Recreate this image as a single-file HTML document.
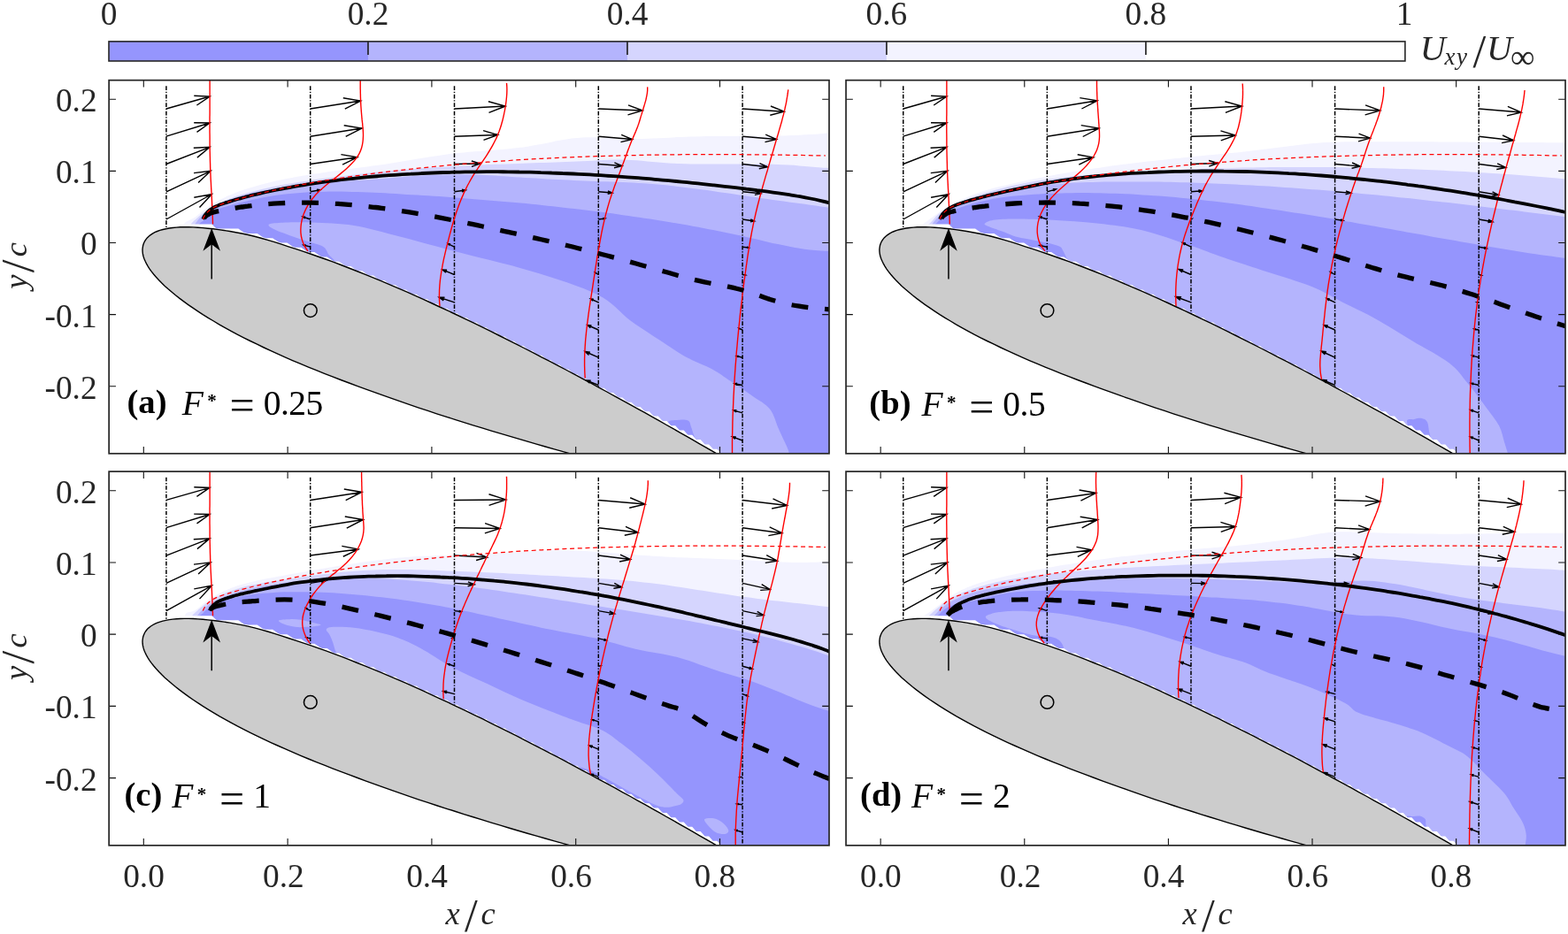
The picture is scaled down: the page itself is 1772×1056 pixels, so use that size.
<!DOCTYPE html>
<html lang="en"><head><meta charset="utf-8"><title>Velocity contours</title>
<style>
html,body{margin:0;padding:0;background:#fff;}
body{width:1772px;height:1056px;overflow:hidden;}
svg{display:block;}
text{font-family:"Liberation Serif","DejaVu Serif",serif;fill:#262626;}
.tk{font-size:37.3px;}
.lab{font-size:38px;fill:#000;}
.axl{font-size:36.5px;font-style:italic;}
.sl{font-size:53px;}
</style></head><body>
<svg width="1772" height="1056" viewBox="0 0 1772 1056">
<defs>
<clipPath id="clip"><rect x="123.15" y="90.7" width="813.85" height="422.1"/></clipPath>
</defs>
<rect width="1772" height="1056" fill="#fff"/>
<rect x="123.00" y="46.9" width="293.48" height="22.1" fill="#9595fd"/>
<rect x="415.98" y="46.9" width="293.48" height="22.1" fill="#b4b4fd"/>
<rect x="708.96" y="46.9" width="293.48" height="22.1" fill="#d5d5fe"/>
<rect x="1001.94" y="46.9" width="293.48" height="22.1" fill="#f3f3ff"/>
<rect x="1294.92" y="46.9" width="292.98" height="22.1" fill="#ffffff"/>
<path d="M415.98,46.9v15M708.96,46.9v15M1001.94,46.9v15M1294.92,46.9v15" stroke="#1a1a1a" stroke-width="1.6" fill="none"/>
<rect x="123" y="46.9" width="1464.9" height="22.1" fill="none" stroke="#262626" stroke-width="1.6"/>
<text x="123.0" y="27.6" class="tk" text-anchor="middle">0</text>
<text x="416.0" y="27.6" class="tk" text-anchor="middle">0.2</text>
<text x="709.0" y="27.6" class="tk" text-anchor="middle">0.4</text>
<text x="1001.9" y="27.6" class="tk" text-anchor="middle">0.6</text>
<text x="1294.9" y="27.6" class="tk" text-anchor="middle">0.8</text>
<text x="1587.0" y="27.6" class="tk" text-anchor="middle">1</text>
<text class="axl"><tspan x="1604.8" y="67.6" style="font-size:40px">U</tspan><tspan x="1632.5" y="73" style="font-size:27px;letter-spacing:1.6px">xy</tspan><tspan x="1664.5" y="75.6" class="sl" style="font-style:normal">/</tspan><tspan x="1680" y="67.6" style="font-size:40px">U</tspan><tspan x="1707" y="77" style="font-size:38.5px;font-style:normal">∞</tspan></text>
<g transform="translate(123.150,90.700) scale(1,1) translate(-123.15,-90.7)">
<g clip-path="url(#clip)">
<path d="M207.5,253.7C208.0,253.2 209.3,251.5 210.4,250.7C211.5,249.9 212.8,249.5 214.0,249.0C215.2,248.4 217.0,247.6 217.6,247.3C218.2,247.0 217.3,247.6 217.8,247.2C218.4,246.8 219.9,245.9 220.9,245.2C222.0,244.4 223.1,243.5 224.1,242.6C225.1,241.8 226.6,240.5 227.2,240.0C227.8,239.5 227.1,240.1 227.6,239.7C228.2,239.3 229.4,238.3 230.4,237.5C231.4,236.7 232.5,235.9 233.6,235.1C234.7,234.3 236.2,233.3 236.9,232.8C237.6,232.3 237.0,232.7 237.6,232.4C238.1,232.0 239.2,231.3 240.3,230.6C241.3,230.0 242.5,229.2 243.7,228.6C244.8,227.9 246.4,227.0 247.2,226.6C247.9,226.2 247.5,226.4 248.1,226.1C248.7,225.8 249.7,225.3 250.7,224.8C251.7,224.3 253.1,223.6 254.3,223.0C255.5,222.4 257.1,221.7 257.9,221.3C258.7,221.0 257.0,221.6 259.1,220.8C261.2,220.0 266.7,217.7 270.5,216.3C274.3,214.9 278.3,213.6 282.2,212.4C286.1,211.2 290.0,210.1 294.0,209.0C297.9,207.9 301.9,206.9 305.9,206.0C309.9,205.0 313.9,204.1 317.9,203.3C321.9,202.4 325.9,201.6 329.9,200.9C333.9,200.1 337.9,199.4 342.0,198.7C346.0,198.0 350.1,197.4 354.1,196.8C358.2,196.2 362.2,195.6 366.3,195.0C370.3,194.4 374.4,193.9 378.5,193.3C382.5,192.8 386.6,192.2 390.7,191.7C394.7,191.2 398.8,190.6 402.9,190.1C406.9,189.6 411.0,189.0 415.0,188.5C419.1,187.9 423.2,187.4 427.2,186.8C431.3,186.2 435.3,185.7 439.4,185.0C443.4,184.4 447.5,183.8 451.5,183.1C455.5,182.4 459.5,181.8 463.6,181.1C467.6,180.4 471.6,179.7 475.6,179.0C479.7,178.3 483.7,177.7 487.7,177.0C491.8,176.4 495.8,175.8 499.8,175.2C503.9,174.7 507.9,174.1 512.0,173.6C516.0,173.2 520.1,172.8 524.1,172.4C528.2,172.0 532.3,171.7 536.4,171.3C540.4,171.0 544.5,170.7 548.6,170.4C552.7,170.1 556.8,169.8 560.9,169.5C564.9,169.1 569.0,168.8 573.1,168.4C577.2,168.0 581.3,167.6 585.3,167.1C589.4,166.6 593.5,166.0 597.5,165.4C601.6,164.8 605.6,164.0 609.7,163.3C613.7,162.5 617.7,161.7 621.8,160.9C625.8,160.1 629.8,159.3 633.8,158.6C637.9,157.9 641.9,157.2 645.9,156.6C650.0,156.1 654.0,155.7 658.1,155.4C662.1,155.2 666.2,155.1 670.2,155.2C674.3,155.2 678.4,155.5 682.5,155.7C686.6,155.9 690.7,156.3 694.7,156.5C698.8,156.7 702.9,156.9 707.0,157.0C711.1,157.1 715.2,157.1 719.3,157.1C723.4,157.0 727.5,156.9 731.5,156.8C735.6,156.7 739.7,156.5 743.8,156.3C747.9,156.1 752.0,155.9 756.1,155.7C760.1,155.5 764.2,155.2 768.3,155.1C772.4,154.9 776.5,154.7 780.6,154.6C784.7,154.4 788.8,154.3 792.8,154.2C796.9,154.1 801.0,154.1 805.1,154.0C809.2,154.0 813.3,153.9 817.4,153.9C821.5,153.9 825.6,153.9 829.7,153.9C833.7,153.8 837.8,153.8 841.9,153.8C846.0,153.8 850.1,153.8 854.2,153.8C858.3,153.7 862.4,153.7 866.5,153.7C870.6,153.6 874.6,153.6 878.7,153.5C882.8,153.4 886.9,153.3 891.0,153.2C895.1,153.1 899.2,152.9 903.2,152.7C907.3,152.5 911.4,152.3 915.5,152.1C919.6,151.8 923.7,151.5 927.8,151.2C931.8,150.8 938.0,150.2 940.0,150.0L945.0,520.0L780.0,520.0L245.0,300.0L215.0,262.0Z" fill="#f3f3ff"/>
<path d="M216.0,253.0C216.5,252.5 217.8,251.1 218.8,250.1C219.7,249.2 220.7,248.3 221.7,247.4C222.7,246.5 224.2,245.2 224.7,244.7C225.3,244.2 224.4,245.0 224.9,244.5C225.5,244.1 226.8,243.0 227.8,242.2C228.9,241.4 230.0,240.6 231.1,239.8C232.1,239.0 233.7,237.9 234.4,237.5C235.0,237.1 234.3,237.6 234.8,237.2C235.4,236.8 236.7,236.0 237.7,235.4C238.8,234.7 240.0,234.0 241.2,233.3C242.3,232.7 243.9,231.8 244.6,231.4C245.4,231.1 244.8,231.3 245.4,231.0C246.0,230.7 247.1,230.2 248.2,229.6C249.3,229.1 250.6,228.5 251.8,227.9C253.0,227.4 254.7,226.7 255.5,226.3C256.2,226.0 255.9,226.2 256.5,225.9C257.1,225.7 258.1,225.3 259.2,224.8C260.2,224.4 261.7,223.9 262.9,223.4C264.2,223.0 265.8,222.4 266.7,222.1C267.5,221.8 265.8,222.3 268.0,221.6C270.2,221.0 275.8,219.1 279.8,218.0C283.8,216.9 287.7,215.9 291.7,214.9C295.7,213.9 299.7,213.0 303.7,212.2C307.7,211.3 311.7,210.5 315.8,209.7C319.8,208.9 323.8,208.2 327.8,207.5C331.8,206.8 335.9,206.1 339.9,205.5C343.9,204.9 348.0,204.3 352.0,203.7C356.1,203.1 360.1,202.6 364.2,202.0C368.2,201.5 372.3,200.9 376.3,200.4C380.4,199.9 384.4,199.4 388.5,198.9C392.5,198.4 396.6,197.9 400.7,197.4C404.7,197.0 408.8,196.5 412.9,196.1C416.9,195.6 421.0,195.2 425.1,194.8C429.2,194.4 433.2,194.0 437.3,193.6C441.4,193.2 445.5,192.8 449.6,192.5C453.6,192.1 457.7,191.8 461.8,191.4C465.9,191.1 470.0,190.8 474.1,190.5C478.1,190.2 482.2,189.9 486.3,189.6C490.4,189.3 494.5,189.0 498.6,188.8C502.7,188.5 506.7,188.3 510.8,188.1C514.9,187.8 519.0,187.6 523.1,187.4C527.2,187.2 531.3,187.0 535.4,186.8C539.5,186.6 543.5,186.5 547.6,186.3C551.7,186.1 555.8,186.0 559.9,185.8C564.0,185.7 568.1,185.5 572.2,185.4C576.2,185.2 580.3,185.1 584.4,184.9C588.5,184.8 592.6,184.7 596.7,184.5C600.8,184.4 604.9,184.3 609.0,184.1C613.0,184.0 617.1,183.8 621.2,183.7C625.3,183.6 629.4,183.4 633.5,183.2C637.6,183.1 641.7,182.9 645.8,182.8C649.8,182.6 653.9,182.4 658.0,182.2C662.1,182.1 666.2,181.9 670.3,181.7C674.4,181.4 678.5,181.2 682.5,181.0C686.6,180.8 690.7,180.6 694.8,180.6C698.9,180.5 703.0,180.5 707.0,180.7C711.1,180.8 715.2,181.1 719.3,181.3C723.3,181.6 727.4,182.0 731.5,182.4C735.6,182.7 739.7,183.1 743.7,183.5C747.8,183.8 751.9,184.1 756.0,184.4C760.1,184.6 764.1,184.8 768.2,185.0C772.3,185.2 776.4,185.3 780.5,185.4C784.6,185.5 788.7,185.5 792.8,185.6C796.9,185.6 801.0,185.6 805.0,185.6C809.1,185.6 813.2,185.6 817.3,185.6C821.4,185.5 825.5,185.5 829.6,185.5C833.7,185.5 837.8,185.4 841.9,185.4C846.0,185.4 850.1,185.4 854.2,185.4C858.3,185.5 862.4,185.5 866.5,185.6C870.6,185.7 874.6,185.8 878.7,185.9C882.8,186.1 886.9,186.3 891.0,186.5C895.1,186.7 899.2,187.0 903.3,187.4C907.3,187.7 911.4,188.1 915.5,188.4C919.6,188.8 923.7,189.2 927.7,189.4C931.8,189.7 938.0,189.9 940.0,190.0L945.0,520.0L780.0,520.0L245.0,300.0L215.0,262.0Z" fill="#d5d5fe"/>
<path d="M221.0,252.5C221.4,251.9 222.5,250.3 223.3,249.2C224.1,248.1 225.0,247.1 225.9,246.2C226.8,245.2 228.3,243.8 228.8,243.4C229.3,242.9 228.4,243.6 228.9,243.2C229.4,242.8 230.8,241.6 231.8,240.8C232.8,240.0 233.9,239.1 235.0,238.4C236.1,237.6 237.7,236.6 238.4,236.2C239.0,235.8 238.1,236.3 238.7,235.9C239.3,235.6 240.7,234.7 241.8,234.1C242.9,233.5 244.1,232.8 245.3,232.2C246.5,231.5 248.2,230.7 248.9,230.4C249.6,230.0 248.8,230.4 249.5,230.1C250.1,229.8 251.4,229.2 252.5,228.7C253.6,228.2 254.9,227.6 256.2,227.1C257.4,226.6 259.2,225.9 259.9,225.6C260.7,225.3 260.1,225.5 260.7,225.3C261.3,225.1 262.6,224.6 263.7,224.2C264.8,223.9 266.2,223.4 267.5,223.0C268.8,222.6 270.5,222.0 271.3,221.8C272.2,221.5 270.2,222.0 272.4,221.5C274.5,220.9 280.3,219.3 284.3,218.3C288.3,217.4 292.3,216.5 296.4,215.7C300.4,214.9 304.4,214.2 308.5,213.4C312.5,212.7 316.5,212.1 320.5,211.4C324.5,210.8 328.5,210.2 332.5,209.6C336.5,209.1 340.5,208.6 344.5,208.1C348.5,207.6 352.6,207.2 356.6,206.8C360.6,206.4 364.6,206.0 368.6,205.7C372.6,205.4 376.6,205.1 380.7,204.8C384.7,204.6 388.8,204.4 392.8,204.2C396.9,204.0 400.9,203.9 405.0,203.8C409.1,203.6 413.1,203.4 417.2,203.2C421.2,202.9 425.3,202.6 429.3,202.3C433.4,202.0 437.4,201.6 441.5,201.3C445.5,200.9 449.6,200.6 453.6,200.3C457.7,199.9 461.8,199.6 465.8,199.3C469.9,199.1 473.9,198.8 478.0,198.6C482.0,198.3 486.1,198.1 490.2,197.9C494.2,197.8 498.3,197.6 502.4,197.5C506.4,197.5 510.5,197.4 514.6,197.4C518.6,197.4 522.7,197.4 526.8,197.5C530.8,197.6 534.9,197.7 539.0,197.8C543.0,198.0 547.1,198.1 551.2,198.3C555.3,198.5 559.3,198.8 563.4,199.0C567.5,199.2 571.5,199.5 575.6,199.7C579.7,200.0 583.7,200.2 587.8,200.5C591.9,200.8 595.9,201.0 600.0,201.3C604.1,201.5 608.1,201.8 612.2,202.0C616.3,202.3 620.3,202.5 624.4,202.7C628.5,202.9 632.5,203.1 636.6,203.3C640.7,203.6 644.7,203.7 648.8,203.9C652.9,204.1 656.9,204.3 661.0,204.4C665.1,204.6 669.1,204.8 673.2,204.9C677.3,205.0 681.3,205.1 685.4,205.3C689.5,205.4 693.5,205.5 697.6,205.7C701.7,205.8 705.7,206.0 709.8,206.2C713.9,206.4 717.9,206.6 722.0,206.9C726.1,207.1 730.1,207.4 734.2,207.8C738.2,208.1 742.3,208.4 746.3,208.8C750.4,209.2 754.4,209.6 758.5,210.1C762.5,210.5 766.6,211.0 770.6,211.5C774.7,211.9 778.7,212.4 782.8,213.0C786.8,213.5 790.8,214.0 794.9,214.6C798.9,215.1 803.0,215.7 807.0,216.2C811.0,216.8 815.1,217.4 819.1,218.0C823.1,218.5 827.1,219.1 831.2,219.7C835.2,220.3 839.2,220.9 843.2,221.5C847.3,222.1 851.3,222.7 855.3,223.3C859.3,223.9 863.3,224.5 867.4,225.0C871.4,225.6 875.4,226.2 879.4,226.8C883.4,227.3 887.5,227.9 891.5,228.5C895.5,229.0 899.5,229.6 903.6,230.1C907.6,230.7 911.6,231.2 915.7,231.8C919.7,232.3 923.8,232.9 927.8,233.4C931.9,233.9 938.0,234.7 940.0,235.0L945.0,520.0L780.0,520.0L245.0,300.0L215.0,262.0Z" fill="#b4b4fd"/>
<path d="M227.5,251.0C228.0,250.6 229.6,250.0 230.4,248.9C231.2,247.8 231.5,245.7 232.3,244.5C233.0,243.2 234.5,241.9 235.0,241.4C235.5,240.8 234.6,241.5 235.2,241.2C235.8,240.9 237.3,240.0 238.5,239.4C239.6,238.9 241.0,238.4 242.2,237.9C243.5,237.4 245.3,236.8 246.0,236.5C246.7,236.3 245.9,236.6 246.5,236.4C247.2,236.1 248.6,235.7 249.8,235.3C251.0,234.9 252.3,234.5 253.6,234.1C254.9,233.7 256.7,233.2 257.4,233.0C258.2,232.8 257.6,232.9 258.3,232.8C258.9,232.6 260.1,232.3 261.3,231.9C262.4,231.6 263.9,231.2 265.1,230.9C266.4,230.6 268.2,230.1 269.0,229.9C269.8,229.7 269.5,229.8 270.1,229.6C270.8,229.4 271.8,229.2 272.9,228.9C274.0,228.6 275.5,228.2 276.8,227.9C278.1,227.6 279.8,227.2 280.7,226.9C281.6,226.7 279.8,227.1 282.1,226.6C284.3,226.1 290.1,224.8 294.1,224.0C298.1,223.2 302.1,222.5 306.2,221.8C310.2,221.1 314.2,220.6 318.3,220.1C322.3,219.5 326.4,219.1 330.4,218.7C334.5,218.3 338.6,218.0 342.6,217.7C346.7,217.4 350.8,217.2 354.9,217.0C359.0,216.9 363.1,216.8 367.2,216.7C371.3,216.6 375.4,216.6 379.5,216.6C383.6,216.6 387.7,216.6 391.8,216.7C395.9,216.8 400.0,216.9 404.1,217.0C408.2,217.1 412.3,217.3 416.4,217.5C420.6,217.6 424.7,217.8 428.8,218.0C432.9,218.2 437.0,218.5 441.1,218.7C445.2,218.9 449.3,219.2 453.4,219.4C457.5,219.7 461.7,219.9 465.8,220.2C469.9,220.4 474.0,220.7 478.1,221.0C482.2,221.2 486.2,221.5 490.3,221.8C494.4,222.0 498.5,222.3 502.6,222.6C506.7,222.9 510.8,223.2 514.9,223.5C519.0,223.8 523.1,224.1 527.1,224.4C531.2,224.7 535.3,225.0 539.4,225.4C543.5,225.7 547.5,226.0 551.6,226.4C555.7,226.7 559.8,227.1 563.8,227.4C567.9,227.8 572.0,228.1 576.1,228.5C580.1,228.9 584.2,229.2 588.3,229.6C592.3,230.0 596.4,230.4 600.5,230.8C604.5,231.2 608.6,231.6 612.7,232.0C616.7,232.5 620.8,232.9 624.9,233.3C628.9,233.8 633.0,234.2 637.0,234.7C641.1,235.1 645.2,235.6 649.2,236.1C653.3,236.5 657.3,237.0 661.4,237.5C665.5,238.0 669.5,238.5 673.6,239.0C677.6,239.5 681.7,240.1 685.7,240.6C689.8,241.1 693.9,241.7 697.9,242.2C702.0,242.8 706.0,243.4 710.1,243.9C714.1,244.5 718.2,245.1 722.2,245.7C726.3,246.3 730.3,246.9 734.4,247.6C738.4,248.2 742.5,248.8 746.5,249.5C750.6,250.1 754.7,250.8 758.7,251.5C762.7,252.1 766.8,252.8 770.8,253.5C774.9,254.2 778.9,254.9 783.0,255.7C787.0,256.4 791.0,257.2 795.1,257.9C799.1,258.7 803.1,259.5 807.2,260.3C811.2,261.1 815.2,261.9 819.2,262.7C823.2,263.5 827.2,264.4 831.2,265.2C835.3,266.1 839.3,267.0 843.3,267.9C847.2,268.8 851.2,269.7 855.2,270.6C859.2,271.6 863.2,272.5 867.2,273.4C871.1,274.4 875.1,275.3 879.1,276.1C883.1,277.0 887.1,277.9 891.1,278.6C895.1,279.4 899.1,280.2 903.1,280.8C907.2,281.4 911.2,282.0 915.3,282.5C919.4,282.9 923.5,283.3 927.6,283.5C931.7,283.7 937.9,283.7 940.0,283.7L945.0,520.0L780.0,520.0L245.0,300.0L215.0,262.0Z" fill="#9595fd"/>
<path d="M376.2,292.5C375.4,291.7 373.1,289.8 371.2,287.5C369.4,285.2 369.2,281.2 365.0,278.8C360.8,276.2 352.5,274.6 346.2,272.5C340.0,270.4 333.8,268.5 327.5,266.2C321.2,264.0 312.7,260.8 308.8,258.8C304.8,256.7 302.7,254.9 303.8,253.8C304.8,252.6 306.9,252.3 315.0,251.9C323.1,251.5 338.3,251.0 352.5,251.5C366.7,252.0 383.8,252.4 400.0,255.0C416.2,257.6 431.2,262.2 450.0,267.0C468.8,271.8 487.5,277.2 512.5,283.8C537.5,290.3 572.9,298.3 600.0,306.5C627.1,314.7 656.2,323.7 675.0,333.0C693.8,342.3 700.0,353.4 712.5,362.5C725.0,371.6 739.6,380.7 750.0,387.5C760.4,394.3 765.8,398.5 775.0,403.5C784.2,408.5 796.7,413.0 805.0,417.5C813.3,422.0 817.5,425.5 825.0,430.5C832.5,435.5 842.5,442.2 850.0,447.5C857.5,452.8 865.0,456.2 870.0,462.5C875.0,468.8 877.3,479.1 880.0,485.0C882.7,490.9 884.2,494.2 886.0,498.0C887.8,501.8 889.4,505.0 890.5,508.0C891.6,511.0 892.2,514.7 892.5,516.0L780.0,520.0L500.0,400.0L390.0,310.0Z" fill="#b4b4fd"/>
<path d="M755.0,478.8C754.2,474.6 761.2,475.5 765.0,475.0C768.8,474.5 774.8,474.2 777.5,475.5C780.2,476.8 780.0,479.9 781.0,482.5C782.0,485.1 782.2,486.4 783.8,491.0C785.2,495.6 792.3,508.5 790.0,510.0C787.7,511.5 775.8,505.2 770.0,500.0C764.2,494.8 755.8,482.9 755.0,478.8Z" fill="#9595fd"/>
<path d="M204.0,256.5L206.0,253.6L239.5,253.6L243.5,257.4L245.0,258.6L269.3,258.6L275.8,263.0L280.1,263.9L290.7,263.9L297.2,268.3L300.3,269.2L308.1,269.2L314.6,273.6L317.4,274.5L324.5,274.5L331.0,278.9L333.7,279.8L340.3,279.8L346.8,284.2L349.3,285.1L355.4,285.1L361.8,289.4L364.1,290.4L369.6,290.4L375.6,294.6L378.2,295.7L383.3,295.7L388.8,299.7L391.9,301.0L396.6,301.0L401.7,304.9L405.1,306.3L409.5,306.3L414.3,310.0L417.9,311.6L422.1,311.6L426.5,315.2L430.5,316.9L434.5,316.9L438.6,320.3L443.0,322.2L446.9,322.2L450.9,325.6L455.2,327.5L459.0,327.5L463.0,330.9L467.3,332.8L470.9,332.8L474.9,336.2L479.1,338.1L482.6,338.1L486.6,341.5L490.7,343.4L494.1,343.4L498.1,346.8L502.1,348.7L505.4,348.7L509.4,352.1L513.4,354.0L516.6,354.0L520.6,357.4L524.6,359.3L527.6,359.3L531.6,362.7L535.6,364.6L538.5,364.6L542.5,368.0L546.4,369.9L549.3,369.9L553.3,373.3L557.2,375.2L560.0,375.2L564.0,378.6L567.8,380.5L570.6,380.5L574.6,383.9L578.4,385.8L581.1,385.8L585.1,389.2L588.8,391.1L591.5,391.1L595.5,394.5L599.2,396.4L601.8,396.4L605.8,399.8L609.5,401.7L612.0,401.7L616.0,405.1L619.7,407.0L622.2,407.0L626.2,410.4L629.8,412.3L632.2,412.3L636.2,415.7L639.8,417.6L642.2,417.6L646.2,421.0L649.8,422.9L652.2,422.9L656.2,426.3L659.7,428.2L662.1,428.2L666.1,431.6L669.9,433.5L672.4,433.5L676.5,437.1L680.0,438.8L682.8,438.8L686.9,442.6L690.1,444.1L693.1,444.1L697.3,448.1L700.1,449.4L703.4,449.4L707.6,453.6L710.1,454.7L713.5,454.7L717.9,459.0L719.9,460.0L723.7,460.0L728.1,464.5L729.8,465.3L733.7,465.3L738.2,470.0L739.6,470.6L743.7,470.6L748.3,475.5L749.2,475.9L753.5,475.9L758.1,480.9L758.8,481.2L763.2,481.2L767.7,486.3L768.4,486.5L772.7,486.5L777.3,491.6L777.9,491.8L782.2,491.8L786.8,496.9L787.3,497.1L791.7,497.1L796.3,502.3L796.7,502.4L801.1,502.4L805.7,507.6L806.0,507.7L810.5,507.7L815.0,512.9L815.3,513.0L819.8,513.0L824.5,518.3L829.0,518.3L830.0,530.0L300.0,320.0L220.0,270.0Z" fill="#fff"/>
<path d="M162.5,275.0L163.5,272.8L164.8,270.8L166.3,268.9L168.1,267.2L170.1,265.6L172.4,264.1L174.9,262.7L177.7,261.5L180.7,260.4L184.0,259.5L187.5,258.7L191.2,258.0L195.2,257.5L199.4,257.1L203.8,256.8L208.4,256.7L213.3,256.7L218.4,256.9L223.7,257.2L229.2,257.6L234.9,258.2L240.9,258.8L247.0,259.6L253.3,260.5L259.8,261.5L266.5,262.7L273.3,264.0L280.4,265.5L287.6,267.2L295.0,269.2L302.5,271.3L310.2,273.7L318.0,276.2L326.0,278.8L334.1,281.4L342.3,284.2L350.7,287.0L359.2,290.0L367.8,293.0L376.5,296.2L385.3,299.5L394.2,303.0L403.2,306.5L412.3,310.1L421.5,313.9L430.7,317.7L440.0,321.6L449.4,325.6L458.8,329.7L468.3,333.9L477.8,338.2L487.3,342.5L496.9,347.0L506.5,351.4L516.2,356.0L525.8,360.6L535.4,365.2L545.1,369.9L554.7,374.7L564.4,379.5L574.0,384.3L583.6,389.1L593.1,394.0L602.7,398.9L612.1,403.8L621.6,408.7L631.0,413.6L640.3,418.5L649.5,423.4L658.7,428.4L667.8,433.2L676.8,438.1L685.8,443.0L694.6,447.8L703.3,452.6L712.0,457.3L720.5,462.1L728.9,466.7L737.2,471.4L745.3,475.9L753.3,480.5L761.2,484.9L768.9,489.3L776.5,493.6L783.9,497.9L791.1,502.1L798.2,506.2L805.2,510.2L811.9,514.1L818.5,518.0L824.9,521.7L831.1,525.4L837.1,528.9L842.9,532.4L848.5,535.7L853.9,538.9L859.1,542.1L864.2,545.1L868.9,547.9L873.5,550.7L877.9,553.4L882.0,555.9L885.9,558.2L889.6,560.5L893.1,562.6L896.3,564.6L899.3,566.4L902.1,568.1L904.6,569.7L906.9,571.1L909.0,572.4L910.8,573.5L912.4,574.5L913.7,575.3L914.8,576.0L915.7,576.5L916.3,576.9L916.7,577.1L916.8,577.2L915.7,579.5L915.3,579.4L914.6,579.3L913.6,579.1L912.3,578.8L910.8,578.5L909.0,578.1L906.9,577.6L904.5,577.1L901.8,576.5L898.9,575.9L895.8,575.2L892.3,574.4L888.6,573.6L884.6,572.8L880.4,571.8L875.9,570.8L871.2,569.8L866.2,568.6L861.0,567.4L855.5,566.2L849.8,564.9L843.9,563.5L837.8,562.1L831.4,560.6L824.8,559.1L818.0,557.4L811.0,555.8L803.8,554.0L796.4,552.2L788.8,550.4L781.0,548.5L773.0,546.5L764.9,544.5L756.6,542.4L748.1,540.3L739.5,538.1L730.7,535.9L721.8,533.6L712.8,531.2L703.6,528.8L694.3,526.3L684.9,523.8L675.4,521.3L665.7,518.7L656.0,516.0L646.2,513.3L636.3,510.6L626.4,507.8L616.3,505.0L606.3,502.1L596.1,499.2L585.9,496.2L575.7,493.2L565.5,490.1L555.2,487.1L544.9,483.9L534.7,480.8L524.4,477.6L514.1,474.3L503.9,471.1L493.6,467.8L483.5,464.4L473.3,461.1L463.2,457.6L453.2,454.2L443.2,450.7L433.3,447.2L423.5,443.7L413.7,440.2L404.1,436.6L394.5,433.0L385.1,429.5L375.8,425.9L366.6,422.3L357.5,418.7L348.6,415.1L339.8,411.4L331.2,407.8L322.7,404.1L314.4,400.4L306.2,396.7L298.3,393.0L290.5,389.2L282.8,385.5L275.4,381.8L268.2,378.1L261.2,374.3L254.4,370.6L247.7,366.8L241.4,363.0L235.2,359.3L229.2,355.6L223.5,351.9L218.0,348.2L212.8,344.6L207.7,340.9L203.0,337.4L198.4,333.8L194.2,330.3L190.1,326.8L186.3,323.4L182.8,320.1L179.6,316.8L176.6,313.5L173.8,310.3L171.3,307.2L169.1,304.1L167.2,301.1L165.5,298.1L164.1,295.3L162.9,292.5L162.0,289.7L161.4,287.1L161.1,284.5L161.0,282.0L161.3,279.6L161.7,277.3L162.5,275.0Z" fill="#cccccc" stroke="#000" stroke-width="1.4"/>
<path d="M187.90,97.3V258.6" stroke="#000" stroke-width="1.5" stroke-dasharray="4.6 1.8 1.3 1.8" fill="none"/>
<path d="M350.70,97.3V287.0" stroke="#000" stroke-width="1.5" stroke-dasharray="4.6 1.8 1.3 1.8" fill="none"/>
<path d="M513.50,97.3V354.7" stroke="#000" stroke-width="1.5" stroke-dasharray="4.6 1.8 1.3 1.8" fill="none"/>
<path d="M676.30,97.3V437.8" stroke="#000" stroke-width="1.5" stroke-dasharray="4.6 1.8 1.3 1.8" fill="none"/>
<path d="M839.10,97.3V513.0" stroke="#000" stroke-width="1.5" stroke-dasharray="4.6 1.8 1.3 1.8" fill="none"/>
<path d="M187.9,123.0L237.1,109.0M219.3,108.3L237.1,109.0L222.4,119.0M187.9,154.2L237.1,139.0M219.2,138.7L237.1,139.0L222.5,149.4M187.9,185.5L237.1,166.4M218.8,167.3L237.1,166.4L222.9,178.1M187.9,216.8L238.1,193.3M219.0,195.6L238.1,193.3L224.1,206.5M187.9,248.0L239.4,219.5M219.3,223.3L239.4,219.5L225.5,234.5M350.7,123.0L407.6,114.0M387.8,110.8L407.6,114.0L389.8,123.2M350.7,154.2L408.9,145.0M388.7,141.7L408.9,145.0L390.7,154.4M350.7,185.5L403.8,177.8M385.4,174.6L403.8,177.8L387.1,186.1M350.7,216.8L362.0,214.7M358.0,214.1L362.0,214.7L358.5,216.6M350.7,248.0L342.2,245.0M344.7,246.9L342.2,245.0L345.3,245.1M350.7,279.2L343.0,277.0M345.3,278.6L343.0,277.0L345.8,276.9M513.5,123.0L571.2,120.0M551.9,114.7L571.2,120.0L552.5,127.3M513.5,154.2L562.5,152.5M546.1,147.7L562.5,152.5L546.5,158.4M513.5,185.5L542.5,185.0M532.9,182.0L542.5,185.0L533.0,188.3M513.5,216.8L526.2,215.0M521.9,214.2L526.2,215.0L522.2,217.0M513.5,248.0L513.0,247.0M513.1,247.4L513.0,247.0L513.3,247.3M513.5,279.2L506.2,275.5M508.2,277.5L506.2,275.5L509.1,275.9M513.5,310.5L500.0,305.0M503.9,308.3L500.0,305.0L505.1,305.3M513.5,341.8L496.2,336.2M501.3,339.9L496.2,336.2L502.5,336.2M676.3,123.0L726.2,125.0M710.0,118.9L726.2,125.0L709.5,129.8M676.3,154.2L714.5,157.5M702.2,152.3L714.5,157.5L701.5,160.6M676.3,185.5L703.0,187.5M694.4,183.9L703.0,187.5L694.0,189.7M676.3,216.8L692.0,218.0M687.0,215.9L692.0,218.0L686.7,219.3M676.3,248.0L683.8,247.0M681.2,246.5L683.8,247.0L681.4,248.1M676.3,279.2L677.0,279.0M676.7,279.0L677.0,279.0L676.8,279.2M676.3,310.5L672.5,308.0M673.5,309.2L672.5,308.0L674.0,308.4M676.3,341.8L667.5,338.0M670.0,340.2L667.5,338.0L670.8,338.3M676.3,373.0L663.8,367.5M667.3,370.7L663.8,367.5L668.5,367.9M676.3,404.2L661.2,397.5M665.5,401.4L661.2,397.5L667.0,398.1M676.3,435.5L662.5,430.0M666.5,433.3L662.5,430.0L667.7,430.3M839.1,123.0L886.2,126.2M871.0,120.0L886.2,126.2L870.3,130.3M839.1,154.2L877.5,157.5M865.2,152.2L877.5,157.5L864.5,160.6M839.1,185.5L867.5,188.8M858.5,184.6L867.5,188.8L857.8,190.8M839.1,216.8L860.0,218.8M853.3,215.8L860.0,218.8L852.9,220.4M839.1,248.0L852.5,250.0M848.3,247.9L852.5,250.0L847.9,250.8M839.1,279.2L846.2,280.0M844.0,279.0L846.2,280.0L843.8,280.5M839.1,310.5L842.5,311.0M841.4,310.5L842.5,311.0L841.3,311.2M839.1,341.8L839.0,342.0M839.1,341.9L839.0,342.0L839.0,341.9M839.1,373.0L835.0,371.2M836.2,372.3L835.0,371.2L836.5,371.4M839.1,404.2L832.5,402.5M834.5,403.8L832.5,402.5L834.9,402.4M839.1,435.5L830.0,433.8M832.8,435.3L830.0,433.8L833.2,433.3M839.1,466.8L828.8,463.8M831.8,465.9L828.8,463.8L832.5,463.6M839.1,498.0L827.5,493.8M830.9,496.4L827.5,493.8L831.8,493.9" stroke="#000" stroke-width="1.4" fill="none" stroke-linejoin="miter"/>
<path d="M237.1,88.0C237.1,88.7 237.1,90.7 237.1,92.0C237.1,93.3 237.1,94.9 237.1,95.5C237.1,96.2 237.1,95.3 237.1,96.0C237.1,96.7 237.1,98.8 237.1,100.0C237.1,101.2 237.1,102.4 237.1,103.1C237.1,103.7 237.1,103.2 237.1,104.0C237.1,104.8 237.1,106.9 237.1,108.0C237.1,109.1 237.1,109.9 237.1,110.6C237.1,111.2 237.1,111.1 237.1,112.0C237.1,112.9 237.1,115.0 237.1,116.0C237.1,117.0 237.1,117.4 237.1,118.1C237.1,118.8 237.1,119.0 237.1,120.0C237.1,121.0 237.1,123.1 237.1,124.0C237.1,124.9 237.1,125.0 237.1,125.6C237.1,126.3 237.1,126.9 237.1,128.0C237.1,129.1 237.1,131.1 237.0,132.0C237.0,132.9 237.0,132.5 237.0,133.2C237.0,133.8 237.0,134.9 237.0,136.0C237.0,137.1 237.0,139.2 237.0,140.0C237.0,140.8 237.0,140.0 237.0,140.7C237.0,141.4 237.0,142.8 237.0,144.0C237.0,145.2 237.0,147.3 237.0,148.0C237.0,148.7 237.0,146.9 237.0,148.2C237.0,149.5 237.1,153.2 237.1,155.7C237.1,158.3 237.1,160.8 237.1,163.3C237.2,165.8 237.2,168.3 237.2,170.8C237.3,173.3 237.3,175.8 237.4,178.3C237.4,180.8 237.5,183.3 237.6,185.8C237.6,188.3 237.7,190.9 237.8,193.4C237.9,195.9 238.0,198.4 238.1,200.9C238.2,203.4 238.4,205.9 238.5,208.4C238.6,210.9 238.7,213.4 238.9,215.9C239.0,218.4 239.1,220.9 239.3,223.4C239.4,225.9 239.5,228.4 239.6,230.9C239.8,233.5 239.9,236.0 240.0,238.5C240.1,241.0 240.2,243.5 240.3,246.0C240.4,248.5 240.5,252.2 240.5,253.5" stroke="#ff0000" stroke-width="1.4" fill="none"/>
<path d="M407.2,88.0C407.2,88.7 407.2,90.8 407.2,92.0C407.2,93.2 407.2,94.6 407.2,95.2C407.2,95.9 407.2,95.2 407.2,96.0C407.2,96.8 407.2,98.9 407.2,100.0C407.2,101.1 407.3,101.8 407.3,102.5C407.3,103.1 407.3,103.1 407.3,104.0C407.3,104.9 407.4,107.1 407.4,108.0C407.4,109.0 407.4,109.0 407.4,109.7C407.5,110.4 407.5,111.0 407.5,112.0C407.6,113.1 407.7,115.2 407.7,116.0C407.7,116.8 407.7,116.3 407.7,116.9C407.8,117.6 407.8,118.8 407.9,120.0C408.0,121.2 408.1,123.3 408.2,124.0C408.2,124.7 408.1,123.5 408.2,124.1C408.2,124.8 408.4,126.8 408.5,128.0C408.6,129.2 408.7,130.7 408.8,131.3C408.8,132.0 408.8,131.2 408.8,131.9C408.9,132.7 409.1,134.8 409.2,135.9C409.4,137.0 409.4,137.9 409.5,138.5C409.6,139.2 409.6,139.0 409.7,139.9C409.7,140.8 409.9,142.9 410.0,143.9C410.1,144.9 410.1,145.1 410.2,145.8C410.2,146.4 410.3,146.7 410.3,147.9C410.4,149.1 410.5,150.9 410.5,153.0C410.4,155.1 410.4,157.9 410.0,160.3C409.7,162.6 409.3,165.0 408.6,167.3C407.9,169.6 407.0,171.8 405.9,173.9C404.8,176.0 403.4,177.9 401.9,179.9C400.5,181.8 398.8,183.6 397.1,185.3C395.4,187.1 393.6,188.8 391.8,190.4C390.0,192.0 388.2,193.6 386.3,195.1C384.4,196.7 382.5,198.2 380.6,199.7C378.7,201.2 376.8,202.7 374.9,204.2C373.0,205.7 371.0,207.1 369.2,208.7C367.3,210.2 365.5,211.8 363.7,213.4C362.0,215.0 360.2,216.6 358.6,218.3C356.9,220.0 355.3,221.8 353.8,223.7C352.3,225.5 350.9,227.5 349.6,229.5C348.2,231.5 347.0,233.7 345.9,235.9C344.8,238.1 343.9,240.3 343.0,242.6C342.2,244.9 341.5,247.3 341.0,249.7C340.5,252.0 340.1,254.4 340.0,256.8C339.8,259.2 339.8,261.6 340.0,263.9C340.2,266.3 340.6,268.6 341.3,270.9C341.9,273.2 342.8,275.5 343.9,277.6C345.0,279.8 347.2,282.9 347.9,283.9" stroke="#ff0000" stroke-width="1.4" fill="none"/>
<path d="M572.5,93.8C572.6,94.4 572.7,96.6 572.8,97.8C572.9,99.0 572.9,100.4 572.9,101.0C572.9,101.7 572.9,101.0 572.9,101.8C572.9,102.6 572.8,104.7 572.8,105.8C572.7,106.9 572.7,107.6 572.6,108.3C572.6,108.9 572.6,108.8 572.5,109.8C572.4,110.7 572.2,112.8 572.1,113.7C572.0,114.7 572.0,114.8 571.9,115.4C571.8,116.1 571.7,116.6 571.6,117.7C571.4,118.7 571.1,120.8 571.0,121.6C570.8,122.4 570.9,121.9 570.8,122.6C570.7,123.2 570.5,124.4 570.3,125.6C570.0,126.7 569.6,128.8 569.5,129.5C569.3,130.2 569.6,129.0 569.4,129.7C569.3,130.4 568.9,132.2 568.6,133.4C568.3,134.6 567.9,136.1 567.8,136.8C567.6,137.4 567.8,136.6 567.6,137.3C567.4,138.0 566.8,140.1 566.5,141.2C566.2,142.2 565.9,143.1 565.7,143.7C565.5,144.4 565.6,144.2 565.3,145.0C565.0,145.8 564.3,147.8 564.0,148.8C563.6,149.7 563.5,149.9 563.3,150.6C563.0,151.2 563.0,151.4 562.5,152.5C562.0,153.6 561.3,155.3 560.4,157.2C559.5,159.0 558.3,161.5 557.1,163.6C556.0,165.7 554.8,167.8 553.5,169.9C552.3,172.0 551.0,174.0 549.7,176.1C548.4,178.1 547.0,180.1 545.6,182.1C544.3,184.2 542.9,186.1 541.5,188.2C540.2,190.2 538.8,192.1 537.5,194.2C536.2,196.2 534.9,198.2 533.6,200.3C532.4,202.3 531.2,204.4 530.1,206.5C528.9,208.6 527.8,210.8 526.8,212.9C525.7,215.1 524.7,217.2 523.7,219.4C522.8,221.6 521.8,223.8 520.9,226.1C520.0,228.3 519.1,230.5 518.3,232.8C517.5,235.1 516.7,237.3 515.9,239.6C515.1,241.9 514.4,244.2 513.6,246.5C512.9,248.8 512.2,251.2 511.5,253.5C510.9,255.8 510.2,258.1 509.6,260.5C508.9,262.8 508.3,265.2 507.7,267.5C507.1,269.9 506.5,272.2 505.9,274.6C505.3,276.9 504.7,279.3 504.1,281.6C503.6,284.0 503.0,286.3 502.5,288.7C501.9,291.1 501.4,293.4 500.9,295.8C500.4,298.1 500.0,300.5 499.6,302.9C499.1,305.2 498.7,307.6 498.4,310.0C498.0,312.3 497.7,314.7 497.4,317.1C497.2,319.5 496.9,321.9 496.8,324.3C496.6,326.7 496.5,329.1 496.5,331.5C496.4,333.9 496.4,336.3 496.5,338.7C496.6,341.1 496.9,344.8 497.0,346.0" stroke="#ff0000" stroke-width="1.4" fill="none"/>
<path d="M731.8,98.3C731.7,98.9 731.7,101.1 731.7,102.3C731.6,103.5 731.4,104.9 731.4,105.5C731.3,106.2 731.4,105.5 731.2,106.3C731.1,107.1 730.7,109.2 730.5,110.2C730.3,111.3 730.1,111.9 730.0,112.6C729.8,113.2 729.8,113.2 729.6,114.1C729.3,115.0 728.7,117.0 728.5,117.9C728.2,118.8 728.2,118.9 728.0,119.5C727.8,120.1 727.6,120.7 727.3,121.7C727.0,122.8 726.4,124.8 726.1,125.6C725.9,126.4 726.1,125.8 725.9,126.4C725.7,127.1 725.3,128.3 725.0,129.4C724.6,130.6 724.0,132.6 723.8,133.3C723.6,133.9 724.0,132.7 723.8,133.3C723.6,134.0 723.0,135.9 722.7,137.1C722.3,138.2 721.9,139.6 721.7,140.2C721.4,140.9 721.7,140.1 721.4,140.9C721.2,141.6 720.5,143.6 720.1,144.6C719.7,145.7 719.4,146.4 719.1,147.0C718.9,147.6 718.9,147.5 718.6,148.3C718.2,149.2 717.4,151.1 717.0,152.0C716.6,152.9 716.6,153.0 716.3,153.6C716.0,154.2 715.8,154.6 715.4,155.7C714.9,156.8 714.2,158.4 713.4,160.2C712.7,162.1 711.6,164.7 710.8,166.9C709.9,169.2 709.1,171.4 708.3,173.7C707.4,176.0 706.6,178.2 705.8,180.5C705.0,182.7 704.2,185.0 703.3,187.3C702.5,189.5 701.7,191.8 700.8,194.1C700.0,196.3 699.1,198.6 698.2,200.8C697.4,203.1 696.5,205.3 695.7,207.6C694.8,209.8 694.0,212.1 693.2,214.4C692.4,216.6 691.6,218.9 690.8,221.2C690.1,223.5 689.3,225.8 688.6,228.1C687.9,230.3 687.3,232.7 686.6,235.0C686.0,237.3 685.3,239.6 684.7,241.9C684.2,244.2 683.6,246.6 683.0,248.9C682.5,251.2 681.9,253.6 681.4,255.9C680.9,258.2 680.4,260.6 679.9,263.0C679.5,265.3 679.0,267.7 678.6,270.0C678.1,272.4 677.7,274.7 677.3,277.1C676.8,279.5 676.4,281.9 676.0,284.2C675.6,286.6 675.2,289.0 674.8,291.4C674.5,293.7 674.1,296.1 673.7,298.5C673.3,300.9 673.0,303.3 672.6,305.6C672.2,308.0 671.9,310.4 671.5,312.8C671.1,315.2 670.8,317.6 670.4,319.9C670.1,322.3 669.7,324.7 669.3,327.1C668.9,329.5 668.6,331.9 668.2,334.2C667.8,336.6 667.5,339.0 667.1,341.4C666.7,343.8 666.4,346.2 666.0,348.5C665.7,350.9 665.3,353.3 665.0,355.7C664.7,358.1 664.4,360.5 664.1,362.8C663.7,365.2 663.5,367.6 663.2,370.0C662.9,372.4 662.6,374.8 662.4,377.2C662.2,379.5 661.9,381.9 661.7,384.3C661.5,386.7 661.4,389.1 661.2,391.5C661.1,393.9 660.9,396.3 660.8,398.7C660.7,401.1 660.7,403.5 660.6,405.9C660.6,408.3 660.6,410.7 660.6,413.1C660.7,415.5 660.7,417.9 660.8,420.3C660.9,422.7 661.2,426.3 661.2,427.5" stroke="#ff0000" stroke-width="1.4" fill="none"/>
<path d="M890.8,101.3C890.7,101.9 890.4,104.0 890.3,105.2C890.1,106.4 889.9,107.8 889.8,108.4C889.7,109.1 889.8,108.4 889.7,109.2C889.5,110.0 889.2,112.1 889.0,113.1C888.8,114.2 888.7,114.9 888.6,115.6C888.4,116.2 888.4,116.2 888.3,117.1C888.1,118.0 887.6,120.1 887.4,121.0C887.2,121.9 887.2,122.0 887.1,122.6C886.9,123.3 886.8,123.9 886.6,124.9C886.3,125.9 885.8,128.0 885.6,128.8C885.4,129.6 885.6,129.0 885.4,129.7C885.2,130.3 884.9,131.5 884.6,132.6C884.3,133.8 883.8,135.8 883.6,136.5C883.4,137.2 883.7,136.0 883.6,136.7C883.4,137.3 882.9,139.2 882.5,140.4C882.2,141.5 881.8,143.0 881.6,143.6C881.4,144.3 881.7,143.5 881.4,144.2C881.2,144.9 880.6,147.0 880.3,148.1C880.0,149.1 879.8,149.9 879.6,150.6C879.4,151.2 879.5,151.0 879.2,151.9C879.0,152.8 878.3,154.8 878.1,155.7C877.8,156.7 877.7,156.9 877.6,157.5C877.4,158.2 877.3,158.4 876.9,159.6C876.6,160.7 876.1,162.5 875.5,164.5C874.9,166.4 874.2,169.1 873.5,171.4C872.8,173.7 872.1,176.0 871.4,178.3C870.8,180.6 870.1,182.9 869.4,185.3C868.7,187.6 868.0,189.9 867.4,192.2C866.7,194.5 866.0,196.8 865.3,199.1C864.7,201.4 864.0,203.8 863.3,206.1C862.7,208.4 862.0,210.7 861.4,213.0C860.7,215.4 860.1,217.7 859.5,220.0C858.8,222.3 858.2,224.7 857.6,227.0C857.0,229.3 856.4,231.7 855.8,234.0C855.3,236.3 854.7,238.7 854.1,241.0C853.6,243.4 853.1,245.7 852.5,248.1C852.0,250.4 851.5,252.8 851.0,255.1C850.6,257.5 850.1,259.8 849.6,262.2C849.2,264.6 848.7,266.9 848.3,269.3C847.9,271.7 847.5,274.1 847.1,276.4C846.7,278.8 846.3,281.2 845.9,283.6C845.5,286.0 845.2,288.3 844.8,290.7C844.5,293.1 844.1,295.5 843.8,297.9C843.4,300.3 843.1,302.7 842.8,305.0C842.4,307.4 842.1,309.8 841.8,312.2C841.5,314.6 841.2,317.0 840.8,319.4C840.5,321.8 840.2,324.2 839.9,326.6C839.6,328.9 839.3,331.3 839.0,333.7C838.7,336.1 838.5,338.5 838.2,340.9C837.9,343.3 837.6,345.7 837.3,348.1C837.1,350.5 836.8,352.9 836.5,355.3C836.3,357.7 836.0,360.1 835.8,362.5C835.5,364.9 835.3,367.3 835.0,369.7C834.8,372.1 834.5,374.5 834.3,376.9C834.1,379.3 833.8,381.7 833.6,384.1C833.4,386.5 833.2,388.9 833.0,391.3C832.8,393.7 832.5,396.1 832.3,398.5C832.1,400.9 832.0,403.3 831.8,405.7C831.6,408.1 831.4,410.5 831.2,412.9C831.0,415.3 830.9,417.7 830.7,420.1C830.5,422.5 830.4,424.9 830.2,427.3C830.1,429.7 829.9,432.1 829.8,434.5C829.6,436.9 829.5,439.3 829.4,441.7C829.3,444.1 829.1,446.5 829.0,448.9C828.9,451.3 828.8,453.8 828.7,456.2C828.6,458.6 828.5,461.0 828.4,463.4C828.3,465.8 828.2,468.2 828.1,470.6C828.1,473.0 828.0,475.4 827.9,477.8C827.9,480.2 827.8,482.7 827.8,485.1C827.7,487.5 827.7,489.9 827.6,492.3C827.6,494.7 827.6,497.1 827.5,499.5C827.5,501.9 827.5,504.4 827.5,506.8C827.5,509.2 827.5,512.8 827.5,514.0" stroke="#ff0000" stroke-width="1.4" fill="none"/>
<path d="M229.3,247.8C229.6,247.2 230.4,245.3 231.1,244.1C231.8,243.0 232.6,241.9 233.5,240.9C234.4,239.9 235.8,238.6 236.3,238.1C236.8,237.6 236.0,238.3 236.5,237.9C237.1,237.6 238.4,236.4 239.5,235.8C240.6,235.1 241.8,234.4 243.0,233.8C244.2,233.2 245.9,232.5 246.6,232.2C247.3,231.9 246.5,232.3 247.1,232.0C247.7,231.8 249.2,231.2 250.4,230.8C251.6,230.4 252.9,230.0 254.2,229.5C255.5,229.1 257.3,228.5 258.0,228.3C258.8,228.0 258.1,228.3 258.8,228.1C259.4,227.9 260.7,227.4 261.9,227.1C263.0,226.7 264.4,226.3 265.7,225.9C267.0,225.6 268.8,225.1 269.6,224.8C270.4,224.6 269.9,224.7 270.6,224.6C271.2,224.4 272.3,224.1 273.4,223.8C274.5,223.5 276.0,223.1 277.3,222.7C278.6,222.4 280.3,222.0 281.2,221.8C282.0,221.5 280.2,222.0 282.4,221.4C284.6,220.9 290.3,219.5 294.3,218.6C298.3,217.7 302.3,216.8 306.3,216.0C310.3,215.1 314.3,214.3 318.3,213.6C322.3,212.8 326.3,212.0 330.3,211.3C334.3,210.6 338.3,209.9 342.4,209.3C346.4,208.6 350.4,208.0 354.5,207.4C358.5,206.8 362.6,206.2 366.6,205.7C370.7,205.1 374.7,204.6 378.8,204.1C382.8,203.6 386.9,203.1 391.0,202.7C395.0,202.2 399.1,201.8 403.2,201.4C407.2,201.0 411.3,200.6 415.4,200.2C419.4,199.9 423.5,199.5 427.6,199.2C431.7,198.8 435.7,198.5 439.8,198.2C443.9,197.9 448.0,197.7 452.1,197.4C456.1,197.1 460.2,196.9 464.3,196.7C468.4,196.4 472.5,196.2 476.5,196.0C480.6,195.8 484.7,195.7 488.8,195.5C492.9,195.3 496.9,195.2 501.0,195.0C505.1,194.9 509.2,194.8 513.3,194.7C517.4,194.6 521.4,194.5 525.5,194.4C529.6,194.4 533.7,194.3 537.8,194.3C541.9,194.2 545.9,194.2 550.0,194.2C554.1,194.2 558.2,194.2 562.3,194.2C566.4,194.2 570.4,194.3 574.5,194.3C578.6,194.3 582.7,194.4 586.8,194.5C590.9,194.5 595.0,194.6 599.0,194.7C603.1,194.8 607.2,194.9 611.3,195.1C615.4,195.2 619.5,195.3 623.5,195.5C627.6,195.6 631.7,195.8 635.8,196.0C639.9,196.1 644.0,196.3 648.0,196.5C652.1,196.7 656.2,196.9 660.3,197.1C664.4,197.3 668.4,197.6 672.5,197.8C676.6,198.1 680.7,198.3 684.8,198.6C688.8,198.8 692.9,199.1 697.0,199.4C701.1,199.7 705.1,200.0 709.2,200.3C713.3,200.6 717.4,200.9 721.4,201.2C725.5,201.6 729.6,201.9 733.7,202.2C737.7,202.6 741.8,202.9 745.9,203.3C749.9,203.7 754.0,204.0 758.1,204.4C762.2,204.8 766.2,205.2 770.3,205.6C774.4,206.0 778.4,206.4 782.5,206.8C786.6,207.2 790.6,207.7 794.7,208.1C798.7,208.5 802.8,209.0 806.9,209.4C810.9,209.9 815.0,210.3 819.0,210.8C823.1,211.2 827.2,211.7 831.2,212.2C835.3,212.7 839.3,213.2 843.4,213.7C847.4,214.1 851.5,214.6 855.5,215.2C859.6,215.7 863.6,216.2 867.7,216.7C871.7,217.3 875.8,217.8 879.8,218.4C883.9,219.0 887.9,219.6 891.9,220.2C896.0,220.9 900.0,221.5 904.0,222.2C908.0,223.0 912.0,223.7 916.0,224.5C920.1,225.3 924.1,226.2 928.0,227.1C932.0,228.0 938.0,229.5 940.0,230.0" stroke="#000" stroke-width="3.8" fill="none"/>
<path d="M230.5,246.5C231.0,246.0 232.4,244.5 233.4,243.7C234.5,242.9 235.6,242.2 236.8,241.7C238.0,241.1 239.8,240.5 240.5,240.2C241.2,240.0 240.1,240.3 240.8,240.1C241.4,240.0 243.1,239.5 244.4,239.2C245.6,238.9 247.0,238.6 248.4,238.4C249.7,238.1 251.6,237.8 252.3,237.6C253.1,237.5 252.3,237.6 252.9,237.5C253.6,237.4 255.1,237.1 256.3,236.9C257.5,236.6 258.9,236.4 260.3,236.2C261.6,235.9 263.4,235.6 264.2,235.5C265.0,235.3 264.5,235.4 265.1,235.3C265.8,235.2 267.0,235.0 268.1,234.8C269.3,234.6 270.8,234.4 272.1,234.2C273.4,234.0 275.2,233.8 276.0,233.6C276.9,233.5 276.6,233.5 277.2,233.5C277.9,233.4 278.8,233.2 280.0,233.1C281.1,232.9 282.6,232.7 283.9,232.6C285.2,232.4 286.9,232.2 287.9,232.1C288.8,232.0 287.1,232.1 289.4,231.9C291.6,231.7 297.5,231.1 301.6,230.7C305.6,230.4 309.7,230.1 313.8,229.9C317.9,229.7 322.0,229.5 326.1,229.4C330.2,229.2 334.3,229.2 338.4,229.1C342.5,229.1 346.6,229.1 350.8,229.2C354.9,229.3 359.0,229.4 363.1,229.5C367.2,229.7 371.3,229.9 375.4,230.1C379.5,230.3 383.7,230.6 387.8,230.9C391.9,231.2 396.0,231.5 400.0,231.9C404.1,232.3 408.2,232.7 412.3,233.1C416.4,233.6 420.5,234.0 424.5,234.5C428.6,235.0 432.7,235.6 436.7,236.1C440.8,236.7 444.9,237.2 448.9,237.8C453.0,238.4 457.0,239.1 461.0,239.7C465.1,240.4 469.1,241.0 473.2,241.7C477.2,242.4 481.2,243.1 485.3,243.9C489.3,244.6 493.3,245.4 497.4,246.1C501.4,246.9 505.4,247.7 509.4,248.5C513.4,249.3 517.5,250.1 521.5,250.9C525.5,251.7 529.5,252.6 533.5,253.4C537.5,254.3 541.5,255.1 545.5,256.0C549.6,256.9 553.6,257.7 557.6,258.6C561.6,259.5 565.6,260.4 569.6,261.3C573.6,262.1 577.6,263.0 581.6,263.9C585.6,264.8 589.6,265.7 593.6,266.6C597.6,267.5 601.6,268.4 605.6,269.4C609.6,270.3 613.6,271.2 617.6,272.1C621.6,273.0 625.6,274.0 629.6,274.9C633.6,275.9 637.6,276.8 641.6,277.8C645.6,278.7 649.6,279.7 653.5,280.7C657.5,281.7 661.5,282.7 665.5,283.7C669.4,284.7 673.4,285.7 677.4,286.7C681.3,287.8 685.3,288.8 689.3,289.9C693.2,290.9 697.2,292.0 701.1,293.1C705.1,294.2 709.0,295.3 713.0,296.4C716.9,297.5 720.9,298.6 724.8,299.7C728.8,300.8 732.7,301.9 736.7,303.0C740.6,304.2 744.6,305.3 748.5,306.4C752.4,307.5 756.4,308.6 760.3,309.8C764.3,310.9 768.2,312.0 772.2,313.1C776.2,314.1 780.1,315.2 784.1,316.1C788.1,317.1 792.1,318.0 796.1,318.9C800.1,319.7 804.2,320.5 808.2,321.2C812.2,322.0 816.3,322.7 820.3,323.5C824.3,324.4 828.3,325.2 832.3,326.2C836.3,327.2 840.2,328.3 844.1,329.6C848.0,330.8 851.9,332.2 855.8,333.5C859.7,334.8 863.5,336.3 867.4,337.6C871.3,338.8 875.2,340.1 879.2,341.1C883.1,342.2 887.1,343.2 891.1,344.0C895.2,344.9 899.2,345.6 903.3,346.2C907.3,346.9 911.4,347.4 915.5,347.9C919.6,348.4 923.7,348.8 927.7,349.1C931.8,349.5 938.0,349.9 940.0,350.0" stroke="#000" stroke-width="5.3" stroke-dasharray="18.9 18.9" fill="none"/>
<path d="M229.3,247.8C229.6,247.2 230.4,245.3 231.1,244.2C231.8,243.0 232.6,241.9 233.5,240.9C234.4,239.9 235.8,238.6 236.3,238.1C236.8,237.6 236.0,238.3 236.6,237.9C237.1,237.5 238.4,236.4 239.5,235.7C240.6,235.1 241.8,234.4 243.0,233.8C244.2,233.2 245.9,232.5 246.6,232.2C247.3,231.9 246.6,232.2 247.3,232.0C247.9,231.7 249.2,231.2 250.4,230.8C251.6,230.4 253.0,229.9 254.2,229.5C255.5,229.1 257.3,228.6 258.1,228.3C258.8,228.0 258.4,228.2 259.0,228.0C259.6,227.8 260.8,227.5 261.9,227.1C263.0,226.8 264.4,226.4 265.7,226.0C267.0,225.6 268.7,225.1 269.6,224.9C270.4,224.6 270.2,224.7 270.8,224.5C271.5,224.3 272.4,224.1 273.4,223.8C274.5,223.5 276.0,223.1 277.3,222.8C278.6,222.4 280.3,222.0 281.2,221.8C282.1,221.5 280.5,221.9 282.8,221.4C285.0,220.8 290.7,219.4 294.7,218.5C298.7,217.5 302.7,216.6 306.7,215.7C310.7,214.9 314.8,214.0 318.8,213.2C322.8,212.3 326.8,211.5 330.9,210.7C334.9,209.9 338.9,209.2 343.0,208.4C347.0,207.7 351.0,207.0 355.1,206.2C359.1,205.5 363.2,204.9 367.2,204.2C371.3,203.5 375.4,202.9 379.4,202.2C383.5,201.6 387.6,201.0 391.6,200.4C395.7,199.8 399.8,199.2 403.8,198.6C407.9,198.1 412.0,197.5 416.1,197.0C420.1,196.4 424.2,195.9 428.3,195.4C432.4,194.9 436.5,194.4 440.5,193.9C444.6,193.4 448.7,192.9 452.8,192.4C456.9,192.0 460.9,191.5 465.0,191.1C469.1,190.6 473.2,190.2 477.3,189.7C481.4,189.3 485.5,188.9 489.6,188.5C493.6,188.1 497.7,187.7 501.8,187.3C505.9,186.9 510.0,186.6 514.1,186.2C518.2,185.8 522.3,185.5 526.4,185.1C530.5,184.8 534.6,184.4 538.7,184.1C542.8,183.8 546.9,183.5 551.0,183.2C555.1,182.9 559.2,182.6 563.3,182.3C567.4,182.0 571.5,181.7 575.6,181.5C579.7,181.2 583.8,180.9 587.9,180.7C592.0,180.4 596.1,180.2 600.2,180.0C604.3,179.7 608.4,179.5 612.5,179.3C616.6,179.1 620.7,178.9 624.8,178.7C628.9,178.5 633.0,178.3 637.1,178.1C641.2,177.9 645.3,177.7 649.4,177.6C653.5,177.4 657.7,177.3 661.8,177.1C665.9,177.0 670.0,176.8 674.1,176.7C678.2,176.5 682.3,176.4 686.4,176.3C690.5,176.2 694.6,176.1 698.7,176.0C702.8,175.8 707.0,175.7 711.1,175.7C715.2,175.6 719.3,175.5 723.4,175.4C727.5,175.3 731.6,175.2 735.7,175.2C739.8,175.1 744.0,175.0 748.1,175.0C752.2,174.9 756.3,174.9 760.4,174.9C764.5,174.8 768.6,174.8 772.7,174.7C776.8,174.7 781.0,174.7 785.1,174.7C789.2,174.6 793.3,174.6 797.4,174.6C801.5,174.6 805.6,174.6 809.7,174.6C813.8,174.6 818.0,174.6 822.1,174.6C826.2,174.7 830.3,174.7 834.4,174.7C838.5,174.7 842.6,174.7 846.7,174.8C850.8,174.8 854.9,174.8 859.1,174.9C863.2,174.9 867.3,175.0 871.4,175.0C875.5,175.1 879.6,175.1 883.7,175.2C887.8,175.2 891.9,175.3 896.0,175.3C900.1,175.4 904.3,175.5 908.4,175.5C912.5,175.6 916.6,175.7 920.7,175.8C924.8,175.8 930.9,176.0 933.0,176.0" stroke="#ff0000" stroke-width="1.25" stroke-dasharray="5 3.7" fill="none"/>
<path d="M239.2,315.5V270" stroke="#000" stroke-width="1.5" fill="none"/>
<path d="M239.2,258L249,283.8L239.2,276.2L229.4,283.8Z" fill="#000"/>
<circle cx="350.8" cy="351.1" r="7.35" fill="none" stroke="#000" stroke-width="1.55"/>
</g>
<path d="M162.30,512.80v-7.8M162.30,90.70v7.8M325.10,512.80v-7.8M325.10,90.70v7.8M487.90,512.80v-7.8M487.90,90.70v7.8M650.70,512.80v-7.8M650.70,90.70v7.8M813.50,512.80v-7.8M813.50,90.70v7.8M123.15,112.25h7.8M937.00,112.25h-7.8M123.15,193.38h7.8M937.00,193.38h-7.8M123.15,274.50h7.8M937.00,274.50h-7.8M123.15,355.62h7.8M937.00,355.62h-7.8M123.15,436.75h7.8M937.00,436.75h-7.8" stroke="#111" stroke-width="1.1" fill="none"/>
<rect x="123.15" y="90.7" width="813.85" height="422.1" fill="none" stroke="#262626" stroke-width="1.7"/>
<text class="lab"><tspan x="143.5" y="466.5" style="font-weight:bold;font-size:38.6px">(a)</tspan><tspan x="195.8" y="469" style="font-style:italic;font-size:39.5px"> F</tspan><tspan x="234.2" y="460.2" style="font-size:21px;font-weight:bold">*</tspan><tspan x="247" y="475.3" style="font-size:50px"> =</tspan><tspan x="288.3" y="469" style="font-size:39.5px;letter-spacing:-0.5px"> 0.25</tspan></text>
</g>
<g transform="translate(956.050,90.700) scale(0.9989,1) translate(-123.15,-90.7)">
<g clip-path="url(#clip)">
<path d="M209.0,254.5C209.5,254.1 211.1,252.9 212.2,252.1C213.2,251.3 214.3,250.5 215.3,249.7C216.4,248.9 218.0,247.7 218.6,247.3C219.1,246.9 218.2,247.5 218.7,247.1C219.3,246.7 220.7,245.7 221.8,244.9C222.8,244.1 223.9,243.3 225.0,242.5C226.1,241.8 227.7,240.7 228.3,240.2C228.9,239.8 228.2,240.3 228.7,240.0C229.3,239.6 230.6,238.7 231.7,238.0C232.7,237.3 233.9,236.5 235.0,235.8C236.1,235.1 237.8,234.1 238.4,233.7C239.1,233.3 238.4,233.7 239.0,233.3C239.6,233.0 240.8,232.3 241.9,231.7C242.9,231.1 244.2,230.4 245.4,229.8C246.6,229.2 248.2,228.3 248.9,228.0C249.6,227.6 249.1,227.8 249.7,227.6C250.3,227.3 251.4,226.7 252.5,226.2C253.6,225.7 254.9,225.1 256.1,224.6C257.3,224.0 259.0,223.3 259.8,223.0C260.6,222.7 258.8,223.4 260.8,222.6C262.9,221.8 268.4,219.6 272.3,218.3C276.1,216.9 280.0,215.7 283.9,214.6C287.8,213.4 291.8,212.3 295.8,211.3C299.7,210.3 303.7,209.3 307.7,208.4C311.7,207.5 315.7,206.6 319.7,205.7C323.7,204.8 327.7,204.0 331.7,203.1C335.7,202.3 339.7,201.5 343.7,200.7C347.7,199.9 351.8,199.2 355.8,198.4C359.8,197.7 363.8,197.0 367.8,196.3C371.8,195.6 375.8,194.9 379.8,194.2C383.8,193.6 387.8,192.9 391.8,192.3C395.9,191.7 399.9,191.1 403.9,190.5C407.9,189.9 411.9,189.3 416.0,188.7C420.0,188.2 424.0,187.6 428.0,187.1C432.0,186.5 436.1,186.0 440.1,185.5C444.1,185.0 448.2,184.5 452.2,184.0C456.2,183.5 460.3,183.1 464.3,182.6C468.3,182.1 472.4,181.7 476.4,181.2C480.5,180.8 484.5,180.4 488.6,179.9C492.6,179.5 496.7,179.1 500.7,178.7C504.8,178.3 508.8,177.9 512.9,177.5C517.0,177.1 521.0,176.7 525.1,176.3C529.2,175.9 533.2,175.5 537.3,175.1C541.4,174.7 545.5,174.3 549.5,173.9C553.6,173.5 557.7,173.1 561.7,172.7C565.8,172.3 569.9,171.9 573.9,171.4C578.0,171.0 582.1,170.6 586.1,170.1C590.2,169.6 594.2,169.1 598.3,168.6C602.3,168.1 606.4,167.6 610.4,167.1C614.5,166.6 618.5,166.0 622.5,165.5C626.6,165.0 630.6,164.4 634.6,164.0C638.7,163.5 642.7,163.0 646.8,162.6C650.8,162.2 654.8,161.8 658.9,161.5C662.9,161.2 667.0,161.0 671.1,160.8C675.1,160.6 679.2,160.5 683.3,160.4C687.3,160.3 691.4,160.3 695.5,160.3C699.6,160.2 703.6,160.2 707.7,160.2C711.8,160.2 715.9,160.2 719.9,160.2C724.0,160.2 728.1,160.2 732.2,160.2C736.2,160.2 740.3,160.2 744.4,160.2C748.5,160.2 752.5,160.2 756.6,160.2C760.7,160.2 764.8,160.3 768.8,160.3C772.9,160.3 777.0,160.3 781.1,160.3C785.1,160.4 789.2,160.4 793.3,160.4C797.4,160.4 801.4,160.5 805.5,160.5C809.6,160.5 813.7,160.5 817.7,160.6C821.8,160.6 825.9,160.6 830.0,160.7C834.1,160.7 838.1,160.7 842.2,160.7C846.3,160.8 850.4,160.8 854.4,160.8C858.5,160.9 862.6,160.9 866.7,160.9C870.7,160.9 874.8,161.0 878.9,161.0C883.0,161.0 887.0,161.0 891.1,161.1C895.2,161.1 899.3,161.1 903.3,161.1C907.4,161.2 911.5,161.2 915.6,161.2C919.6,161.2 923.7,161.2 927.8,161.2C931.9,161.2 938.0,161.2 940.0,161.2L945.0,520.0L780.0,520.0L245.0,300.0L215.0,262.0Z" fill="#f3f3ff"/>
<path d="M216.0,254.0C216.5,253.6 218.1,252.5 219.1,251.5C220.0,250.6 220.8,249.4 221.7,248.4C222.6,247.3 223.9,245.9 224.4,245.4C224.9,244.8 224.1,245.6 224.6,245.1C225.1,244.7 226.4,243.5 227.3,242.6C228.3,241.8 229.4,240.9 230.4,240.1C231.5,239.3 233.1,238.3 233.7,237.9C234.3,237.4 233.6,237.9 234.2,237.5C234.7,237.2 236.0,236.4 237.1,235.7C238.1,235.1 239.4,234.4 240.5,233.8C241.7,233.1 243.4,232.3 244.1,231.9C244.8,231.6 244.2,231.9 244.8,231.6C245.5,231.3 246.6,230.7 247.7,230.2C248.8,229.7 250.2,229.1 251.4,228.6C252.6,228.1 254.3,227.4 255.1,227.1C255.9,226.8 255.6,226.9 256.2,226.7C256.8,226.5 257.8,226.1 258.9,225.7C260.0,225.3 261.4,224.7 262.7,224.3C264.0,223.8 265.6,223.2 266.5,222.9C267.4,222.6 265.7,223.2 267.8,222.5C270.0,221.7 275.6,219.8 279.5,218.6C283.4,217.4 287.3,216.2 291.3,215.1C295.2,214.0 299.1,212.9 303.1,212.0C307.1,211.0 311.0,210.1 315.0,209.2C319.0,208.3 323.0,207.5 327.0,206.8C331.0,206.0 335.0,205.3 339.1,204.6C343.1,204.0 347.1,203.4 351.2,202.8C355.2,202.2 359.3,201.7 363.3,201.2C367.4,200.7 371.5,200.2 375.5,199.8C379.6,199.4 383.7,199.0 387.8,198.6C391.9,198.2 396.0,197.9 400.1,197.6C404.2,197.2 408.3,196.9 412.4,196.6C416.5,196.3 420.6,196.1 424.7,195.8C428.8,195.5 432.9,195.3 437.0,195.0C441.1,194.8 445.2,194.5 449.3,194.3C453.4,194.1 457.5,193.8 461.5,193.6C465.6,193.4 469.7,193.2 473.8,193.0C477.9,192.8 482.0,192.6 486.1,192.4C490.2,192.2 494.3,192.1 498.4,191.9C502.5,191.7 506.6,191.5 510.7,191.4C514.8,191.2 518.9,191.1 523.0,190.9C527.1,190.8 531.2,190.7 535.3,190.5C539.4,190.4 543.5,190.3 547.6,190.2C551.7,190.1 555.7,190.0 559.8,189.9C563.9,189.8 568.0,189.7 572.1,189.6C576.2,189.5 580.3,189.5 584.4,189.4C588.5,189.3 592.6,189.3 596.7,189.2C600.8,189.2 604.8,189.1 608.9,189.1C613.0,189.1 617.1,189.0 621.2,189.0C625.3,189.0 629.4,189.0 633.5,189.0C637.6,189.0 641.7,189.0 645.7,189.0C649.8,189.0 653.9,189.0 658.0,189.1C662.1,189.1 666.2,189.1 670.3,189.1C674.4,189.2 678.4,189.2 682.5,189.3C686.6,189.3 690.7,189.4 694.8,189.5C698.9,189.6 703.0,189.6 707.1,189.7C711.1,189.8 715.2,189.9 719.3,190.0C723.4,190.1 727.5,190.2 731.6,190.3C735.7,190.4 739.8,190.5 743.8,190.7C747.9,190.8 752.0,190.9 756.1,191.1C760.2,191.2 764.3,191.4 768.4,191.5C772.5,191.7 776.5,191.9 780.6,192.0C784.7,192.2 788.8,192.4 792.9,192.6C797.0,192.8 801.1,193.0 805.1,193.2C809.2,193.4 813.3,193.6 817.4,193.8C821.5,194.0 825.6,194.2 829.7,194.5C833.7,194.7 837.8,194.9 841.9,195.2C846.0,195.4 850.1,195.7 854.2,196.0C858.3,196.2 862.3,196.5 866.4,196.8C870.5,197.0 874.6,197.3 878.7,197.6C882.8,197.9 886.9,198.2 891.0,198.5C895.0,198.8 899.1,199.1 903.2,199.4C907.3,199.8 911.4,200.1 915.5,200.4C919.6,200.7 923.6,201.1 927.7,201.4C931.8,201.8 938.0,202.3 940.0,202.5L945.0,520.0L780.0,520.0L245.0,300.0L215.0,262.0Z" fill="#d5d5fe"/>
<path d="M221.0,253.0C221.4,252.5 222.6,250.8 223.5,249.8C224.3,248.7 225.2,247.7 226.1,246.8C227.1,245.8 228.5,244.6 229.1,244.1C229.6,243.6 228.8,244.2 229.4,243.8C229.9,243.4 231.2,242.3 232.2,241.6C233.2,240.8 234.3,240.0 235.4,239.3C236.6,238.6 238.2,237.6 238.9,237.2C239.5,236.8 239.0,237.1 239.5,236.8C240.1,236.5 241.3,235.9 242.4,235.3C243.5,234.8 244.8,234.2 246.0,233.7C247.2,233.1 248.9,232.5 249.7,232.1C250.5,231.8 250.2,231.9 250.8,231.7C251.4,231.5 252.4,231.1 253.4,230.7C254.5,230.3 256.0,229.8 257.2,229.4C258.5,229.0 260.2,228.4 261.1,228.1C262.0,227.8 261.9,227.9 262.6,227.7C263.2,227.5 263.9,227.2 264.9,226.9C265.9,226.6 267.5,226.1 268.7,225.7C270.0,225.3 271.6,224.8 272.6,224.6C273.5,224.3 272.2,224.6 274.5,224.0C276.8,223.3 282.4,221.6 286.4,220.6C290.4,219.5 294.3,218.5 298.4,217.5C302.4,216.6 306.4,215.7 310.4,214.9C314.5,214.1 318.5,213.4 322.6,212.7C326.6,212.0 330.7,211.4 334.8,210.9C338.8,210.3 342.9,209.8 347.0,209.4C351.1,208.9 355.2,208.5 359.3,208.2C363.5,207.8 367.6,207.5 371.7,207.2C375.8,207.0 380.0,206.7 384.1,206.5C388.2,206.3 392.4,206.2 396.5,206.0C400.7,205.9 404.8,205.8 408.9,205.7C413.1,205.6 417.2,205.6 421.4,205.5C425.5,205.5 429.7,205.4 433.8,205.4C438.0,205.4 442.1,205.4 446.3,205.4C450.4,205.4 454.5,205.4 458.7,205.5C462.8,205.5 467.0,205.5 471.1,205.6C475.2,205.6 479.4,205.7 483.5,205.8C487.7,205.8 491.8,205.9 495.9,206.0C500.1,206.1 504.2,206.2 508.3,206.3C512.5,206.5 516.6,206.6 520.7,206.7C524.9,206.9 529.0,207.0 533.1,207.2C537.2,207.3 541.4,207.5 545.5,207.7C549.6,207.9 553.8,208.0 557.9,208.2C562.0,208.4 566.1,208.6 570.3,208.9C574.4,209.1 578.5,209.3 582.6,209.5C586.7,209.8 590.9,210.0 595.0,210.3C599.1,210.5 603.2,210.8 607.3,211.0C611.5,211.3 615.6,211.6 619.7,211.9C623.8,212.1 627.9,212.4 632.0,212.7C636.2,213.0 640.3,213.3 644.4,213.7C648.5,214.0 652.6,214.3 656.7,214.6C660.9,215.0 665.0,215.3 669.1,215.6C673.2,216.0 677.3,216.3 681.4,216.7C685.5,217.0 689.6,217.4 693.7,217.8C697.9,218.1 702.0,218.5 706.1,218.9C710.2,219.3 714.3,219.7 718.4,220.1C722.5,220.5 726.6,220.9 730.7,221.3C734.8,221.7 738.9,222.1 743.0,222.5C747.1,222.9 751.3,223.4 755.4,223.8C759.5,224.2 763.6,224.6 767.7,225.1C771.8,225.5 775.9,226.0 780.0,226.4C784.1,226.9 788.2,227.3 792.3,227.8C796.4,228.2 800.5,228.7 804.6,229.1C808.7,229.6 812.8,230.1 816.9,230.5C821.0,231.0 825.1,231.5 829.2,232.0C833.3,232.4 837.4,232.9 841.5,233.4C845.6,233.9 849.7,234.4 853.9,234.9C858.0,235.4 862.1,235.9 866.2,236.4C870.3,236.8 874.4,237.3 878.5,237.8C882.6,238.3 886.7,238.9 890.8,239.4C894.9,239.9 899.0,240.4 903.1,240.9C907.2,241.4 911.3,241.9 915.4,242.4C919.5,242.9 923.6,243.4 927.7,244.0C931.8,244.5 937.9,245.2 940.0,245.5L945.0,520.0L780.0,520.0L245.0,300.0L215.0,262.0Z" fill="#b4b4fd"/>
<path d="M226.0,252.0C226.4,251.5 227.8,249.9 228.7,248.9C229.6,248.0 230.6,247.0 231.6,246.2C232.6,245.3 234.1,244.1 234.7,243.7C235.2,243.2 234.4,243.8 234.9,243.5C235.5,243.1 236.9,242.1 237.9,241.4C239.0,240.8 240.2,240.1 241.4,239.4C242.5,238.8 244.2,238.0 244.9,237.7C245.6,237.4 244.9,237.7 245.5,237.4C246.1,237.2 247.5,236.6 248.6,236.1C249.7,235.7 251.1,235.2 252.4,234.7C253.6,234.3 255.4,233.7 256.2,233.5C257.0,233.2 256.5,233.4 257.1,233.2C257.7,233.0 258.9,232.6 260.0,232.3C261.2,232.0 262.6,231.6 263.9,231.2C265.2,230.8 267.0,230.3 267.8,230.1C268.7,229.9 268.4,229.9 269.1,229.8C269.7,229.6 270.6,229.3 271.7,229.1C272.8,228.8 274.3,228.4 275.6,228.0C276.9,227.7 278.6,227.3 279.5,227.1C280.4,226.8 278.8,227.2 281.0,226.7C283.3,226.2 289.0,224.9 293.1,224.2C297.1,223.5 301.1,223.0 305.2,222.5C309.3,222.0 313.4,221.7 317.4,221.3C321.5,220.9 325.6,220.6 329.7,220.3C333.8,220.0 337.9,219.7 342.0,219.5C346.1,219.2 350.2,219.0 354.3,218.8C358.4,218.7 362.5,218.5 366.6,218.4C370.7,218.3 374.8,218.2 378.9,218.2C383.0,218.1 387.1,218.1 391.2,218.1C395.3,218.1 399.4,218.1 403.5,218.2C407.7,218.2 411.8,218.3 415.9,218.4C420.0,218.5 424.1,218.6 428.2,218.8C432.3,218.9 436.4,219.1 440.5,219.3C444.7,219.5 448.8,219.7 452.9,219.9C457.0,220.2 461.1,220.4 465.2,220.7C469.3,221.0 473.4,221.3 477.5,221.6C481.6,221.9 485.7,222.2 489.8,222.6C493.9,222.9 498.0,223.3 502.1,223.7C506.2,224.1 510.2,224.5 514.3,224.9C518.4,225.3 522.5,225.7 526.6,226.2C530.7,226.6 534.7,227.1 538.8,227.6C542.9,228.1 547.0,228.5 551.0,229.0C555.1,229.5 559.2,230.1 563.3,230.6C567.3,231.1 571.4,231.7 575.5,232.2C579.5,232.8 583.6,233.3 587.7,233.9C591.7,234.5 595.8,235.1 599.8,235.7C603.9,236.3 608.0,236.9 612.0,237.5C616.1,238.1 620.1,238.7 624.2,239.4C628.2,240.0 632.3,240.6 636.3,241.3C640.4,241.9 644.4,242.6 648.5,243.3C652.5,243.9 656.6,244.6 660.6,245.3C664.7,246.0 668.7,246.6 672.8,247.3C676.8,248.0 680.9,248.7 684.9,249.4C689.0,250.1 693.0,250.8 697.1,251.5C701.1,252.3 705.1,253.0 709.2,253.7C713.2,254.4 717.3,255.1 721.3,255.8C725.4,256.6 729.4,257.3 733.4,258.0C737.5,258.7 741.5,259.5 745.6,260.2C749.6,260.9 753.7,261.6 757.7,262.4C761.7,263.1 765.8,263.8 769.8,264.6C773.9,265.3 777.9,266.0 781.9,266.7C786.0,267.5 790.0,268.2 794.1,268.9C798.1,269.6 802.2,270.4 806.2,271.1C810.3,271.8 814.3,272.5 818.3,273.2C822.4,273.9 826.4,274.6 830.5,275.3C834.5,276.0 838.6,276.7 842.6,277.4C846.7,278.1 850.7,278.8 854.8,279.5C858.8,280.1 862.9,280.8 866.9,281.5C871.0,282.1 875.0,282.8 879.1,283.4C883.1,284.1 887.2,284.7 891.2,285.4C895.3,286.0 899.4,286.6 903.4,287.2C907.5,287.9 911.5,288.5 915.6,289.1C919.7,289.7 923.7,290.2 927.8,290.8C931.9,291.4 938.0,292.2 940.0,292.5L945.0,520.0L780.0,520.0L245.0,300.0L215.0,262.0Z" fill="#9595fd"/>
<path d="M372.5,291.2C371.9,290.0 370.0,285.8 368.8,283.8C367.5,281.7 367.7,280.2 365.0,278.8C362.3,277.3 356.7,276.0 352.5,275.0C348.3,274.0 344.2,273.3 340.0,272.5C335.8,271.7 331.7,270.8 327.5,270.0C323.3,269.2 319.2,268.8 315.0,267.5C310.8,266.2 307.5,264.4 302.5,262.5C297.5,260.6 288.8,257.8 285.0,256.2C281.2,254.7 279.2,254.3 280.0,253.1C280.8,251.8 284.2,249.7 290.0,248.8C295.8,247.8 303.8,247.5 315.0,247.5C326.2,247.5 341.7,247.9 357.0,248.8C372.3,249.6 390.3,250.6 407.0,252.5C423.7,254.4 439.4,255.8 457.0,260.0C474.6,264.2 497.0,272.3 512.5,277.5C528.0,282.7 535.4,286.0 550.0,291.0C564.6,296.0 583.3,302.0 600.0,307.5C616.7,313.0 635.4,318.1 650.0,324.0C664.6,329.9 675.5,336.9 687.5,343.0C699.5,349.1 709.5,353.3 722.3,360.4C735.0,367.5 750.1,377.1 764.0,385.4C777.9,393.7 795.3,402.4 805.7,410.4C816.1,418.4 819.6,425.0 826.5,433.3C833.4,441.6 841.4,452.4 847.3,460.4C853.2,468.4 858.5,474.6 862.0,481.2C865.5,487.9 866.2,494.2 868.0,500.0C869.8,505.8 872.2,513.3 873.0,516.0L780.0,520.0L500.0,400.0L390.0,310.0Z" fill="#b4b4fd"/>
<path d="M757.8,477.0C757.1,472.7 763.2,474.7 766.0,474.0C768.8,473.3 771.9,472.5 774.4,473.0C776.9,473.5 779.1,473.9 780.7,477.0C782.3,480.1 782.2,486.2 783.8,491.7C785.3,497.2 792.3,508.6 790.0,510.0C787.7,511.4 775.4,505.5 770.0,500.0C764.6,494.5 758.4,481.3 757.8,477.0Z" fill="#9595fd"/>
<path d="M204.0,256.5L206.0,253.6L239.5,253.6L243.5,257.4L245.0,258.6L269.3,258.6L275.8,263.0L280.1,263.9L290.7,263.9L297.2,268.3L300.3,269.2L308.1,269.2L314.6,273.6L317.4,274.5L324.5,274.5L331.0,278.9L333.7,279.8L340.3,279.8L346.8,284.2L349.3,285.1L355.4,285.1L361.8,289.4L364.1,290.4L369.6,290.4L375.6,294.6L378.2,295.7L383.3,295.7L388.8,299.7L391.9,301.0L396.6,301.0L401.7,304.9L405.1,306.3L409.5,306.3L414.3,310.0L417.9,311.6L422.1,311.6L426.5,315.2L430.5,316.9L434.5,316.9L438.6,320.3L443.0,322.2L446.9,322.2L450.9,325.6L455.2,327.5L459.0,327.5L463.0,330.9L467.3,332.8L470.9,332.8L474.9,336.2L479.1,338.1L482.6,338.1L486.6,341.5L490.7,343.4L494.1,343.4L498.1,346.8L502.1,348.7L505.4,348.7L509.4,352.1L513.4,354.0L516.6,354.0L520.6,357.4L524.6,359.3L527.6,359.3L531.6,362.7L535.6,364.6L538.5,364.6L542.5,368.0L546.4,369.9L549.3,369.9L553.3,373.3L557.2,375.2L560.0,375.2L564.0,378.6L567.8,380.5L570.6,380.5L574.6,383.9L578.4,385.8L581.1,385.8L585.1,389.2L588.8,391.1L591.5,391.1L595.5,394.5L599.2,396.4L601.8,396.4L605.8,399.8L609.5,401.7L612.0,401.7L616.0,405.1L619.7,407.0L622.2,407.0L626.2,410.4L629.8,412.3L632.2,412.3L636.2,415.7L639.8,417.6L642.2,417.6L646.2,421.0L649.8,422.9L652.2,422.9L656.2,426.3L659.7,428.2L662.1,428.2L666.1,431.6L669.9,433.5L672.4,433.5L676.5,437.1L680.0,438.8L682.8,438.8L686.9,442.6L690.1,444.1L693.1,444.1L697.3,448.1L700.1,449.4L703.4,449.4L707.6,453.6L710.1,454.7L713.5,454.7L717.9,459.0L719.9,460.0L723.7,460.0L728.1,464.5L729.8,465.3L733.7,465.3L738.2,470.0L739.6,470.6L743.7,470.6L748.3,475.5L749.2,475.9L753.5,475.9L758.1,480.9L758.8,481.2L763.2,481.2L767.7,486.3L768.4,486.5L772.7,486.5L777.3,491.6L777.9,491.8L782.2,491.8L786.8,496.9L787.3,497.1L791.7,497.1L796.3,502.3L796.7,502.4L801.1,502.4L805.7,507.6L806.0,507.7L810.5,507.7L815.0,512.9L815.3,513.0L819.8,513.0L824.5,518.3L829.0,518.3L830.0,530.0L300.0,320.0L220.0,270.0Z" fill="#fff"/>
<path d="M162.5,275.0L163.5,272.8L164.8,270.8L166.3,268.9L168.1,267.2L170.1,265.6L172.4,264.1L174.9,262.7L177.7,261.5L180.7,260.4L184.0,259.5L187.5,258.7L191.2,258.0L195.2,257.5L199.4,257.1L203.8,256.8L208.4,256.7L213.3,256.7L218.4,256.9L223.7,257.2L229.2,257.6L234.9,258.2L240.9,258.8L247.0,259.6L253.3,260.5L259.8,261.5L266.5,262.7L273.3,264.0L280.4,265.5L287.6,267.2L295.0,269.2L302.5,271.3L310.2,273.7L318.0,276.2L326.0,278.8L334.1,281.4L342.3,284.2L350.7,287.0L359.2,290.0L367.8,293.0L376.5,296.2L385.3,299.5L394.2,303.0L403.2,306.5L412.3,310.1L421.5,313.9L430.7,317.7L440.0,321.6L449.4,325.6L458.8,329.7L468.3,333.9L477.8,338.2L487.3,342.5L496.9,347.0L506.5,351.4L516.2,356.0L525.8,360.6L535.4,365.2L545.1,369.9L554.7,374.7L564.4,379.5L574.0,384.3L583.6,389.1L593.1,394.0L602.7,398.9L612.1,403.8L621.6,408.7L631.0,413.6L640.3,418.5L649.5,423.4L658.7,428.4L667.8,433.2L676.8,438.1L685.8,443.0L694.6,447.8L703.3,452.6L712.0,457.3L720.5,462.1L728.9,466.7L737.2,471.4L745.3,475.9L753.3,480.5L761.2,484.9L768.9,489.3L776.5,493.6L783.9,497.9L791.1,502.1L798.2,506.2L805.2,510.2L811.9,514.1L818.5,518.0L824.9,521.7L831.1,525.4L837.1,528.9L842.9,532.4L848.5,535.7L853.9,538.9L859.1,542.1L864.2,545.1L868.9,547.9L873.5,550.7L877.9,553.4L882.0,555.9L885.9,558.2L889.6,560.5L893.1,562.6L896.3,564.6L899.3,566.4L902.1,568.1L904.6,569.7L906.9,571.1L909.0,572.4L910.8,573.5L912.4,574.5L913.7,575.3L914.8,576.0L915.7,576.5L916.3,576.9L916.7,577.1L916.8,577.2L915.7,579.5L915.3,579.4L914.6,579.3L913.6,579.1L912.3,578.8L910.8,578.5L909.0,578.1L906.9,577.6L904.5,577.1L901.8,576.5L898.9,575.9L895.8,575.2L892.3,574.4L888.6,573.6L884.6,572.8L880.4,571.8L875.9,570.8L871.2,569.8L866.2,568.6L861.0,567.4L855.5,566.2L849.8,564.9L843.9,563.5L837.8,562.1L831.4,560.6L824.8,559.1L818.0,557.4L811.0,555.8L803.8,554.0L796.4,552.2L788.8,550.4L781.0,548.5L773.0,546.5L764.9,544.5L756.6,542.4L748.1,540.3L739.5,538.1L730.7,535.9L721.8,533.6L712.8,531.2L703.6,528.8L694.3,526.3L684.9,523.8L675.4,521.3L665.7,518.7L656.0,516.0L646.2,513.3L636.3,510.6L626.4,507.8L616.3,505.0L606.3,502.1L596.1,499.2L585.9,496.2L575.7,493.2L565.5,490.1L555.2,487.1L544.9,483.9L534.7,480.8L524.4,477.6L514.1,474.3L503.9,471.1L493.6,467.8L483.5,464.4L473.3,461.1L463.2,457.6L453.2,454.2L443.2,450.7L433.3,447.2L423.5,443.7L413.7,440.2L404.1,436.6L394.5,433.0L385.1,429.5L375.8,425.9L366.6,422.3L357.5,418.7L348.6,415.1L339.8,411.4L331.2,407.8L322.7,404.1L314.4,400.4L306.2,396.7L298.3,393.0L290.5,389.2L282.8,385.5L275.4,381.8L268.2,378.1L261.2,374.3L254.4,370.6L247.7,366.8L241.4,363.0L235.2,359.3L229.2,355.6L223.5,351.9L218.0,348.2L212.8,344.6L207.7,340.9L203.0,337.4L198.4,333.8L194.2,330.3L190.1,326.8L186.3,323.4L182.8,320.1L179.6,316.8L176.6,313.5L173.8,310.3L171.3,307.2L169.1,304.1L167.2,301.1L165.5,298.1L164.1,295.3L162.9,292.5L162.0,289.7L161.4,287.1L161.1,284.5L161.0,282.0L161.3,279.6L161.7,277.3L162.5,275.0Z" fill="#cccccc" stroke="#000" stroke-width="1.4"/>
<path d="M187.90,97.3V258.6" stroke="#000" stroke-width="1.5" stroke-dasharray="4.6 1.8 1.3 1.8" fill="none"/>
<path d="M350.70,97.3V287.0" stroke="#000" stroke-width="1.5" stroke-dasharray="4.6 1.8 1.3 1.8" fill="none"/>
<path d="M513.50,97.3V354.7" stroke="#000" stroke-width="1.5" stroke-dasharray="4.6 1.8 1.3 1.8" fill="none"/>
<path d="M676.30,97.3V437.8" stroke="#000" stroke-width="1.5" stroke-dasharray="4.6 1.8 1.3 1.8" fill="none"/>
<path d="M839.10,97.3V513.0" stroke="#000" stroke-width="1.5" stroke-dasharray="4.6 1.8 1.3 1.8" fill="none"/>
<path d="M187.9,123.0L237.1,109.0M219.3,108.3L237.1,109.0L222.4,119.0M187.9,154.2L237.1,139.0M219.2,138.7L237.1,139.0L222.5,149.4M187.9,185.5L237.1,166.4M218.8,167.3L237.1,166.4L222.9,178.1M187.9,216.8L238.1,193.3M219.0,195.6L238.1,193.3L224.1,206.5M187.9,248.0L239.4,219.5M219.3,223.3L239.4,219.5L225.5,234.5M350.7,123.0L407.5,113.8M387.7,110.6L407.5,113.8L389.8,123.0M350.7,154.2L409.5,145.0M389.1,141.6L409.5,145.0L391.1,154.5M350.7,185.5L403.2,178.0M385.1,174.8L403.2,178.0L386.7,186.2M350.7,216.8L360.8,213.8M357.1,213.6L360.8,213.8L357.8,215.8M350.7,248.0L342.0,245.0M344.5,246.9L342.0,245.0L345.2,245.0M350.7,279.2L342.0,277.5M344.7,279.0L342.0,277.5L345.1,277.1M513.5,123.0L571.2,120.0M551.9,114.7L571.2,120.0L552.5,127.3M513.5,154.2L563.8,153.0M547.0,147.9L563.8,153.0L547.3,158.9M513.5,185.5L543.8,184.5M533.7,181.5L543.8,184.5L533.9,188.1M513.5,216.8L526.2,215.8M521.9,214.7L526.2,215.8L522.2,217.5M513.5,248.0L514.5,247.5M514.1,247.6L514.5,247.5L514.2,247.8M513.5,279.2L503.8,274.5M506.5,277.1L503.8,274.5L507.5,275.0M513.5,310.5L499.5,304.5M503.5,308.0L499.5,304.5L504.8,305.0M513.5,341.8L496.2,335.5M501.3,339.4L496.2,335.5L502.6,335.7M676.3,123.0L727.5,125.0M710.8,118.8L727.5,125.0L710.4,129.9M676.3,154.2L716.2,156.2M703.3,151.2L716.2,156.2L702.8,159.9M676.3,185.5L705.0,188.0M695.8,184.0L705.0,188.0L695.3,190.3M676.3,216.8L694.5,218.2M688.7,215.8L694.5,218.2L688.3,219.7M676.3,248.0L685.8,249.2M682.8,247.8L685.8,249.2L682.5,249.9M676.3,279.2L675.5,280.0M675.8,279.8L675.5,280.0L675.7,279.7M676.3,310.5L671.2,307.5M672.6,309.0L671.2,307.5L673.2,307.9M676.3,341.8L667.0,337.5M669.6,339.9L667.0,337.5L670.5,337.9M676.3,373.0L663.8,367.5M667.3,370.7L663.8,367.5L668.5,367.9M676.3,404.2L660.8,397.0M665.1,401.1L660.8,397.0L666.7,397.7M676.3,435.5L662.5,429.5M666.4,433.0L662.5,429.5L667.7,430.0M839.1,123.0L887.2,127.0M871.8,120.4L887.2,127.0L870.9,130.9M839.1,154.2L878.5,158.8M866.0,153.0L878.5,158.8L865.0,161.6M839.1,185.5L869.8,189.5M860.1,184.8L869.8,189.5L859.2,191.5M839.1,216.8L861.5,220.5M854.5,216.8L861.5,220.5L853.7,221.7M839.1,248.0L854.8,250.8M849.9,248.1L854.8,250.8L849.3,251.5M839.1,279.2L848.0,280.8M845.2,279.3L848.0,280.8L844.9,281.2M839.1,310.5L842.2,311.2M841.3,310.7L842.2,311.2L841.1,311.3M839.1,341.8L837.0,341.7M837.7,341.9L837.0,341.7L837.7,341.5M839.1,373.0L833.8,372.0M835.4,372.9L833.8,372.0L835.7,371.8M839.1,404.2L831.4,402.0M833.7,403.6L831.4,402.0L834.2,401.9M839.1,435.5L830.2,433.3M832.9,435.0L830.2,433.3L833.4,433.1M839.1,466.8L829.5,463.5M832.3,465.6L829.5,463.5L833.0,463.5M839.1,498.0L829.3,493.8M832.1,496.2L829.3,493.8L833.0,494.1" stroke="#000" stroke-width="1.4" fill="none" stroke-linejoin="miter"/>
<path d="M237.1,88.0C237.1,88.7 237.1,90.7 237.1,92.0C237.1,93.3 237.1,94.9 237.1,95.5C237.1,96.2 237.1,95.3 237.1,96.0C237.1,96.7 237.1,98.8 237.1,100.0C237.1,101.2 237.1,102.4 237.1,103.1C237.1,103.7 237.1,103.2 237.1,104.0C237.1,104.8 237.1,106.9 237.1,108.0C237.1,109.1 237.1,109.9 237.1,110.6C237.1,111.2 237.1,111.1 237.1,112.0C237.1,112.9 237.1,115.0 237.1,116.0C237.1,117.0 237.1,117.4 237.1,118.1C237.1,118.8 237.1,119.0 237.1,120.0C237.1,121.0 237.1,123.1 237.1,124.0C237.1,124.9 237.1,125.0 237.1,125.6C237.1,126.3 237.1,126.9 237.1,128.0C237.1,129.1 237.1,131.1 237.0,132.0C237.0,132.9 237.0,132.5 237.0,133.2C237.0,133.8 237.0,134.9 237.0,136.0C237.0,137.1 237.0,139.2 237.0,140.0C237.0,140.8 237.0,140.0 237.0,140.7C237.0,141.4 237.0,142.8 237.0,144.0C237.0,145.2 237.0,147.3 237.0,148.0C237.0,148.7 237.0,146.9 237.0,148.2C237.0,149.5 237.1,153.2 237.1,155.7C237.1,158.3 237.1,160.8 237.1,163.3C237.2,165.8 237.2,168.3 237.2,170.8C237.3,173.3 237.3,175.8 237.4,178.3C237.4,180.8 237.5,183.3 237.6,185.8C237.6,188.3 237.7,190.9 237.8,193.4C237.9,195.9 238.0,198.4 238.1,200.9C238.2,203.4 238.4,205.9 238.5,208.4C238.6,210.9 238.7,213.4 238.9,215.9C239.0,218.4 239.1,220.9 239.3,223.4C239.4,225.9 239.5,228.4 239.6,230.9C239.8,233.5 239.9,236.0 240.0,238.5C240.1,241.0 240.2,243.5 240.3,246.0C240.4,248.5 240.5,252.2 240.5,253.5" stroke="#ff0000" stroke-width="1.4" fill="none"/>
<path d="M407.0,88.0C407.0,88.7 406.9,90.8 406.9,92.0C406.9,93.3 406.9,94.8 406.9,95.5C406.9,96.2 406.9,95.3 406.9,96.0C406.9,96.8 406.9,98.9 407.0,100.0C407.0,101.2 407.0,102.3 407.0,102.9C407.1,103.6 407.0,103.2 407.1,104.0C407.1,104.9 407.2,107.0 407.2,108.0C407.3,109.1 407.3,109.7 407.3,110.4C407.3,111.0 407.3,111.1 407.4,112.0C407.4,112.9 407.6,115.0 407.6,116.0C407.7,116.9 407.7,117.1 407.7,117.8C407.8,118.4 407.8,118.9 407.9,120.0C407.9,121.0 408.1,123.1 408.1,123.9C408.2,124.8 408.2,124.5 408.2,125.2C408.2,125.9 408.3,126.8 408.4,127.9C408.5,129.0 408.6,131.1 408.7,131.9C408.7,132.7 408.7,131.9 408.7,132.6C408.8,133.3 408.9,134.7 409.0,135.9C409.0,137.1 409.2,139.2 409.2,139.9C409.3,140.6 409.2,139.4 409.3,140.1C409.3,140.7 409.4,142.7 409.5,143.9C409.6,145.2 409.7,146.9 409.7,147.5C409.8,148.2 409.7,146.7 409.8,147.9C409.8,149.2 410.0,152.6 409.9,155.0C409.8,157.4 409.6,160.0 409.1,162.4C408.6,164.7 407.9,167.1 407.0,169.4C406.1,171.6 404.9,173.8 403.7,176.0C402.4,178.1 401.0,180.2 399.5,182.2C398.0,184.2 396.3,186.1 394.6,187.9C392.9,189.8 391.1,191.6 389.3,193.2C387.5,194.9 385.7,196.5 383.8,198.1C381.9,199.7 380.0,201.3 378.1,202.9C376.2,204.4 374.2,206.0 372.3,207.7C370.4,209.3 368.5,211.0 366.6,212.7C364.7,214.4 362.8,216.2 361.0,217.9C359.2,219.7 357.5,221.6 355.8,223.4C354.2,225.3 352.5,227.3 351.1,229.2C349.6,231.2 348.2,233.2 346.9,235.3C345.7,237.4 344.6,239.6 343.6,241.8C342.6,244.0 341.8,246.3 341.2,248.6C340.5,250.9 340.0,253.3 339.8,255.8C339.5,258.3 339.5,260.8 339.6,263.3C339.8,265.8 340.2,268.4 340.9,270.8C341.6,273.2 342.5,275.6 343.7,277.7C344.9,279.9 347.5,282.7 348.3,283.8" stroke="#ff0000" stroke-width="1.4" fill="none"/>
<path d="M571.8,94.5C571.8,95.2 572.0,97.3 572.0,98.5C572.1,99.7 572.1,101.1 572.1,101.8C572.2,102.4 572.1,101.7 572.1,102.5C572.1,103.3 572.1,105.5 572.1,106.5C572.1,107.6 572.1,108.3 572.0,109.0C572.0,109.6 572.0,109.6 572.0,110.5C571.9,111.4 571.8,113.5 571.7,114.5C571.6,115.4 571.6,115.5 571.6,116.2C571.5,116.8 571.5,117.4 571.4,118.4C571.3,119.5 571.0,121.6 571.0,122.4C570.9,123.2 570.9,122.7 570.8,123.4C570.8,124.0 570.6,125.2 570.5,126.4C570.3,127.6 570.0,129.7 569.9,130.4C569.8,131.1 570.0,129.9 569.9,130.6C569.7,131.2 569.4,133.2 569.2,134.4C569.0,135.5 568.7,137.1 568.5,137.7C568.4,138.4 568.6,137.5 568.4,138.3C568.2,139.0 567.8,141.1 567.5,142.2C567.2,143.3 567.0,144.1 566.8,144.8C566.6,145.4 566.7,145.2 566.4,146.0C566.1,146.9 565.5,148.9 565.2,149.8C564.9,150.8 564.8,151.0 564.5,151.6C564.3,152.2 564.2,152.5 563.8,153.6C563.3,154.7 562.6,156.4 561.7,158.2C560.7,160.1 559.5,162.5 558.3,164.6C557.1,166.7 555.8,168.8 554.5,170.8C553.2,172.9 551.8,174.9 550.4,176.9C549.1,178.9 547.7,180.9 546.3,182.9C544.9,184.9 543.5,186.8 542.2,188.8C540.9,190.8 539.5,192.8 538.2,194.9C537.0,196.9 535.7,198.9 534.5,201.0C533.3,203.0 532.1,205.1 531.0,207.2C529.8,209.3 528.7,211.5 527.7,213.6C526.6,215.8 525.6,218.0 524.5,220.2C523.5,222.4 522.6,224.6 521.6,226.8C520.6,229.0 519.7,231.2 518.8,233.5C517.8,235.7 516.9,237.9 516.0,240.2C515.1,242.4 514.2,244.7 513.3,246.9C512.5,249.2 511.6,251.4 510.8,253.7C510.0,256.0 509.1,258.2 508.4,260.5C507.6,262.8 506.8,265.1 506.1,267.4C505.4,269.7 504.7,272.0 504.1,274.3C503.4,276.6 502.8,278.9 502.3,281.3C501.7,283.6 501.2,286.0 500.7,288.4C500.2,290.7 499.8,293.1 499.4,295.5C499.0,297.9 498.6,300.3 498.3,302.7C498.0,305.1 497.7,307.5 497.4,309.9C497.2,312.3 497.0,314.7 496.8,317.1C496.6,319.5 496.5,321.9 496.4,324.3C496.3,326.8 496.2,329.2 496.2,331.6C496.2,334.0 496.2,336.4 496.3,338.8C496.3,341.2 496.5,344.8 496.5,346.0" stroke="#ff0000" stroke-width="1.4" fill="none"/>
<path d="M731.5,98.3C731.5,98.9 731.5,101.1 731.5,102.3C731.5,103.5 731.4,104.9 731.3,105.5C731.3,106.2 731.4,105.5 731.3,106.3C731.2,107.1 731.0,109.2 730.8,110.2C730.7,111.3 730.5,112.0 730.4,112.7C730.3,113.4 730.3,113.3 730.2,114.2C730.0,115.1 729.5,117.2 729.3,118.1C729.1,119.0 729.1,119.1 728.9,119.8C728.8,120.4 728.7,121.0 728.4,122.0C728.1,123.0 727.5,125.0 727.3,125.8C727.1,126.6 727.2,126.1 727.0,126.8C726.9,127.4 726.5,128.6 726.2,129.7C725.8,130.8 725.2,132.8 724.9,133.5C724.7,134.2 725.1,133.1 724.9,133.7C724.7,134.3 724.0,136.1 723.6,137.3C723.2,138.4 722.7,139.9 722.5,140.5C722.2,141.2 722.5,140.3 722.3,141.0C722.0,141.7 721.2,143.7 720.8,144.8C720.4,145.8 720.1,146.7 719.9,147.3C719.6,147.9 719.7,147.7 719.4,148.5C719.1,149.3 718.3,151.3 717.9,152.2C717.5,153.1 717.4,153.4 717.2,154.0C717.0,154.6 716.9,154.8 716.5,155.9C716.1,157.1 715.4,158.9 714.7,160.8C714.0,162.8 713.1,165.4 712.3,167.7C711.6,169.9 710.8,172.2 710.1,174.5C709.3,176.8 708.6,179.1 707.8,181.4C707.0,183.7 706.3,186.0 705.5,188.3C704.6,190.5 703.8,192.8 703.0,195.1C702.1,197.3 701.3,199.6 700.4,201.9C699.6,204.1 698.8,206.4 698.0,208.7C697.2,210.9 696.4,213.2 695.7,215.5C694.9,217.8 694.2,220.1 693.4,222.4C692.7,224.7 691.9,227.0 691.2,229.3C690.5,231.6 689.8,233.9 689.0,236.2C688.3,238.5 687.6,240.8 687.0,243.1C686.3,245.5 685.6,247.8 684.9,250.1C684.3,252.4 683.6,254.8 683.0,257.1C682.4,259.4 681.7,261.7 681.1,264.1C680.5,266.4 679.9,268.8 679.3,271.1C678.7,273.4 678.2,275.8 677.6,278.1C677.0,280.5 676.5,282.8 676.0,285.2C675.4,287.5 674.9,289.9 674.4,292.3C673.9,294.6 673.4,297.0 672.9,299.4C672.5,301.7 672.0,304.1 671.6,306.5C671.1,308.8 670.7,311.2 670.3,313.6C669.9,316.0 669.5,318.4 669.1,320.7C668.7,323.1 668.4,325.5 668.0,327.9C667.7,330.3 667.4,332.7 667.1,335.1C666.8,337.5 666.5,339.9 666.2,342.2C665.9,344.6 665.6,347.0 665.3,349.4C665.1,351.8 664.8,354.2 664.6,356.6C664.3,359.0 664.1,361.4 663.8,363.9C663.6,366.3 663.3,368.7 663.1,371.1C662.8,373.5 662.6,375.9 662.4,378.3C662.1,380.7 661.9,383.1 661.7,385.5C661.4,387.9 661.2,390.3 660.9,392.7C660.7,395.1 660.4,397.5 660.2,399.9C660.0,402.3 659.8,404.7 659.6,407.1C659.5,409.5 659.4,412.0 659.5,414.4C659.6,416.8 659.7,419.2 660.0,421.6C660.3,424.0 661.0,427.6 661.2,428.8" stroke="#ff0000" stroke-width="1.4" fill="none"/>
<path d="M891.0,102.0C890.9,102.7 890.7,104.8 890.6,106.0C890.5,107.2 890.3,108.5 890.2,109.2C890.1,109.9 890.2,109.2 890.1,110.0C890.0,110.8 889.7,112.9 889.5,113.9C889.4,115.0 889.2,115.7 889.1,116.3C889.0,117.0 889.0,117.0 888.9,117.9C888.7,118.8 888.3,120.9 888.1,121.8C887.9,122.7 887.9,122.8 887.8,123.4C887.6,124.1 887.5,124.7 887.3,125.7C887.1,126.7 886.6,128.8 886.4,129.6C886.2,130.4 886.4,129.8 886.2,130.4C886.0,131.1 885.8,132.3 885.5,133.5C885.2,134.6 884.7,136.7 884.5,137.4C884.3,138.0 884.6,136.8 884.5,137.4C884.3,138.1 883.8,140.1 883.5,141.2C883.2,142.4 882.8,143.8 882.6,144.4C882.4,145.1 882.6,144.3 882.4,145.1C882.2,145.8 881.6,147.9 881.3,148.9C881.1,150.0 880.8,150.7 880.7,151.4C880.5,152.0 880.5,151.9 880.3,152.8C880.0,153.7 879.4,155.7 879.2,156.6C878.9,157.6 878.9,157.7 878.7,158.3C878.5,159.0 878.4,159.3 878.1,160.5C877.7,161.7 877.3,163.3 876.7,165.3C876.2,167.2 875.4,169.9 874.8,172.2C874.1,174.5 873.5,176.8 872.8,179.2C872.2,181.5 871.5,183.8 870.9,186.1C870.3,188.4 869.6,190.7 869.0,193.1C868.4,195.4 867.7,197.7 867.1,200.0C866.5,202.4 865.9,204.7 865.3,207.0C864.6,209.3 864.0,211.7 863.4,214.0C862.8,216.3 862.2,218.6 861.6,221.0C861.0,223.3 860.4,225.6 859.8,228.0C859.3,230.3 858.7,232.6 858.1,235.0C857.5,237.3 857.0,239.7 856.4,242.0C855.8,244.3 855.3,246.7 854.7,249.0C854.2,251.4 853.6,253.7 853.1,256.1C852.6,258.4 852.0,260.8 851.5,263.1C851.0,265.5 850.5,267.8 850.0,270.2C849.5,272.5 849.0,274.9 848.5,277.2C848.0,279.6 847.5,281.9 847.0,284.3C846.5,286.7 846.1,289.0 845.6,291.4C845.2,293.7 844.7,296.1 844.3,298.5C843.8,300.8 843.4,303.2 843.0,305.6C842.6,307.9 842.2,310.3 841.8,312.7C841.4,315.1 841.0,317.4 840.6,319.8C840.3,322.2 839.9,324.6 839.5,326.9C839.2,329.3 838.8,331.7 838.5,334.1C838.2,336.5 837.8,338.8 837.5,341.2C837.2,343.6 836.9,346.0 836.6,348.4C836.3,350.7 836.0,353.1 835.7,355.5C835.5,357.9 835.2,360.3 834.9,362.7C834.7,365.1 834.4,367.5 834.2,369.9C834.0,372.2 833.7,374.6 833.5,377.0C833.3,379.4 833.1,381.8 832.9,384.2C832.7,386.6 832.5,389.0 832.3,391.4C832.1,393.8 831.9,396.2 831.7,398.6C831.6,401.0 831.4,403.4 831.2,405.8C831.1,408.2 830.9,410.6 830.8,413.0C830.7,415.4 830.5,417.8 830.4,420.2C830.3,422.6 830.2,425.0 830.1,427.4C830.0,429.8 829.9,432.2 829.8,434.6C829.7,437.0 829.6,439.4 829.5,441.8C829.4,444.2 829.3,446.6 829.3,449.0C829.2,451.4 829.2,453.8 829.1,456.2C829.1,458.6 829.0,461.1 829.0,463.5C828.9,465.9 828.9,468.3 828.9,470.7C828.9,473.1 828.8,475.5 828.8,477.9C828.8,480.3 828.8,482.7 828.8,485.1C828.8,487.5 828.8,489.9 828.8,492.3C828.8,494.7 828.9,497.2 828.9,499.6C828.9,502.0 828.9,504.4 829.0,506.8C829.0,509.2 829.1,512.8 829.1,514.0" stroke="#ff0000" stroke-width="1.4" fill="none"/>
<path d="M229.3,247.8C229.6,247.2 230.4,245.2 231.1,244.1C231.8,242.9 232.6,241.8 233.5,240.9C234.4,239.9 235.8,238.6 236.3,238.1C236.8,237.6 236.0,238.3 236.5,237.9C237.1,237.6 238.4,236.5 239.5,235.8C240.6,235.1 241.8,234.5 243.0,233.9C244.2,233.3 245.9,232.6 246.6,232.2C247.3,231.9 246.5,232.3 247.2,232.0C247.8,231.8 249.2,231.2 250.4,230.8C251.6,230.4 252.9,229.9 254.2,229.5C255.5,229.1 257.3,228.5 258.0,228.2C258.8,228.0 258.2,228.2 258.9,228.0C259.5,227.8 260.7,227.4 261.9,227.0C263.0,226.7 264.4,226.3 265.7,225.9C267.0,225.5 268.7,225.0 269.6,224.8C270.4,224.6 270.0,224.7 270.7,224.5C271.3,224.3 272.3,224.1 273.4,223.8C274.5,223.5 276.0,223.1 277.3,222.8C278.6,222.4 280.3,222.0 281.2,221.8C282.0,221.6 280.3,222.0 282.5,221.4C284.8,220.9 290.5,219.5 294.5,218.6C298.4,217.7 302.4,216.8 306.4,215.9C310.4,215.0 314.4,214.1 318.4,213.3C322.4,212.4 326.4,211.6 330.4,210.8C334.4,210.0 338.5,209.2 342.5,208.4C346.5,207.7 350.5,206.9 354.6,206.2C358.6,205.5 362.6,204.9 366.7,204.2C370.7,203.6 374.8,203.0 378.8,202.4C382.9,201.9 386.9,201.3 391.0,200.8C395.1,200.3 399.1,199.9 403.2,199.5C407.3,199.0 411.4,198.6 415.4,198.3C419.5,197.9 423.6,197.6 427.7,197.3C431.8,197.0 435.9,196.7 440.0,196.4C444.1,196.1 448.1,195.9 452.2,195.7C456.3,195.4 460.4,195.2 464.5,195.1C468.6,194.9 472.7,194.7 476.8,194.5C480.9,194.4 485.0,194.2 489.1,194.1C493.2,194.0 497.3,193.9 501.4,193.8C505.4,193.7 509.5,193.7 513.6,193.6C517.7,193.6 521.8,193.5 525.9,193.5C530.0,193.5 534.1,193.5 538.2,193.5C542.3,193.5 546.4,193.5 550.5,193.6C554.6,193.6 558.7,193.7 562.7,193.8C566.8,193.8 570.9,193.9 575.0,194.0C579.1,194.1 583.2,194.3 587.3,194.4C591.4,194.6 595.5,194.7 599.5,194.9C603.6,195.0 607.7,195.2 611.8,195.4C615.9,195.6 620.0,195.8 624.1,196.1C628.2,196.3 632.2,196.5 636.3,196.8C640.4,197.1 644.5,197.3 648.6,197.6C652.7,197.9 656.7,198.2 660.8,198.5C664.9,198.8 669.0,199.2 673.1,199.5C677.1,199.9 681.2,200.2 685.3,200.6C689.4,201.0 693.4,201.4 697.5,201.8C701.6,202.2 705.7,202.6 709.7,203.0C713.8,203.4 717.9,203.9 721.9,204.3C726.0,204.8 730.1,205.2 734.1,205.7C738.2,206.2 742.3,206.7 746.3,207.2C750.4,207.7 754.5,208.2 758.5,208.8C762.6,209.3 766.6,209.8 770.7,210.4C774.8,210.9 778.8,211.5 782.9,212.1C786.9,212.7 791.0,213.3 795.0,213.9C799.1,214.5 803.1,215.1 807.2,215.7C811.2,216.3 815.3,217.0 819.3,217.6C823.4,218.3 827.4,219.0 831.4,219.6C835.5,220.3 839.5,221.0 843.6,221.7C847.6,222.4 851.6,223.1 855.7,223.8C859.7,224.5 863.7,225.3 867.7,226.0C871.8,226.8 875.8,227.5 879.8,228.3C883.8,229.0 887.9,229.8 891.9,230.6C895.9,231.4 899.9,232.2 903.9,233.0C908.0,233.8 912.0,234.6 916.0,235.4C920.0,236.3 924.0,237.1 928.0,237.9C932.0,238.8 938.0,240.1 940.0,240.5" stroke="#000" stroke-width="3.8" fill="none"/>
<path d="M231.0,246.5C231.5,246.0 232.8,244.4 233.8,243.5C234.9,242.7 236.0,242.0 237.1,241.4C238.3,240.8 240.1,240.2 240.8,239.9C241.4,239.6 240.4,240.0 241.0,239.8C241.7,239.6 243.4,239.2 244.6,238.9C245.9,238.6 247.3,238.3 248.6,238.0C249.9,237.8 251.8,237.4 252.6,237.3C253.3,237.1 252.5,237.3 253.1,237.2C253.8,237.1 255.3,236.8 256.6,236.6C257.8,236.4 259.2,236.1 260.5,235.9C261.8,235.7 263.7,235.4 264.5,235.3C265.3,235.1 264.6,235.2 265.3,235.1C265.9,235.0 267.2,234.8 268.4,234.7C269.6,234.5 271.1,234.3 272.4,234.1C273.7,233.9 275.5,233.7 276.3,233.6C277.2,233.5 276.7,233.5 277.4,233.4C278.0,233.4 279.1,233.2 280.3,233.1C281.4,232.9 282.9,232.7 284.3,232.6C285.6,232.4 287.3,232.3 288.2,232.2C289.1,232.1 287.3,232.2 289.5,232.0C291.8,231.8 297.7,231.2 301.7,230.9C305.8,230.6 309.9,230.3 314.0,230.0C318.1,229.8 322.1,229.6 326.2,229.5C330.3,229.3 334.4,229.2 338.5,229.1C342.6,229.1 346.7,229.0 350.8,229.0C354.9,229.1 359.0,229.1 363.1,229.2C367.2,229.3 371.3,229.4 375.4,229.6C379.5,229.7 383.5,229.9 387.6,230.2C391.7,230.4 395.8,230.7 399.9,231.0C404.0,231.3 408.0,231.6 412.1,232.0C416.2,232.4 420.2,232.8 424.3,233.2C428.4,233.6 432.4,234.1 436.5,234.6C440.5,235.1 444.6,235.6 448.6,236.1C452.7,236.7 456.7,237.2 460.8,237.8C464.8,238.4 468.8,239.1 472.9,239.7C476.9,240.4 480.9,241.1 485.0,241.8C489.0,242.5 493.0,243.2 497.0,243.9C501.0,244.7 505.1,245.4 509.1,246.2C513.1,247.0 517.1,247.8 521.1,248.7C525.1,249.5 529.1,250.4 533.1,251.2C537.1,252.1 541.1,253.0 545.1,253.9C549.0,254.8 553.0,255.7 557.0,256.7C561.0,257.6 565.0,258.6 568.9,259.5C572.9,260.5 576.9,261.5 580.8,262.5C584.8,263.5 588.8,264.5 592.7,265.5C596.7,266.5 600.6,267.6 604.6,268.6C608.5,269.7 612.5,270.8 616.4,271.8C620.4,272.9 624.3,274.0 628.2,275.1C632.2,276.2 636.1,277.3 640.0,278.5C644.0,279.6 647.9,280.7 651.8,281.9C655.7,283.0 659.7,284.2 663.6,285.4C667.5,286.6 671.4,287.8 675.3,289.0C679.2,290.2 683.1,291.4 687.0,292.6C690.9,293.9 694.8,295.1 698.7,296.3C702.6,297.6 706.5,298.8 710.4,300.0C714.3,301.2 718.2,302.5 722.1,303.6C726.0,304.8 729.9,306.0 733.9,307.1C737.8,308.2 741.7,309.3 745.7,310.4C749.6,311.5 753.6,312.5 757.6,313.4C761.5,314.4 765.5,315.3 769.5,316.2C773.5,317.1 777.5,318.0 781.5,318.9C785.5,319.8 789.5,320.7 793.4,321.7C797.4,322.7 801.4,323.8 805.3,324.9C809.2,326.0 813.1,327.1 817.1,328.3C821.0,329.5 824.9,330.7 828.8,332.0C832.6,333.2 836.5,334.5 840.4,335.8C844.3,337.1 848.1,338.5 852.0,339.8C855.9,341.1 859.7,342.5 863.6,343.9C867.4,345.2 871.3,346.6 875.1,348.0C879.0,349.4 882.8,350.7 886.7,352.1C890.6,353.4 894.4,354.8 898.3,356.1C902.1,357.5 906.0,358.8 909.9,360.1C913.8,361.3 917.6,362.6 921.5,363.9C925.4,365.1 929.3,366.3 933.2,367.5C937.1,368.7 943.0,370.4 945.0,371.0" stroke="#000" stroke-width="5.3" stroke-dasharray="18.9 18.9" fill="none"/>
<path d="M229.3,247.8C229.6,247.2 230.4,245.3 231.1,244.2C231.8,243.0 232.6,241.9 233.5,240.9C234.4,239.9 235.8,238.6 236.3,238.1C236.8,237.6 236.0,238.3 236.6,237.9C237.1,237.5 238.4,236.4 239.5,235.7C240.6,235.1 241.8,234.4 243.0,233.8C244.2,233.2 245.9,232.5 246.6,232.2C247.3,231.9 246.6,232.2 247.3,232.0C247.9,231.7 249.2,231.2 250.4,230.8C251.6,230.4 253.0,229.9 254.2,229.5C255.5,229.1 257.3,228.6 258.1,228.3C258.8,228.0 258.4,228.2 259.0,228.0C259.6,227.8 260.8,227.5 261.9,227.1C263.0,226.8 264.4,226.4 265.7,226.0C267.0,225.6 268.7,225.1 269.6,224.9C270.4,224.6 270.2,224.7 270.8,224.5C271.5,224.3 272.4,224.1 273.4,223.8C274.5,223.5 276.0,223.1 277.3,222.8C278.6,222.4 280.3,222.0 281.2,221.8C282.1,221.5 280.5,221.9 282.8,221.4C285.0,220.8 290.7,219.4 294.7,218.5C298.7,217.5 302.7,216.6 306.7,215.7C310.7,214.9 314.8,214.0 318.8,213.2C322.8,212.3 326.8,211.5 330.9,210.7C334.9,209.9 338.9,209.2 343.0,208.4C347.0,207.7 351.0,207.0 355.1,206.2C359.1,205.5 363.2,204.9 367.2,204.2C371.3,203.5 375.4,202.9 379.4,202.2C383.5,201.6 387.6,201.0 391.6,200.4C395.7,199.8 399.8,199.2 403.8,198.6C407.9,198.1 412.0,197.5 416.1,197.0C420.1,196.4 424.2,195.9 428.3,195.4C432.4,194.9 436.5,194.4 440.5,193.9C444.6,193.4 448.7,192.9 452.8,192.4C456.9,192.0 460.9,191.5 465.0,191.1C469.1,190.6 473.2,190.2 477.3,189.7C481.4,189.3 485.5,188.9 489.6,188.5C493.6,188.1 497.7,187.7 501.8,187.3C505.9,186.9 510.0,186.6 514.1,186.2C518.2,185.8 522.3,185.5 526.4,185.1C530.5,184.8 534.6,184.4 538.7,184.1C542.8,183.8 546.9,183.5 551.0,183.2C555.1,182.9 559.2,182.6 563.3,182.3C567.4,182.0 571.5,181.7 575.6,181.5C579.7,181.2 583.8,180.9 587.9,180.7C592.0,180.4 596.1,180.2 600.2,180.0C604.3,179.7 608.4,179.5 612.5,179.3C616.6,179.1 620.7,178.9 624.8,178.7C628.9,178.5 633.0,178.3 637.1,178.1C641.2,177.9 645.3,177.7 649.4,177.6C653.5,177.4 657.7,177.3 661.8,177.1C665.9,177.0 670.0,176.8 674.1,176.7C678.2,176.5 682.3,176.4 686.4,176.3C690.5,176.2 694.6,176.1 698.7,176.0C702.8,175.8 707.0,175.7 711.1,175.7C715.2,175.6 719.3,175.5 723.4,175.4C727.5,175.3 731.6,175.2 735.7,175.2C739.8,175.1 744.0,175.0 748.1,175.0C752.2,174.9 756.3,174.9 760.4,174.9C764.5,174.8 768.6,174.8 772.7,174.7C776.8,174.7 781.0,174.7 785.1,174.7C789.2,174.6 793.3,174.6 797.4,174.6C801.5,174.6 805.6,174.6 809.7,174.6C813.8,174.6 818.0,174.6 822.1,174.6C826.2,174.7 830.3,174.7 834.4,174.7C838.5,174.7 842.6,174.7 846.7,174.8C850.8,174.8 854.9,174.8 859.1,174.9C863.2,174.9 867.3,175.0 871.4,175.0C875.5,175.1 879.6,175.1 883.7,175.2C887.8,175.2 891.9,175.3 896.0,175.3C900.1,175.4 904.3,175.5 908.4,175.5C912.5,175.6 916.6,175.7 920.7,175.8C924.8,175.8 930.9,176.0 933.0,176.0" stroke="#ff0000" stroke-width="1.25" stroke-dasharray="5 3.7" fill="none"/>
<path d="M239.2,315.5V270" stroke="#000" stroke-width="1.5" fill="none"/>
<path d="M239.2,258L249,283.8L239.2,276.2L229.4,283.8Z" fill="#000"/>
<circle cx="350.8" cy="351.1" r="7.35" fill="none" stroke="#000" stroke-width="1.55"/>
</g>
<path d="M162.30,512.80v-7.8M162.30,90.70v7.8M325.10,512.80v-7.8M325.10,90.70v7.8M487.90,512.80v-7.8M487.90,90.70v7.8M650.70,512.80v-7.8M650.70,90.70v7.8M813.50,512.80v-7.8M813.50,90.70v7.8M123.15,112.25h7.8M937.00,112.25h-7.8M123.15,193.38h7.8M937.00,193.38h-7.8M123.15,274.50h7.8M937.00,274.50h-7.8M123.15,355.62h7.8M937.00,355.62h-7.8M123.15,436.75h7.8M937.00,436.75h-7.8" stroke="#111" stroke-width="1.1" fill="none"/>
<rect x="123.15" y="90.7" width="813.85" height="422.1" fill="none" stroke="#262626" stroke-width="1.7"/>
<text class="lab"><tspan x="149.5" y="468" style="font-weight:bold;font-size:38.6px">(b)</tspan><tspan x="198.8" y="470.5" style="font-style:italic;font-size:39.5px"> F</tspan><tspan x="237.2" y="461.7" style="font-size:21px;font-weight:bold">*</tspan><tspan x="250" y="476.8" style="font-size:50px"> =</tspan><tspan x="291.3" y="470.5" style="font-size:39.5px;letter-spacing:-0.5px"> 0.5</tspan></text>
</g>
<g transform="translate(123.150,533.100) scale(1,1.0015) translate(-123.15,-90.7)">
<g clip-path="url(#clip)">
<path d="M208.7,253.7C209.1,253.2 209.8,251.1 210.9,250.3C212.0,249.5 213.8,249.6 215.3,249.2C216.7,248.8 218.7,248.1 219.4,247.8C220.1,247.6 219.0,248.1 219.6,247.8C220.2,247.4 221.8,246.5 222.8,245.8C223.9,245.0 224.8,244.1 225.8,243.3C226.8,242.5 228.3,241.2 228.8,240.7C229.4,240.3 228.6,240.9 229.1,240.5C229.7,240.1 230.9,239.0 232.0,238.2C233.0,237.5 234.1,236.6 235.2,235.9C236.3,235.1 237.9,234.0 238.6,233.6C239.2,233.2 238.5,233.6 239.1,233.3C239.6,232.9 240.9,232.1 242.0,231.5C243.0,230.8 244.3,230.1 245.5,229.5C246.6,228.9 248.3,228.0 249.0,227.6C249.7,227.3 249.1,227.6 249.7,227.3C250.3,227.0 251.5,226.4 252.6,225.9C253.7,225.4 255.0,224.8 256.2,224.3C257.5,223.8 259.2,223.1 259.9,222.8C260.7,222.5 258.8,223.1 260.9,222.4C262.9,221.7 268.5,219.7 272.4,218.5C276.3,217.3 280.3,216.3 284.2,215.3C288.2,214.4 292.2,213.5 296.3,212.7C300.3,211.8 304.3,211.1 308.4,210.4C312.4,209.6 316.4,208.9 320.4,208.2C324.5,207.4 328.5,206.7 332.5,206.0C336.5,205.3 340.4,204.6 344.4,203.9C348.4,203.1 352.4,202.4 356.3,201.7C360.3,201.1 364.3,200.4 368.3,199.7C372.2,199.0 376.2,198.3 380.2,197.7C384.2,197.0 388.2,196.4 392.1,195.8C396.1,195.1 400.1,194.5 404.2,193.9C408.2,193.3 412.2,192.7 416.2,192.2C420.3,191.6 424.3,191.1 428.4,190.6C432.4,190.0 436.5,189.6 440.6,189.1C444.6,188.7 448.7,188.2 452.8,187.9C456.8,187.5 460.9,187.2 465.0,186.9C469.1,186.6 473.1,186.4 477.2,186.3C481.2,186.1 485.3,186.0 489.3,185.9C493.4,185.8 497.4,185.8 501.5,185.7C505.5,185.6 509.6,185.5 513.6,185.4C517.7,185.3 521.7,185.1 525.8,185.0C529.8,184.8 533.9,184.6 537.9,184.3C542.0,184.1 546.1,183.9 550.1,183.6C554.2,183.3 558.3,183.1 562.3,182.8C566.4,182.5 570.5,182.3 574.5,182.0C578.6,181.7 582.7,181.5 586.7,181.2C590.8,181.0 594.9,180.8 599.0,180.6C603.0,180.4 607.1,180.2 611.2,180.0C615.2,179.9 619.3,179.8 623.4,179.7C627.4,179.7 631.5,179.6 635.6,179.7C639.6,179.7 643.7,179.8 647.7,179.9C651.8,180.0 655.9,180.2 659.9,180.4C664.0,180.6 668.0,180.9 672.1,181.1C676.1,181.4 680.2,181.7 684.2,182.0C688.3,182.3 692.3,182.7 696.4,183.0C700.4,183.3 704.5,183.7 708.5,184.0C712.6,184.3 716.6,184.7 720.7,185.0C724.8,185.3 728.8,185.5 732.9,185.8C736.9,186.1 741.0,186.3 745.0,186.5C749.1,186.8 753.2,187.0 757.2,187.2C761.3,187.4 765.3,187.6 769.4,187.7C773.5,187.9 777.5,188.1 781.6,188.3C785.7,188.4 789.7,188.6 793.8,188.8C797.8,188.9 801.9,189.1 806.0,189.2C810.0,189.4 814.1,189.6 818.2,189.7C822.2,189.9 826.3,190.1 830.3,190.3C834.4,190.4 838.5,190.6 842.5,190.8C846.6,191.0 850.7,191.3 854.7,191.5C858.8,191.7 862.8,191.9 866.9,192.1C871.0,192.4 875.0,192.6 879.1,192.7C883.1,192.9 887.2,193.1 891.3,193.2C895.3,193.3 899.4,193.4 903.4,193.4C907.5,193.4 911.6,193.3 915.6,193.2C919.7,193.1 923.7,192.9 927.8,192.6C931.9,192.3 938.0,191.7 940.0,191.5L945.0,520.0L780.0,520.0L245.0,300.0L215.0,262.0Z" fill="#f3f3ff"/>
<path d="M217.5,253.0C218.0,252.5 219.4,251.1 220.4,250.2C221.3,249.3 222.3,248.4 223.3,247.5C224.3,246.6 225.8,245.3 226.3,244.9C226.9,244.4 226.0,245.1 226.5,244.7C227.1,244.3 228.4,243.1 229.5,242.3C230.5,241.5 231.6,240.7 232.7,239.9C233.7,239.1 235.3,238.1 235.9,237.6C236.6,237.2 235.8,237.7 236.4,237.3C236.9,237.0 238.2,236.1 239.3,235.5C240.4,234.8 241.6,234.1 242.8,233.5C243.9,232.8 245.6,232.0 246.3,231.6C247.0,231.2 246.4,231.5 247.0,231.2C247.6,231.0 248.8,230.4 249.9,229.9C251.0,229.4 252.3,228.8 253.6,228.3C254.8,227.7 256.5,227.1 257.3,226.8C258.1,226.5 257.6,226.6 258.3,226.4C258.9,226.2 260.0,225.8 261.1,225.4C262.2,225.0 263.6,224.5 264.8,224.1C266.1,223.7 267.8,223.2 268.7,222.9C269.5,222.7 267.7,223.1 269.9,222.6C272.1,222.0 277.8,220.4 281.8,219.5C285.8,218.6 289.8,217.8 293.8,217.1C297.9,216.3 301.9,215.7 306.0,215.0C310.0,214.4 314.1,213.8 318.1,213.2C322.2,212.6 326.2,212.0 330.3,211.4C334.3,210.8 338.3,210.2 342.4,209.6C346.4,209.0 350.5,208.5 354.5,208.0C358.5,207.4 362.6,206.9 366.6,206.4C370.7,206.0 374.7,205.5 378.8,205.1C382.8,204.6 386.8,204.2 390.9,203.9C394.9,203.5 399.0,203.2 403.1,202.9C407.1,202.6 411.2,202.4 415.3,202.2C419.3,202.0 423.4,201.8 427.5,201.7C431.6,201.6 435.6,201.5 439.7,201.5C443.8,201.4 447.9,201.4 452.0,201.4C456.1,201.4 460.2,201.5 464.3,201.5C468.4,201.6 472.5,201.7 476.6,201.8C480.7,201.9 484.8,202.0 488.9,202.1C493.0,202.3 497.0,202.4 501.1,202.6C505.2,202.7 509.3,202.9 513.4,203.1C517.5,203.2 521.6,203.4 525.7,203.6C529.8,203.8 533.9,204.0 537.9,204.1C542.0,204.3 546.1,204.5 550.2,204.7C554.3,204.9 558.3,205.1 562.4,205.3C566.5,205.5 570.6,205.7 574.6,205.9C578.7,206.1 582.8,206.3 586.9,206.5C590.9,206.7 595.0,207.0 599.1,207.2C603.2,207.4 607.2,207.6 611.3,207.8C615.4,208.0 619.5,208.2 623.5,208.5C627.6,208.7 631.7,208.9 635.8,209.1C639.8,209.3 643.9,209.5 648.0,209.8C652.1,210.0 656.2,210.2 660.2,210.4C664.3,210.7 668.4,210.9 672.5,211.1C676.6,211.4 680.6,211.7 684.7,211.9C688.8,212.2 692.9,212.5 696.9,212.8C701.0,213.2 705.1,213.5 709.2,213.9C713.2,214.2 717.3,214.6 721.4,215.1C725.4,215.5 729.5,216.0 733.5,216.4C737.6,216.9 741.6,217.5 745.7,218.0C749.7,218.5 753.8,219.1 757.8,219.7C761.8,220.3 765.9,220.9 769.9,221.5C774.0,222.1 778.0,222.7 782.0,223.3C786.1,224.0 790.1,224.6 794.1,225.2C798.2,225.9 802.2,226.5 806.2,227.1C810.3,227.8 814.3,228.4 818.4,229.0C822.4,229.6 826.4,230.2 830.5,230.8C834.5,231.4 838.6,232.0 842.6,232.5C846.7,233.1 850.7,233.6 854.8,234.1C858.8,234.6 862.9,235.1 866.9,235.6C871.0,236.1 875.1,236.5 879.1,237.0C883.2,237.4 887.2,237.9 891.3,238.3C895.4,238.8 899.4,239.2 903.5,239.7C907.6,240.1 911.6,240.6 915.7,241.0C919.7,241.5 923.8,242.0 927.8,242.5C931.9,243.0 938.0,243.7 940.0,244.0L945.0,520.0L780.0,520.0L245.0,300.0L215.0,262.0Z" fill="#d5d5fe"/>
<path d="M223.7,252.5C224.2,252.0 225.4,250.4 226.3,249.4C227.2,248.4 228.2,247.5 229.1,246.6C230.1,245.7 231.6,244.4 232.2,244.0C232.7,243.5 231.8,244.2 232.3,243.8C232.9,243.4 234.3,242.3 235.4,241.6C236.4,240.9 237.6,240.1 238.7,239.4C239.8,238.7 241.5,237.8 242.1,237.4C242.8,237.0 242.0,237.5 242.6,237.2C243.1,236.9 244.6,236.1 245.7,235.5C246.8,235.0 248.1,234.4 249.3,233.8C250.5,233.3 252.3,232.6 253.0,232.2C253.7,231.9 253.0,232.2 253.7,232.0C254.3,231.7 255.6,231.2 256.8,230.8C257.9,230.4 259.3,229.9 260.5,229.4C261.8,229.0 263.6,228.4 264.4,228.1C265.2,227.9 264.6,228.1 265.3,227.9C265.9,227.7 267.1,227.3 268.2,227.0C269.3,226.6 270.8,226.2 272.1,225.9C273.3,225.5 275.1,225.0 275.9,224.8C276.8,224.6 274.9,225.0 277.0,224.5C279.2,224.0 285.0,222.6 289.0,221.8C292.9,221.0 296.9,220.2 300.9,219.5C305.0,218.8 309.0,218.2 313.0,217.6C317.0,217.0 321.1,216.4 325.1,215.9C329.2,215.4 333.2,214.9 337.3,214.5C341.3,214.0 345.4,213.6 349.5,213.3C353.5,212.9 357.6,212.6 361.6,212.3C365.7,212.1 369.8,211.8 373.8,211.7C377.9,211.5 382.0,211.4 386.1,211.3C390.1,211.2 394.2,211.1 398.3,211.1C402.4,211.1 406.4,211.1 410.5,211.2C414.6,211.2 418.7,211.3 422.7,211.4C426.8,211.6 430.9,211.7 435.0,211.9C439.0,212.1 443.1,212.3 447.2,212.6C451.3,212.8 455.3,213.1 459.4,213.4C463.5,213.7 467.5,214.0 471.6,214.4C475.7,214.7 479.8,215.1 483.8,215.5C487.9,215.9 491.9,216.3 496.0,216.8C500.1,217.2 504.1,217.7 508.2,218.1C512.2,218.6 516.3,219.1 520.3,219.6C524.4,220.1 528.4,220.6 532.5,221.1C536.5,221.6 540.6,222.2 544.6,222.7C548.6,223.2 552.7,223.8 556.7,224.4C560.7,224.9 564.8,225.5 568.8,226.1C572.8,226.7 576.9,227.3 580.9,227.9C584.9,228.5 588.9,229.1 593.0,229.7C597.0,230.3 601.0,230.9 605.0,231.6C609.1,232.2 613.1,232.8 617.1,233.4C621.1,234.1 625.1,234.7 629.2,235.3C633.2,236.0 637.2,236.6 641.2,237.2C645.3,237.9 649.3,238.5 653.3,239.1C657.3,239.8 661.4,240.4 665.4,241.0C669.4,241.7 673.4,242.3 677.5,242.9C681.5,243.6 685.5,244.2 689.5,244.8C693.6,245.5 697.6,246.1 701.6,246.7C705.6,247.4 709.7,248.0 713.7,248.7C717.7,249.3 721.7,250.0 725.8,250.6C729.8,251.3 733.8,251.9 737.9,252.6C741.9,253.2 745.9,253.9 749.9,254.6C754.0,255.2 758.0,255.9 762.0,256.6C766.0,257.3 770.0,258.0 774.1,258.7C778.1,259.4 782.1,260.1 786.1,260.8C790.1,261.5 794.1,262.3 798.1,263.0C802.2,263.8 806.2,264.6 810.2,265.3C814.2,266.1 818.2,266.9 822.1,267.8C826.1,268.6 830.1,269.4 834.1,270.3C838.1,271.1 842.1,272.0 846.0,272.9C850.0,273.8 854.0,274.8 857.9,275.7C861.9,276.7 865.9,277.6 869.8,278.6C873.7,279.6 877.7,280.7 881.6,281.7C885.6,282.8 889.5,283.9 893.4,285.0C897.3,286.1 901.2,287.3 905.1,288.4C909.0,289.6 912.9,290.8 916.8,292.1C920.7,293.3 924.6,294.6 928.4,295.9C932.3,297.3 938.1,299.3 940.0,300.0L945.0,520.0L780.0,520.0L245.0,300.0L215.0,262.0Z" fill="#b4b4fd"/>
<path d="M228.7,251.2C229.2,250.8 230.6,249.3 231.5,248.3C232.5,247.4 233.6,246.6 234.6,245.8C235.7,245.0 237.3,244.0 237.9,243.6C238.5,243.2 237.5,243.8 238.1,243.5C238.7,243.1 240.2,242.2 241.3,241.6C242.5,241.0 243.7,240.4 244.9,239.9C246.1,239.3 247.9,238.6 248.6,238.4C249.3,238.1 248.4,238.4 249.1,238.2C249.7,238.0 251.2,237.4 252.4,237.0C253.6,236.6 254.9,236.2 256.2,235.8C257.5,235.4 259.3,234.9 260.1,234.7C260.9,234.5 260.2,234.7 260.8,234.5C261.5,234.3 262.8,234.0 264.0,233.7C265.2,233.4 266.6,233.1 268.0,232.8C269.3,232.5 271.1,232.1 271.9,232.0C272.7,231.8 272.2,231.9 272.8,231.8C273.5,231.7 274.7,231.4 275.8,231.2C277.0,231.0 278.5,230.7 279.8,230.5C281.1,230.3 282.9,230.0 283.8,229.9C284.6,229.8 282.7,230.0 284.9,229.7C287.2,229.4 293.0,228.7 297.1,228.2C301.1,227.8 305.2,227.5 309.3,227.3C313.3,227.0 317.4,226.9 321.5,226.7C325.5,226.6 329.6,226.6 333.7,226.6C337.8,226.6 341.9,226.6 345.9,226.7C350.0,226.8 354.1,226.9 358.2,227.0C362.2,227.2 366.3,227.3 370.4,227.5C374.5,227.7 378.5,228.0 382.6,228.2C386.7,228.5 390.8,228.8 394.8,229.1C398.9,229.4 403.0,229.7 407.0,230.1C411.1,230.5 415.2,230.9 419.2,231.3C423.3,231.8 427.3,232.2 431.4,232.7C435.5,233.2 439.5,233.7 443.6,234.2C447.6,234.7 451.6,235.3 455.7,235.9C459.7,236.4 463.8,237.1 467.8,237.7C471.8,238.3 475.9,239.0 479.9,239.6C483.9,240.3 487.9,241.0 492.0,241.7C496.0,242.4 500.0,243.2 504.0,243.9C508.0,244.7 512.0,245.5 516.0,246.3C520.0,247.1 524.0,247.9 528.0,248.7C532.0,249.6 536.0,250.4 540.0,251.3C543.9,252.1 547.9,253.0 551.9,253.9C555.9,254.8 559.9,255.6 563.8,256.5C567.8,257.4 571.8,258.3 575.8,259.2C579.7,260.1 583.7,261.0 587.7,261.8C591.7,262.7 595.7,263.6 599.7,264.4C603.6,265.3 607.6,266.1 611.6,267.0C615.6,267.8 619.6,268.6 623.6,269.4C627.6,270.2 631.6,271.0 635.6,271.8C639.6,272.5 643.7,273.2 647.7,274.0C651.7,274.7 655.7,275.4 659.7,276.2C663.7,276.9 667.8,277.7 671.7,278.6C675.7,279.5 679.7,280.5 683.6,281.5C687.6,282.6 691.5,283.7 695.4,284.8C699.3,285.9 703.3,287.1 707.2,288.2C711.1,289.3 715.1,290.3 719.0,291.3C723.0,292.2 727.0,293.0 731.0,293.8C735.0,294.6 739.0,295.2 743.1,295.9C747.1,296.7 751.1,297.3 755.1,298.1C759.1,299.0 763.1,299.8 767.0,300.9C770.9,301.9 774.8,303.2 778.7,304.4C782.5,305.7 786.4,307.1 790.2,308.5C794.1,309.8 797.9,311.3 801.8,312.6C805.6,313.9 809.5,315.2 813.4,316.4C817.3,317.7 821.2,318.8 825.1,320.0C829.0,321.2 832.9,322.3 836.8,323.5C840.7,324.7 844.6,325.9 848.5,327.3C852.3,328.6 856.2,330.0 860.0,331.4C863.8,332.8 867.6,334.4 871.4,335.9C875.1,337.4 878.9,339.0 882.7,340.6C886.4,342.2 890.2,343.8 894.0,345.3C897.7,346.9 901.5,348.5 905.3,350.0C909.1,351.5 912.9,353.0 916.7,354.4C920.5,355.8 924.4,357.2 928.3,358.5C932.1,359.7 938.0,361.4 940.0,362.0L945.0,520.0L780.0,520.0L245.0,300.0L215.0,262.0Z" fill="#9595fd"/>
<path d="M315.0,258.8C316.0,257.8 323.3,257.6 327.5,257.5C331.7,257.4 335.8,257.5 340.0,258.1C344.2,258.7 348.8,260.3 352.5,261.2C356.2,262.2 362.1,263.0 362.5,263.8C362.9,264.5 357.7,265.1 355.0,265.5C352.3,265.9 349.8,266.1 346.2,266.2C342.7,266.4 337.9,266.8 333.8,266.2C329.6,265.7 324.4,264.4 321.2,263.1C318.1,261.9 314.0,259.7 315.0,258.8Z" fill="#b4b4fd"/>
<path d="M381.2,297.0C380.8,296.2 379.6,294.7 378.8,292.5C377.9,290.3 377.3,286.7 376.2,283.8C375.2,280.8 373.8,277.5 372.5,275.0C371.2,272.5 367.9,270.2 368.8,268.8C369.6,267.3 372.3,266.5 377.5,266.2C382.7,266.0 392.1,266.1 400.0,267.0C407.9,267.9 416.7,269.6 425.0,271.5C433.3,273.4 441.7,275.4 450.0,278.5C458.3,281.6 464.6,284.3 475.0,290.0C485.4,295.7 500.0,305.8 512.5,312.5C525.0,319.2 537.5,324.2 550.0,330.0C562.5,335.8 575.0,342.1 587.5,347.5C600.0,352.9 614.6,358.4 625.0,362.5C635.4,366.6 640.5,368.5 650.0,372.0C659.5,375.5 673.0,379.0 681.7,383.3C690.5,387.6 695.6,392.8 702.5,398.0C709.4,403.2 716.3,408.7 723.3,414.6C730.2,420.5 737.2,426.7 744.2,433.3C751.2,439.9 760.3,449.5 765.0,454.2C769.7,458.9 771.5,459.5 772.3,461.5C773.1,463.5 771.2,465.0 770.0,466.0C768.8,467.0 767.9,467.1 765.0,467.7C762.1,468.3 756.7,470.0 752.5,469.8C748.3,469.6 745.6,469.0 740.0,466.7C734.4,464.4 727.0,460.3 719.0,456.0C711.0,451.7 700.5,445.7 692.0,441.0C683.5,436.3 672.0,430.2 668.0,428.0L640.0,420.0L500.0,400.0L390.0,310.0Z" fill="#b4b4fd"/>
<path d="M796.2,483.3C797.3,481.9 803.2,481.6 806.7,482.3C810.2,483.0 814.2,485.2 817.0,487.5C819.8,489.8 822.9,493.7 823.3,495.8C823.7,497.9 821.6,499.6 819.2,500.0C816.8,500.4 811.9,499.6 808.8,498.0C805.6,496.4 802.5,493.1 800.4,490.6C798.3,488.2 795.2,484.7 796.2,483.3Z" fill="#b4b4fd"/>
<path d="M204.0,256.5L206.0,253.6L239.5,253.6L243.5,257.4L245.0,258.6L269.3,258.6L275.8,263.0L280.1,263.9L290.7,263.9L297.2,268.3L300.3,269.2L308.1,269.2L314.6,273.6L317.4,274.5L324.5,274.5L331.0,278.9L333.7,279.8L340.3,279.8L346.8,284.2L349.3,285.1L355.4,285.1L361.8,289.4L364.1,290.4L369.6,290.4L375.6,294.6L378.2,295.7L383.3,295.7L388.8,299.7L391.9,301.0L396.6,301.0L401.7,304.9L405.1,306.3L409.5,306.3L414.3,310.0L417.9,311.6L422.1,311.6L426.5,315.2L430.5,316.9L434.5,316.9L438.6,320.3L443.0,322.2L446.9,322.2L450.9,325.6L455.2,327.5L459.0,327.5L463.0,330.9L467.3,332.8L470.9,332.8L474.9,336.2L479.1,338.1L482.6,338.1L486.6,341.5L490.7,343.4L494.1,343.4L498.1,346.8L502.1,348.7L505.4,348.7L509.4,352.1L513.4,354.0L516.6,354.0L520.6,357.4L524.6,359.3L527.6,359.3L531.6,362.7L535.6,364.6L538.5,364.6L542.5,368.0L546.4,369.9L549.3,369.9L553.3,373.3L557.2,375.2L560.0,375.2L564.0,378.6L567.8,380.5L570.6,380.5L574.6,383.9L578.4,385.8L581.1,385.8L585.1,389.2L588.8,391.1L591.5,391.1L595.5,394.5L599.2,396.4L601.8,396.4L605.8,399.8L609.5,401.7L612.0,401.7L616.0,405.1L619.7,407.0L622.2,407.0L626.2,410.4L629.8,412.3L632.2,412.3L636.2,415.7L639.8,417.6L642.2,417.6L646.2,421.0L649.8,422.9L652.2,422.9L656.2,426.3L659.7,428.2L662.1,428.2L666.1,431.6L669.9,433.5L672.4,433.5L676.5,437.1L680.0,438.8L682.8,438.8L686.9,442.6L690.1,444.1L693.1,444.1L697.3,448.1L700.1,449.4L703.4,449.4L707.6,453.6L710.1,454.7L713.5,454.7L717.9,459.0L719.9,460.0L723.7,460.0L728.1,464.5L729.8,465.3L733.7,465.3L738.2,470.0L739.6,470.6L743.7,470.6L748.3,475.5L749.2,475.9L753.5,475.9L758.1,480.9L758.8,481.2L763.2,481.2L767.7,486.3L768.4,486.5L772.7,486.5L777.3,491.6L777.9,491.8L782.2,491.8L786.8,496.9L787.3,497.1L791.7,497.1L796.3,502.3L796.7,502.4L801.1,502.4L805.7,507.6L806.0,507.7L810.5,507.7L815.0,512.9L815.3,513.0L819.8,513.0L824.5,518.3L829.0,518.3L830.0,530.0L300.0,320.0L220.0,270.0Z" fill="#fff"/>
<path d="M162.5,275.0L163.5,272.8L164.8,270.8L166.3,268.9L168.1,267.2L170.1,265.6L172.4,264.1L174.9,262.7L177.7,261.5L180.7,260.4L184.0,259.5L187.5,258.7L191.2,258.0L195.2,257.5L199.4,257.1L203.8,256.8L208.4,256.7L213.3,256.7L218.4,256.9L223.7,257.2L229.2,257.6L234.9,258.2L240.9,258.8L247.0,259.6L253.3,260.5L259.8,261.5L266.5,262.7L273.3,264.0L280.4,265.5L287.6,267.2L295.0,269.2L302.5,271.3L310.2,273.7L318.0,276.2L326.0,278.8L334.1,281.4L342.3,284.2L350.7,287.0L359.2,290.0L367.8,293.0L376.5,296.2L385.3,299.5L394.2,303.0L403.2,306.5L412.3,310.1L421.5,313.9L430.7,317.7L440.0,321.6L449.4,325.6L458.8,329.7L468.3,333.9L477.8,338.2L487.3,342.5L496.9,347.0L506.5,351.4L516.2,356.0L525.8,360.6L535.4,365.2L545.1,369.9L554.7,374.7L564.4,379.5L574.0,384.3L583.6,389.1L593.1,394.0L602.7,398.9L612.1,403.8L621.6,408.7L631.0,413.6L640.3,418.5L649.5,423.4L658.7,428.4L667.8,433.2L676.8,438.1L685.8,443.0L694.6,447.8L703.3,452.6L712.0,457.3L720.5,462.1L728.9,466.7L737.2,471.4L745.3,475.9L753.3,480.5L761.2,484.9L768.9,489.3L776.5,493.6L783.9,497.9L791.1,502.1L798.2,506.2L805.2,510.2L811.9,514.1L818.5,518.0L824.9,521.7L831.1,525.4L837.1,528.9L842.9,532.4L848.5,535.7L853.9,538.9L859.1,542.1L864.2,545.1L868.9,547.9L873.5,550.7L877.9,553.4L882.0,555.9L885.9,558.2L889.6,560.5L893.1,562.6L896.3,564.6L899.3,566.4L902.1,568.1L904.6,569.7L906.9,571.1L909.0,572.4L910.8,573.5L912.4,574.5L913.7,575.3L914.8,576.0L915.7,576.5L916.3,576.9L916.7,577.1L916.8,577.2L915.7,579.5L915.3,579.4L914.6,579.3L913.6,579.1L912.3,578.8L910.8,578.5L909.0,578.1L906.9,577.6L904.5,577.1L901.8,576.5L898.9,575.9L895.8,575.2L892.3,574.4L888.6,573.6L884.6,572.8L880.4,571.8L875.9,570.8L871.2,569.8L866.2,568.6L861.0,567.4L855.5,566.2L849.8,564.9L843.9,563.5L837.8,562.1L831.4,560.6L824.8,559.1L818.0,557.4L811.0,555.8L803.8,554.0L796.4,552.2L788.8,550.4L781.0,548.5L773.0,546.5L764.9,544.5L756.6,542.4L748.1,540.3L739.5,538.1L730.7,535.9L721.8,533.6L712.8,531.2L703.6,528.8L694.3,526.3L684.9,523.8L675.4,521.3L665.7,518.7L656.0,516.0L646.2,513.3L636.3,510.6L626.4,507.8L616.3,505.0L606.3,502.1L596.1,499.2L585.9,496.2L575.7,493.2L565.5,490.1L555.2,487.1L544.9,483.9L534.7,480.8L524.4,477.6L514.1,474.3L503.9,471.1L493.6,467.8L483.5,464.4L473.3,461.1L463.2,457.6L453.2,454.2L443.2,450.7L433.3,447.2L423.5,443.7L413.7,440.2L404.1,436.6L394.5,433.0L385.1,429.5L375.8,425.9L366.6,422.3L357.5,418.7L348.6,415.1L339.8,411.4L331.2,407.8L322.7,404.1L314.4,400.4L306.2,396.7L298.3,393.0L290.5,389.2L282.8,385.5L275.4,381.8L268.2,378.1L261.2,374.3L254.4,370.6L247.7,366.8L241.4,363.0L235.2,359.3L229.2,355.6L223.5,351.9L218.0,348.2L212.8,344.6L207.7,340.9L203.0,337.4L198.4,333.8L194.2,330.3L190.1,326.8L186.3,323.4L182.8,320.1L179.6,316.8L176.6,313.5L173.8,310.3L171.3,307.2L169.1,304.1L167.2,301.1L165.5,298.1L164.1,295.3L162.9,292.5L162.0,289.7L161.4,287.1L161.1,284.5L161.0,282.0L161.3,279.6L161.7,277.3L162.5,275.0Z" fill="#cccccc" stroke="#000" stroke-width="1.4"/>
<path d="M187.90,97.3V258.6" stroke="#000" stroke-width="1.5" stroke-dasharray="4.6 1.8 1.3 1.8" fill="none"/>
<path d="M350.70,97.3V287.0" stroke="#000" stroke-width="1.5" stroke-dasharray="4.6 1.8 1.3 1.8" fill="none"/>
<path d="M513.50,97.3V354.7" stroke="#000" stroke-width="1.5" stroke-dasharray="4.6 1.8 1.3 1.8" fill="none"/>
<path d="M676.30,97.3V437.8" stroke="#000" stroke-width="1.5" stroke-dasharray="4.6 1.8 1.3 1.8" fill="none"/>
<path d="M839.10,97.3V513.0" stroke="#000" stroke-width="1.5" stroke-dasharray="4.6 1.8 1.3 1.8" fill="none"/>
<path d="M187.9,123.0L237.1,109.0M219.3,108.3L237.1,109.0L222.4,119.0M187.9,154.2L237.1,139.0M219.2,138.7L237.1,139.0L222.5,149.4M187.9,185.5L237.1,166.4M218.8,167.3L237.1,166.4L222.9,178.1M187.9,216.8L238.1,193.3M219.0,195.6L238.1,193.3L224.1,206.5M187.9,248.0L239.4,219.5M219.3,223.3L239.4,219.5L225.5,234.5M350.7,123.0L409.0,114.0M388.8,110.6L409.0,114.0L390.7,123.3M350.7,154.2L410.5,145.0M389.8,141.5L410.5,145.0L391.8,154.6M350.7,185.5L405.0,178.5M386.3,174.9L405.0,178.5L387.8,186.7M350.7,216.8L368.8,213.8M362.5,212.8L368.8,213.8L363.1,216.7M350.7,248.0L345.6,245.0M347.0,246.5L345.6,245.0L347.6,245.4M350.7,279.2L346.2,278.0M347.6,278.9L346.2,278.0L347.9,277.9M513.5,123.0L571.8,122.5M552.5,116.3L571.8,122.5L552.6,129.0M513.5,154.2L565.0,155.0M548.1,149.1L565.0,155.0L547.9,160.4M513.5,185.5L550.5,187.5M538.5,182.8L550.5,187.5L538.1,190.9M513.5,216.8L536.2,218.2M528.9,215.3L536.2,218.2L528.6,220.2M513.5,248.0L521.2,248.8M518.8,247.7L521.2,248.8L518.6,249.3M513.5,279.2L511.0,279.0M511.8,279.4L511.0,279.0L511.9,278.8M513.5,310.5L506.2,308.0M508.4,309.6L506.2,308.0L508.9,308.0M513.5,341.8L500.8,338.8M504.6,341.1L500.8,338.8L505.3,338.4M676.3,123.0L729.1,127.5M712.2,120.3L729.1,127.5L711.2,131.8M676.3,154.2L721.2,159.5M707.0,152.9L721.2,159.5L705.8,162.7M676.3,185.5L712.5,190.0M701.0,184.6L712.5,190.0L700.1,192.5M676.3,216.8L702.5,221.2M694.3,216.9L702.5,221.2L693.4,222.6M676.3,248.0L694.5,251.2M688.8,248.2L694.5,251.2L688.1,252.2M676.3,279.2L685.5,281.2M682.7,279.6L685.5,281.2L682.2,281.6M676.3,310.5L678.8,310.0M677.9,309.9L678.8,310.0L678.0,310.4M676.3,341.8L675.0,340.0M675.2,340.7L675.0,340.0L675.6,340.4M676.3,373.0L669.2,370.8M671.3,372.3L669.2,370.8L671.8,370.8M676.3,404.2L666.0,400.0M668.9,402.5L666.0,400.0L669.9,400.3M676.3,435.5L668.0,432.3M670.4,434.3L668.0,432.3L671.1,432.5M839.1,123.0L889.5,129.0M873.5,121.5L889.5,129.0L872.2,132.5M839.1,154.2L883.8,160.2M869.7,153.4L883.8,160.2L868.4,163.1M839.1,185.5L878.5,191.5M866.2,185.2L878.5,191.5L864.8,193.8M839.1,216.8L870.2,223.8M860.7,218.1L870.2,223.8L859.2,224.8M839.1,248.0L863.0,253.0M855.7,248.7L863.0,253.0L854.6,254.0M839.1,279.2L856.7,283.0M851.3,279.8L856.7,283.0L850.5,283.7M839.1,310.5L850.4,313.5M847.0,311.3L850.4,313.5L846.3,313.7M839.1,341.8L845.2,344.2M843.5,342.7L845.2,344.2L842.9,344.1M839.1,373.0L841.0,374.0M840.5,373.5L841.0,374.0L840.3,373.9M839.1,404.2L839.0,404.0M839.0,404.1L839.0,404.0L839.1,404.1M839.1,435.5L835.8,435.8M836.9,436.1L835.8,435.8L836.9,435.3M839.1,466.8L832.7,466.0M834.7,466.9L832.7,466.0L834.9,465.6M839.1,498.0L831.2,495.4M833.6,497.1L831.2,495.4L834.1,495.4" stroke="#000" stroke-width="1.4" fill="none" stroke-linejoin="miter"/>
<path d="M237.1,88.0C237.1,88.7 237.1,90.7 237.1,92.0C237.1,93.3 237.1,94.9 237.1,95.5C237.1,96.2 237.1,95.3 237.1,96.0C237.1,96.7 237.1,98.8 237.1,100.0C237.1,101.2 237.1,102.4 237.1,103.1C237.1,103.7 237.1,103.2 237.1,104.0C237.1,104.8 237.1,106.9 237.1,108.0C237.1,109.1 237.1,109.9 237.1,110.6C237.1,111.2 237.1,111.1 237.1,112.0C237.1,112.9 237.1,115.0 237.1,116.0C237.1,117.0 237.1,117.4 237.1,118.1C237.1,118.8 237.1,119.0 237.1,120.0C237.1,121.0 237.1,123.1 237.1,124.0C237.1,124.9 237.1,125.0 237.1,125.6C237.1,126.3 237.1,126.9 237.1,128.0C237.1,129.1 237.1,131.1 237.0,132.0C237.0,132.9 237.0,132.5 237.0,133.2C237.0,133.8 237.0,134.9 237.0,136.0C237.0,137.1 237.0,139.2 237.0,140.0C237.0,140.8 237.0,140.0 237.0,140.7C237.0,141.4 237.0,142.8 237.0,144.0C237.0,145.2 237.0,147.3 237.0,148.0C237.0,148.7 237.0,146.9 237.0,148.2C237.0,149.5 237.1,153.2 237.1,155.7C237.1,158.3 237.1,160.8 237.1,163.3C237.2,165.8 237.2,168.3 237.2,170.8C237.3,173.3 237.3,175.8 237.4,178.3C237.4,180.8 237.5,183.3 237.6,185.8C237.6,188.3 237.7,190.9 237.8,193.4C237.9,195.9 238.0,198.4 238.1,200.9C238.2,203.4 238.4,205.9 238.5,208.4C238.6,210.9 238.7,213.4 238.9,215.9C239.0,218.4 239.1,220.9 239.3,223.4C239.4,225.9 239.5,228.4 239.6,230.9C239.8,233.5 239.9,236.0 240.0,238.5C240.1,241.0 240.2,243.5 240.3,246.0C240.4,248.5 240.5,252.2 240.5,253.5" stroke="#ff0000" stroke-width="1.4" fill="none"/>
<path d="M408.5,88.0C408.5,88.7 408.5,90.8 408.6,92.0C408.6,93.3 408.6,94.8 408.6,95.5C408.6,96.1 408.6,95.3 408.6,96.0C408.6,96.8 408.7,98.9 408.7,100.0C408.7,101.2 408.7,102.2 408.8,102.9C408.8,103.6 408.8,103.2 408.8,104.0C408.8,104.9 408.8,107.0 408.9,108.0C408.9,109.1 408.9,109.7 408.9,110.3C408.9,111.0 408.9,111.1 409.0,112.0C409.0,112.9 409.0,115.0 409.1,116.0C409.1,116.9 409.1,117.1 409.1,117.8C409.2,118.4 409.2,118.9 409.2,120.0C409.2,121.0 409.3,123.1 409.4,124.0C409.4,124.8 409.4,124.5 409.4,125.2C409.4,125.8 409.5,126.8 409.5,128.0C409.6,129.1 409.7,131.2 409.7,132.0C409.8,132.7 409.7,131.9 409.8,132.6C409.8,133.3 409.9,134.7 409.9,135.9C410.0,137.2 410.1,139.3 410.2,139.9C410.2,140.6 410.2,139.4 410.2,140.0C410.2,140.7 410.4,142.7 410.5,144.0C410.6,145.2 410.7,146.8 410.7,147.5C410.8,148.2 410.7,146.7 410.8,148.0C410.8,149.2 411.1,152.6 411.1,155.0C411.0,157.3 410.8,159.9 410.3,162.3C409.8,164.8 409.1,167.2 408.3,169.5C407.4,171.8 406.3,174.1 405.2,176.2C404.0,178.4 402.7,180.5 401.3,182.6C399.8,184.6 398.3,186.6 396.6,188.4C395.0,190.3 393.3,192.1 391.5,193.9C389.7,195.6 387.9,197.3 386.0,198.9C384.1,200.5 382.2,202.0 380.3,203.6C378.4,205.2 376.4,206.7 374.5,208.2C372.6,209.8 370.7,211.3 368.9,213.0C367.0,214.6 365.2,216.3 363.5,218.0C361.8,219.8 360.1,221.6 358.5,223.5C356.9,225.4 355.4,227.4 353.9,229.4C352.5,231.4 351.1,233.5 349.8,235.7C348.6,237.9 347.4,240.1 346.3,242.4C345.3,244.6 344.3,247.0 343.6,249.3C342.8,251.7 342.2,254.1 342.0,256.5C341.7,258.9 341.6,261.4 341.8,263.8C342.0,266.2 342.5,268.6 343.2,271.0C343.9,273.3 344.8,275.7 346.0,277.9C347.1,280.2 349.3,283.3 350.0,284.4" stroke="#ff0000" stroke-width="1.4" fill="none"/>
<path d="M572.5,96.3C572.5,96.9 572.6,99.0 572.6,100.2C572.6,101.5 572.6,102.9 572.6,103.6C572.7,104.2 572.7,103.5 572.6,104.2C572.6,105.0 572.6,107.1 572.6,108.2C572.6,109.4 572.6,110.3 572.6,110.9C572.5,111.6 572.5,111.4 572.5,112.2C572.5,113.1 572.4,115.2 572.3,116.2C572.3,117.3 572.2,117.6 572.2,118.3C572.1,119.0 572.1,119.3 572.0,120.2C572.0,121.2 571.8,123.3 571.7,124.2C571.6,125.1 571.6,125.0 571.5,125.6C571.4,126.3 571.4,127.1 571.2,128.2C571.1,129.3 570.8,131.4 570.6,132.2C570.5,133.0 570.6,132.3 570.5,132.9C570.4,133.6 570.2,134.9 570.0,136.1C569.8,137.3 569.3,139.4 569.2,140.0C569.1,140.7 569.3,139.5 569.2,140.1C569.0,140.8 568.6,142.7 568.3,143.9C568.0,145.1 567.6,146.6 567.4,147.3C567.3,147.9 567.5,147.1 567.3,147.8C567.1,148.5 566.5,150.5 566.1,151.6C565.8,152.7 565.5,153.6 565.3,154.3C565.1,154.9 565.3,154.3 564.9,155.4C564.4,156.5 563.5,159.0 562.7,161.1C561.8,163.2 560.8,165.6 559.7,167.9C558.7,170.1 557.6,172.3 556.5,174.5C555.5,176.8 554.3,179.0 553.2,181.2C552.1,183.4 551.0,185.5 549.9,187.7C548.8,189.9 547.7,192.1 546.7,194.3C545.6,196.5 544.5,198.7 543.5,200.9C542.4,203.1 541.4,205.3 540.3,207.5C539.3,209.7 538.2,211.9 537.2,214.1C536.1,216.4 535.1,218.6 534.0,220.8C533.0,223.0 532.0,225.2 530.9,227.4C529.9,229.6 528.9,231.9 527.9,234.1C526.9,236.3 526.0,238.6 525.0,240.8C524.1,243.1 523.1,245.3 522.2,247.6C521.3,249.9 520.4,252.1 519.6,254.4C518.7,256.7 517.9,259.0 517.1,261.3C516.3,263.7 515.5,266.0 514.7,268.3C513.9,270.6 513.2,273.0 512.5,275.3C511.7,277.7 511.0,280.0 510.4,282.4C509.7,284.7 509.0,287.1 508.4,289.5C507.7,291.8 507.1,294.2 506.5,296.6C505.9,299.0 505.4,301.4 504.8,303.8C504.3,306.2 503.8,308.6 503.4,311.0C503.0,313.4 502.6,315.8 502.3,318.3C501.9,320.7 501.6,323.1 501.4,325.5C501.2,328.0 501.0,330.4 501.0,332.8C500.9,335.3 500.8,337.7 500.9,340.2C500.9,342.6 501.2,346.3 501.2,347.5" stroke="#ff0000" stroke-width="1.4" fill="none"/>
<path d="M732.3,100.8C732.3,101.5 732.3,103.6 732.3,104.8C732.2,106.0 732.1,107.4 732.1,108.1C732.0,108.7 732.1,108.0 732.0,108.8C732.0,109.6 731.8,111.7 731.6,112.8C731.5,113.9 731.4,114.6 731.3,115.2C731.2,115.9 731.3,115.8 731.1,116.7C731.0,117.7 730.6,119.8 730.5,120.7C730.3,121.6 730.3,121.7 730.1,122.4C730.0,123.0 729.9,123.6 729.7,124.6C729.5,125.6 729.0,127.7 728.9,128.5C728.7,129.3 728.8,128.8 728.7,129.4C728.5,130.1 728.2,131.3 728.0,132.4C727.7,133.6 727.2,135.6 727.0,136.3C726.9,137.0 727.1,135.8 727.0,136.5C726.8,137.1 726.4,139.0 726.1,140.2C725.8,141.4 725.4,142.9 725.2,143.5C725.1,144.2 725.3,143.3 725.1,144.1C724.9,144.8 724.4,146.9 724.1,148.0C723.8,149.0 723.6,149.9 723.5,150.5C723.3,151.2 723.3,151.0 723.1,151.8C722.9,152.7 722.4,154.8 722.1,155.7C721.9,156.7 721.8,156.9 721.7,157.5C721.5,158.2 721.4,158.4 721.1,159.6C720.8,160.7 720.3,162.5 719.8,164.5C719.2,166.5 718.5,169.2 717.9,171.5C717.2,173.8 716.5,176.1 715.9,178.5C715.2,180.8 714.5,183.1 713.8,185.4C713.1,187.7 712.4,190.0 711.7,192.3C711.0,194.6 710.3,197.0 709.6,199.3C708.9,201.6 708.2,203.9 707.5,206.2C706.8,208.5 706.1,210.8 705.4,213.1C704.7,215.4 704.0,217.7 703.2,220.0C702.5,222.3 701.8,224.6 701.1,226.9C700.4,229.2 699.7,231.6 699.0,233.9C698.3,236.2 697.6,238.5 697.0,240.8C696.3,243.1 695.6,245.4 694.9,247.7C694.3,250.1 693.6,252.4 692.9,254.7C692.3,257.0 691.7,259.3 691.0,261.7C690.4,264.0 689.8,266.3 689.2,268.6C688.5,271.0 687.9,273.3 687.3,275.6C686.8,278.0 686.2,280.3 685.6,282.6C685.0,285.0 684.5,287.3 683.9,289.7C683.3,292.0 682.8,294.3 682.3,296.7C681.7,299.0 681.2,301.4 680.7,303.7C680.2,306.1 679.6,308.4 679.1,310.8C678.6,313.2 678.1,315.5 677.7,317.9C677.2,320.2 676.7,322.6 676.2,325.0C675.8,327.3 675.3,329.7 674.9,332.1C674.4,334.4 674.0,336.8 673.6,339.2C673.1,341.6 672.7,344.0 672.3,346.3C671.9,348.7 671.5,351.1 671.1,353.5C670.7,355.9 670.3,358.3 670.0,360.6C669.6,363.0 669.2,365.4 668.9,367.8C668.5,370.2 668.2,372.6 667.8,375.0C667.5,377.4 667.2,379.8 666.9,382.2C666.6,384.6 666.3,387.0 666.1,389.4C665.8,391.8 665.6,394.2 665.5,396.6C665.3,399.1 665.2,401.5 665.2,403.9C665.1,406.3 665.1,408.7 665.1,411.0C665.2,413.4 665.3,415.8 665.5,418.2C665.7,420.6 665.9,423.0 666.2,425.4C666.6,427.8 667.3,431.3 667.5,432.5" stroke="#ff0000" stroke-width="1.4" fill="none"/>
<path d="M892.5,103.3C892.5,104.0 892.5,106.1 892.4,107.3C892.4,108.5 892.3,109.8 892.2,110.5C892.2,111.1 892.2,110.5 892.2,111.3C892.1,112.1 891.9,114.2 891.7,115.3C891.6,116.3 891.5,116.9 891.4,117.6C891.3,118.3 891.3,118.3 891.2,119.2C891.1,120.2 890.7,122.3 890.6,123.2C890.4,124.1 890.4,124.0 890.3,124.7C890.2,125.3 890.1,126.0 889.9,127.1C889.7,128.2 889.3,130.3 889.2,131.0C889.0,131.8 889.2,131.1 889.0,131.7C888.9,132.4 888.7,133.8 888.4,135.0C888.2,136.2 887.8,138.1 887.7,138.8C887.6,139.5 887.8,138.2 887.7,138.9C887.6,139.6 887.2,141.7 887.0,142.8C886.7,144.0 886.5,145.2 886.4,145.9C886.3,146.5 886.4,146.0 886.2,146.8C886.1,147.6 885.7,149.7 885.5,150.7C885.3,151.7 885.2,152.3 885.1,152.9C885.0,153.6 884.9,153.7 884.8,154.6C884.6,155.6 884.2,157.7 884.1,158.6C883.9,159.5 883.9,159.3 883.8,160.0C883.7,160.6 883.6,161.4 883.4,162.5C883.2,163.7 883.0,165.1 882.7,167.1C882.3,169.0 881.9,171.8 881.5,174.2C881.1,176.5 880.8,178.9 880.3,181.2C879.9,183.6 879.5,185.9 879.1,188.3C878.6,190.6 878.2,193.0 877.7,195.3C877.2,197.7 876.7,200.0 876.1,202.3C875.6,204.7 875.0,207.0 874.4,209.3C873.9,211.6 873.3,213.9 872.7,216.3C872.1,218.6 871.4,220.9 870.8,223.2C870.2,225.5 869.6,227.8 869.0,230.1C868.4,232.4 867.8,234.8 867.2,237.1C866.6,239.4 865.9,241.7 865.4,244.0C864.8,246.3 864.2,248.7 863.6,251.0C863.1,253.3 862.5,255.6 862.0,258.0C861.4,260.3 860.9,262.6 860.4,265.0C859.9,267.3 859.4,269.6 858.8,272.0C858.3,274.3 857.8,276.7 857.3,279.0C856.8,281.3 856.4,283.7 855.9,286.0C855.4,288.4 854.9,290.7 854.4,293.0C853.9,295.4 853.4,297.7 852.9,300.1C852.4,302.4 851.9,304.8 851.5,307.1C851.0,309.5 850.5,311.8 850.1,314.2C849.6,316.5 849.2,318.9 848.7,321.2C848.3,323.6 847.9,325.9 847.5,328.3C847.1,330.6 846.7,333.0 846.3,335.4C845.9,337.7 845.6,340.1 845.2,342.5C844.9,344.8 844.6,347.2 844.2,349.6C843.9,351.9 843.6,354.3 843.4,356.7C843.1,359.1 842.8,361.4 842.6,363.8C842.3,366.2 842.1,368.6 841.8,370.9C841.6,373.3 841.4,375.7 841.2,378.1C840.9,380.5 840.7,382.8 840.5,385.2C840.3,387.6 840.1,390.0 839.9,392.4C839.6,394.8 839.4,397.1 839.2,399.5C839.0,401.9 838.8,404.3 838.5,406.7C838.3,409.0 838.1,411.4 837.8,413.8C837.6,416.2 837.3,418.6 837.1,421.0C836.9,423.3 836.6,425.7 836.4,428.1C836.1,430.5 835.9,432.9 835.7,435.2C835.4,437.6 835.2,440.0 835.0,442.4C834.7,444.8 834.5,447.1 834.3,449.5C834.1,451.9 833.8,454.3 833.6,456.7C833.4,459.1 833.2,461.4 833.0,463.8C832.9,466.2 832.7,468.6 832.5,471.0C832.3,473.4 832.2,475.7 832.1,478.1C831.9,480.5 831.8,482.9 831.7,485.3C831.6,487.7 831.5,490.1 831.4,492.5C831.3,494.9 831.3,497.2 831.2,499.6C831.2,502.0 831.2,504.4 831.2,506.8C831.2,509.2 831.2,512.8 831.2,514.0" stroke="#ff0000" stroke-width="1.4" fill="none"/>
<path d="M236.8,247.8C237.1,247.2 238.0,245.3 238.8,244.2C239.6,243.1 240.5,242.1 241.4,241.2C242.4,240.3 244.0,239.2 244.5,238.8C245.0,238.4 244.1,239.0 244.7,238.7C245.2,238.4 246.8,237.4 248.0,236.9C249.1,236.3 250.4,235.8 251.6,235.3C252.9,234.8 254.7,234.2 255.4,233.9C256.1,233.7 255.2,234.0 255.8,233.8C256.5,233.6 258.0,233.0 259.3,232.7C260.5,232.3 261.8,231.9 263.1,231.5C264.4,231.1 266.2,230.6 267.0,230.4C267.7,230.2 266.9,230.4 267.6,230.3C268.2,230.1 269.6,229.7 270.8,229.4C272.0,229.1 273.4,228.8 274.7,228.5C276.0,228.2 277.8,227.7 278.6,227.6C279.4,227.4 278.8,227.5 279.4,227.4C280.1,227.2 281.4,227.0 282.5,226.7C283.7,226.5 285.1,226.2 286.4,225.9C287.7,225.6 289.5,225.2 290.3,225.1C291.2,224.9 289.2,225.3 291.4,224.9C293.5,224.4 299.3,223.2 303.3,222.4C307.3,221.6 311.3,220.8 315.3,220.1C319.3,219.3 323.3,218.5 327.3,217.8C331.3,217.1 335.3,216.5 339.3,215.9C343.3,215.3 347.4,214.7 351.4,214.2C355.4,213.6 359.5,213.2 363.5,212.7C367.5,212.3 371.6,211.9 375.6,211.5C379.7,211.2 383.7,210.8 387.8,210.5C391.9,210.3 395.9,210.0 400.0,209.8C404.1,209.6 408.1,209.4 412.2,209.2C416.3,209.1 420.3,208.9 424.4,208.9C428.5,208.8 432.6,208.7 436.6,208.7C440.7,208.6 444.8,208.6 448.9,208.6C452.9,208.6 457.0,208.7 461.1,208.7C465.2,208.8 469.2,208.9 473.3,209.0C477.4,209.1 481.4,209.2 485.5,209.4C489.6,209.5 493.7,209.7 497.7,209.9C501.8,210.0 505.9,210.3 509.9,210.5C514.0,210.7 518.0,210.9 522.1,211.2C526.2,211.5 530.2,211.7 534.3,212.0C538.3,212.3 542.4,212.7 546.5,213.0C550.5,213.3 554.6,213.7 558.6,214.1C562.7,214.4 566.7,214.8 570.8,215.2C574.8,215.7 578.8,216.1 582.9,216.5C586.9,217.0 591.0,217.4 595.0,217.9C599.0,218.4 603.1,218.9 607.1,219.4C611.1,219.9 615.2,220.5 619.2,221.0C623.2,221.6 627.3,222.2 631.3,222.7C635.3,223.3 639.3,223.9 643.3,224.5C647.4,225.2 651.4,225.8 655.4,226.5C659.4,227.1 663.4,227.8 667.4,228.5C671.4,229.1 675.5,229.8 679.5,230.6C683.5,231.3 687.5,232.0 691.5,232.8C695.5,233.5 699.5,234.3 703.5,235.0C707.4,235.8 711.4,236.6 715.4,237.4C719.4,238.2 723.4,239.1 727.4,239.9C731.4,240.7 735.4,241.6 739.3,242.5C743.3,243.3 747.3,244.2 751.3,245.1C755.2,246.0 759.2,246.9 763.2,247.8C767.1,248.7 771.1,249.6 775.1,250.6C779.0,251.5 783.0,252.4 787.0,253.4C790.9,254.3 794.9,255.3 798.8,256.2C802.8,257.2 806.8,258.1 810.7,259.1C814.7,260.0 818.6,261.0 822.6,261.9C826.5,262.9 830.5,263.9 834.4,264.8C838.4,265.8 842.4,266.7 846.3,267.7C850.3,268.7 854.2,269.6 858.2,270.6C862.1,271.5 866.1,272.5 870.0,273.5C873.9,274.5 877.9,275.5 881.8,276.5C885.8,277.5 889.7,278.5 893.6,279.6C897.5,280.7 901.4,281.8 905.3,283.0C909.2,284.2 913.1,285.4 917.0,286.6C920.8,287.9 924.7,289.2 928.5,290.6C932.4,292.0 938.1,294.3 940.0,295.0" stroke="#000" stroke-width="3.8" fill="none"/>
<path d="M237.5,246.5C238.0,246.1 239.6,244.8 240.8,244.2C242.0,243.6 243.2,243.3 244.5,242.9C245.8,242.5 247.7,242.0 248.4,241.9C249.1,241.7 247.9,242.0 248.6,241.8C249.2,241.7 251.0,241.2 252.3,241.0C253.6,240.7 254.9,240.4 256.2,240.2C257.5,239.9 259.4,239.6 260.2,239.5C260.9,239.4 259.9,239.5 260.6,239.4C261.3,239.3 262.9,239.1 264.1,238.9C265.4,238.8 266.8,238.6 268.1,238.5C269.4,238.3 271.3,238.2 272.1,238.1C272.9,238.0 272.1,238.1 272.7,238.0C273.4,238.0 274.8,237.9 276.1,237.8C277.3,237.7 278.7,237.6 280.1,237.5C281.4,237.4 283.2,237.2 284.1,237.2C284.9,237.1 284.2,237.2 284.9,237.1C285.6,237.1 286.9,237.0 288.0,236.9C289.2,236.8 290.7,236.7 292.0,236.6C293.4,236.5 295.2,236.4 296.0,236.3C296.9,236.2 294.9,236.4 297.1,236.2C299.3,236.1 305.2,235.7 309.3,235.5C313.4,235.4 317.4,235.3 321.5,235.3C325.6,235.3 329.7,235.5 333.7,235.7C337.8,235.9 341.9,236.3 345.9,236.7C350.0,237.1 354.0,237.6 358.1,238.2C362.1,238.8 366.1,239.5 370.1,240.2C374.1,241.0 378.1,241.8 382.1,242.6C386.1,243.4 390.1,244.3 394.0,245.2C398.0,246.1 402.0,247.0 405.9,247.9C409.9,248.8 413.9,249.7 417.8,250.7C421.8,251.6 425.7,252.6 429.7,253.5C433.6,254.5 437.6,255.5 441.5,256.5C445.5,257.4 449.4,258.4 453.4,259.5C457.3,260.5 461.3,261.5 465.2,262.5C469.1,263.6 473.1,264.6 477.0,265.7C480.9,266.7 484.9,267.8 488.8,268.9C492.7,269.9 496.6,271.0 500.6,272.1C504.5,273.2 508.4,274.3 512.3,275.4C516.2,276.5 520.1,277.7 524.1,278.8C528.0,279.9 531.9,281.1 535.8,282.2C539.7,283.4 543.6,284.5 547.5,285.7C551.4,286.9 555.3,288.1 559.2,289.2C563.1,290.4 567.0,291.6 570.9,292.8C574.8,294.0 578.6,295.2 582.5,296.4C586.4,297.6 590.3,298.9 594.2,300.1C598.1,301.3 602.0,302.5 605.8,303.8C609.7,305.0 613.6,306.3 617.5,307.5C621.3,308.8 625.2,310.0 629.1,311.3C632.9,312.5 636.8,313.8 640.7,315.1C644.5,316.4 648.4,317.6 652.3,318.9C656.1,320.2 660.0,321.5 663.8,322.8C667.7,324.1 671.5,325.5 675.4,326.8C679.2,328.1 683.1,329.4 686.9,330.8C690.8,332.1 694.6,333.5 698.4,334.9C702.3,336.2 706.1,337.6 709.9,339.0C713.7,340.4 717.6,341.8 721.4,343.2C725.2,344.6 729.0,346.0 732.8,347.4C736.7,348.8 740.5,350.2 744.4,351.5C748.2,352.8 752.1,354.1 756.0,355.3C759.9,356.5 763.9,357.4 767.7,358.9C771.5,360.4 775.1,362.1 778.7,364.1C782.2,366.0 785.5,368.5 789.0,370.6C792.4,372.8 795.9,375.0 799.4,377.0C803.0,379.0 806.5,381.0 810.2,382.8C813.8,384.6 817.5,386.4 821.2,388.0C824.9,389.6 828.7,391.1 832.5,392.6C836.3,394.0 840.1,395.4 844.0,396.8C847.8,398.2 851.6,399.6 855.4,401.1C859.2,402.6 863.0,404.2 866.7,405.8C870.4,407.4 874.1,409.1 877.8,410.8C881.5,412.6 885.2,414.3 888.9,416.1C892.5,417.9 896.2,419.7 899.9,421.4C903.5,423.2 907.2,424.9 910.9,426.6C914.6,428.3 918.3,430.0 922.1,431.5C925.8,433.1 929.6,434.7 933.4,436.1C937.2,437.5 943.1,439.3 945.0,440.0" stroke="#000" stroke-width="5.3" stroke-dasharray="18.9 18.9" fill="none"/>
<path d="M229.3,247.8C229.6,247.2 230.4,245.3 231.1,244.2C231.8,243.0 232.6,241.9 233.5,240.9C234.4,239.9 235.8,238.6 236.3,238.1C236.8,237.6 236.0,238.3 236.6,237.9C237.1,237.5 238.4,236.4 239.5,235.7C240.6,235.1 241.8,234.4 243.0,233.8C244.2,233.2 245.9,232.5 246.6,232.2C247.3,231.9 246.6,232.2 247.3,232.0C247.9,231.7 249.2,231.2 250.4,230.8C251.6,230.4 253.0,229.9 254.2,229.5C255.5,229.1 257.3,228.6 258.1,228.3C258.8,228.0 258.4,228.2 259.0,228.0C259.6,227.8 260.8,227.5 261.9,227.1C263.0,226.8 264.4,226.4 265.7,226.0C267.0,225.6 268.7,225.1 269.6,224.9C270.4,224.6 270.2,224.7 270.8,224.5C271.5,224.3 272.4,224.1 273.4,223.8C274.5,223.5 276.0,223.1 277.3,222.8C278.6,222.4 280.3,222.0 281.2,221.8C282.1,221.5 280.5,221.9 282.8,221.4C285.0,220.8 290.7,219.4 294.7,218.5C298.7,217.5 302.7,216.6 306.7,215.7C310.7,214.9 314.8,214.0 318.8,213.2C322.8,212.3 326.8,211.5 330.9,210.7C334.9,209.9 338.9,209.2 343.0,208.4C347.0,207.7 351.0,207.0 355.1,206.2C359.1,205.5 363.2,204.9 367.2,204.2C371.3,203.5 375.4,202.9 379.4,202.2C383.5,201.6 387.6,201.0 391.6,200.4C395.7,199.8 399.8,199.2 403.8,198.6C407.9,198.1 412.0,197.5 416.1,197.0C420.1,196.4 424.2,195.9 428.3,195.4C432.4,194.9 436.5,194.4 440.5,193.9C444.6,193.4 448.7,192.9 452.8,192.4C456.9,192.0 460.9,191.5 465.0,191.1C469.1,190.6 473.2,190.2 477.3,189.7C481.4,189.3 485.5,188.9 489.6,188.5C493.6,188.1 497.7,187.7 501.8,187.3C505.9,186.9 510.0,186.6 514.1,186.2C518.2,185.8 522.3,185.5 526.4,185.1C530.5,184.8 534.6,184.4 538.7,184.1C542.8,183.8 546.9,183.5 551.0,183.2C555.1,182.9 559.2,182.6 563.3,182.3C567.4,182.0 571.5,181.7 575.6,181.5C579.7,181.2 583.8,180.9 587.9,180.7C592.0,180.4 596.1,180.2 600.2,180.0C604.3,179.7 608.4,179.5 612.5,179.3C616.6,179.1 620.7,178.9 624.8,178.7C628.9,178.5 633.0,178.3 637.1,178.1C641.2,177.9 645.3,177.7 649.4,177.6C653.5,177.4 657.7,177.3 661.8,177.1C665.9,177.0 670.0,176.8 674.1,176.7C678.2,176.5 682.3,176.4 686.4,176.3C690.5,176.2 694.6,176.1 698.7,176.0C702.8,175.8 707.0,175.7 711.1,175.7C715.2,175.6 719.3,175.5 723.4,175.4C727.5,175.3 731.6,175.2 735.7,175.2C739.8,175.1 744.0,175.0 748.1,175.0C752.2,174.9 756.3,174.9 760.4,174.9C764.5,174.8 768.6,174.8 772.7,174.7C776.8,174.7 781.0,174.7 785.1,174.7C789.2,174.6 793.3,174.6 797.4,174.6C801.5,174.6 805.6,174.6 809.7,174.6C813.8,174.6 818.0,174.6 822.1,174.6C826.2,174.7 830.3,174.7 834.4,174.7C838.5,174.7 842.6,174.7 846.7,174.8C850.8,174.8 854.9,174.8 859.1,174.9C863.2,174.9 867.3,175.0 871.4,175.0C875.5,175.1 879.6,175.1 883.7,175.2C887.8,175.2 891.9,175.3 896.0,175.3C900.1,175.4 904.3,175.5 908.4,175.5C912.5,175.6 916.6,175.7 920.7,175.8C924.8,175.8 930.9,176.0 933.0,176.0" stroke="#ff0000" stroke-width="1.25" stroke-dasharray="5 3.7" fill="none"/>
<path d="M239.2,315.5V270" stroke="#000" stroke-width="1.5" fill="none"/>
<path d="M239.2,258L249,283.8L239.2,276.2L229.4,283.8Z" fill="#000"/>
<circle cx="350.8" cy="351.1" r="7.35" fill="none" stroke="#000" stroke-width="1.55"/>
</g>
<path d="M162.30,512.80v-7.8M162.30,90.70v7.8M325.10,512.80v-7.8M325.10,90.70v7.8M487.90,512.80v-7.8M487.90,90.70v7.8M650.70,512.80v-7.8M650.70,90.70v7.8M813.50,512.80v-7.8M813.50,90.70v7.8M123.15,112.25h7.8M937.00,112.25h-7.8M123.15,193.38h7.8M937.00,193.38h-7.8M123.15,274.50h7.8M937.00,274.50h-7.8M123.15,355.62h7.8M937.00,355.62h-7.8M123.15,436.75h7.8M937.00,436.75h-7.8" stroke="#111" stroke-width="1.1" fill="none"/>
<rect x="123.15" y="90.7" width="813.85" height="422.1" fill="none" stroke="#262626" stroke-width="1.7"/>
<text class="lab"><tspan x="140.5" y="468" style="font-weight:bold;font-size:38.6px">(c)</tspan><tspan x="184.4" y="470.5" style="font-style:italic;font-size:39.5px"> F</tspan><tspan x="222.8" y="461.7" style="font-size:21px;font-weight:bold">*</tspan><tspan x="235.6" y="476.8" style="font-size:50px"> =</tspan><tspan x="276.9" y="470.5" style="font-size:39.5px;letter-spacing:-0.5px"> 1</tspan></text>
</g>
<g transform="translate(956.050,533.100) scale(0.9989,1.0015) translate(-123.15,-90.7)">
<g clip-path="url(#clip)">
<path d="M211.0,253.5C211.6,253.2 213.3,252.2 214.5,251.5C215.6,250.8 216.7,250.0 217.8,249.3C218.9,248.6 220.5,247.4 221.1,247.0C221.7,246.6 220.7,247.3 221.3,246.9C221.8,246.5 223.3,245.5 224.3,244.7C225.4,243.9 226.5,243.1 227.5,242.2C228.6,241.4 230.1,240.2 230.7,239.8C231.2,239.3 230.5,239.9 231.0,239.5C231.5,239.1 232.8,238.0 233.8,237.3C234.8,236.5 235.9,235.6 237.0,234.8C238.0,234.0 239.6,232.9 240.2,232.5C240.8,232.0 240.1,232.5 240.7,232.1C241.3,231.8 242.5,230.9 243.5,230.3C244.6,229.6 245.8,228.9 246.9,228.2C248.1,227.5 249.7,226.7 250.4,226.3C251.1,225.9 250.6,226.2 251.1,225.9C251.7,225.6 252.9,225.0 254.0,224.5C255.1,223.9 256.4,223.3 257.6,222.8C258.9,222.2 260.6,221.5 261.3,221.2C262.1,220.9 260.2,221.6 262.3,220.8C264.4,220.0 269.9,217.9 273.8,216.6C277.7,215.4 281.7,214.3 285.7,213.2C289.6,212.1 293.6,211.2 297.5,210.3C301.5,209.3 305.4,208.5 309.4,207.6C313.3,206.8 317.3,206.0 321.3,205.2C325.2,204.4 329.2,203.6 333.2,202.8C337.2,202.1 341.2,201.3 345.1,200.6C349.1,199.8 353.1,199.1 357.1,198.4C361.1,197.7 365.2,197.0 369.2,196.3C373.2,195.6 377.2,195.0 381.2,194.4C385.2,193.7 389.3,193.1 393.3,192.5C397.3,191.9 401.4,191.3 405.4,190.7C409.4,190.2 413.4,189.6 417.5,189.1C421.5,188.5 425.5,188.0 429.6,187.5C433.6,187.0 437.6,186.5 441.7,186.1C445.7,185.6 449.8,185.2 453.8,184.7C457.8,184.3 461.9,183.8 465.9,183.4C470.0,183.0 474.0,182.6 478.0,182.2C482.1,181.8 486.1,181.4 490.2,181.1C494.2,180.7 498.3,180.3 502.3,179.9C506.4,179.6 510.4,179.2 514.5,178.9C518.5,178.5 522.6,178.2 526.6,177.8C530.7,177.5 534.7,177.1 538.8,176.8C542.8,176.4 546.9,176.1 551.0,175.7C555.0,175.4 559.1,175.0 563.1,174.6C567.2,174.2 571.2,173.8 575.3,173.4C579.3,173.0 583.3,172.5 587.4,172.1C591.4,171.6 595.5,171.1 599.5,170.6C603.5,170.1 607.6,169.6 611.6,169.0C615.6,168.4 619.6,167.8 623.7,167.2C627.7,166.6 631.7,165.9 635.7,165.2C639.7,164.5 643.7,163.7 647.7,162.9C651.7,162.2 655.7,161.4 659.7,160.8C663.7,160.1 667.7,159.5 671.7,159.2C675.8,158.8 679.8,158.7 683.8,158.7C687.9,158.6 691.9,158.8 696.0,158.9C700.0,159.1 704.1,159.3 708.2,159.4C712.2,159.6 716.3,159.7 720.4,159.8C724.4,160.0 728.5,160.1 732.6,160.2C736.6,160.3 740.7,160.4 744.8,160.5C748.8,160.6 752.9,160.7 757.0,160.8C761.0,160.8 765.1,160.9 769.2,161.0C773.2,161.0 777.3,161.1 781.4,161.1C785.5,161.2 789.5,161.2 793.6,161.2C797.7,161.2 801.7,161.2 805.8,161.2C809.9,161.2 813.9,161.2 818.0,161.2C822.1,161.2 826.1,161.1 830.2,161.1C834.3,161.1 838.3,161.0 842.4,161.0C846.5,160.9 850.5,160.9 854.6,160.8C858.7,160.8 862.7,160.7 866.8,160.7C870.9,160.6 874.9,160.6 879.0,160.5C883.1,160.5 887.1,160.4 891.2,160.4C895.3,160.3 899.3,160.3 903.4,160.2C907.5,160.2 911.5,160.2 915.6,160.2C919.7,160.2 923.7,160.1 927.8,160.2C931.9,160.2 938.0,160.2 940.0,160.2L945.0,520.0L780.0,520.0L245.0,300.0L215.0,262.0Z" fill="#f3f3ff"/>
<path d="M217.5,253.0C218.0,252.6 219.5,251.2 220.5,250.4C221.5,249.5 222.5,248.6 223.5,247.7C224.5,246.8 226.0,245.5 226.6,245.1C227.1,244.6 226.2,245.4 226.7,244.9C227.3,244.5 228.6,243.3 229.7,242.5C230.7,241.7 231.7,240.9 232.8,240.0C233.9,239.2 235.4,238.1 236.0,237.7C236.6,237.2 235.9,237.8 236.4,237.4C237.0,237.0 238.3,236.1 239.4,235.5C240.4,234.8 241.6,234.1 242.8,233.4C243.9,232.7 245.6,231.9 246.3,231.5C247.0,231.1 246.3,231.5 246.9,231.2C247.5,230.9 248.7,230.2 249.8,229.7C250.9,229.2 252.3,228.6 253.5,228.1C254.7,227.5 256.4,226.9 257.2,226.5C258.0,226.2 257.5,226.4 258.1,226.2C258.7,226.0 259.8,225.5 260.9,225.1C262.0,224.7 263.5,224.2 264.7,223.8C266.0,223.3 267.7,222.8 268.5,222.5C269.3,222.2 267.5,222.8 269.6,222.1C271.8,221.5 277.4,219.7 281.4,218.6C285.3,217.6 289.3,216.6 293.3,215.7C297.2,214.8 301.2,214.0 305.2,213.2C309.3,212.4 313.3,211.7 317.3,211.1C321.4,210.4 325.4,209.8 329.5,209.3C333.5,208.7 337.6,208.2 341.6,207.7C345.7,207.2 349.8,206.8 353.8,206.3C357.9,205.9 362.0,205.5 366.0,205.1C370.1,204.7 374.1,204.3 378.2,203.9C382.3,203.5 386.3,203.2 390.4,202.8C394.4,202.5 398.5,202.2 402.6,201.9C406.6,201.6 410.7,201.3 414.7,201.0C418.8,200.7 422.9,200.4 426.9,200.2C431.0,199.9 435.0,199.7 439.1,199.4C443.2,199.2 447.2,199.0 451.3,198.7C455.3,198.5 459.4,198.3 463.5,198.1C467.5,197.9 471.6,197.7 475.7,197.5C479.7,197.3 483.8,197.1 487.9,196.9C491.9,196.7 496.0,196.5 500.1,196.3C504.1,196.1 508.2,195.9 512.3,195.8C516.4,195.6 520.4,195.4 524.5,195.2C528.6,195.0 532.7,194.8 536.8,194.6C540.8,194.5 544.9,194.3 549.0,194.1C553.1,193.9 557.2,193.7 561.2,193.5C565.3,193.3 569.4,193.2 573.5,193.0C577.6,192.8 581.7,192.6 585.7,192.4C589.8,192.2 593.9,192.0 598.0,191.8C602.1,191.6 606.1,191.4 610.2,191.2C614.3,191.0 618.4,190.8 622.4,190.6C626.5,190.4 630.6,190.2 634.7,190.0C638.7,189.8 642.8,189.6 646.9,189.4C650.9,189.2 655.0,188.9 659.1,188.8C663.1,188.6 667.2,188.4 671.3,188.3C675.3,188.2 679.4,188.1 683.5,188.0C687.5,188.0 691.6,188.0 695.7,188.0C699.7,188.1 703.8,188.2 707.9,188.4C712.0,188.6 716.1,188.8 720.1,189.0C724.2,189.3 728.3,189.5 732.4,189.8C736.4,190.1 740.5,190.3 744.6,190.6C748.7,190.9 752.7,191.2 756.8,191.5C760.9,191.8 764.9,192.1 769.0,192.4C773.1,192.8 777.1,193.1 781.2,193.4C785.3,193.7 789.3,194.0 793.4,194.3C797.5,194.6 801.5,194.9 805.6,195.2C809.7,195.5 813.7,195.8 817.8,196.1C821.9,196.4 825.9,196.6 830.0,196.9C834.1,197.1 838.1,197.4 842.2,197.6C846.3,197.8 850.4,198.0 854.4,198.2C858.5,198.4 862.6,198.6 866.7,198.8C870.7,199.0 874.8,199.2 878.9,199.3C883.0,199.5 887.0,199.7 891.1,199.9C895.2,200.0 899.3,200.2 903.4,200.4C907.4,200.6 911.5,200.8 915.6,201.0C919.7,201.2 923.7,201.4 927.8,201.7C931.9,201.9 938.0,202.4 940.0,202.5L945.0,520.0L780.0,520.0L245.0,300.0L215.0,262.0Z" fill="#d5d5fe"/>
<path d="M223.7,252.5C224.2,252.0 225.5,250.5 226.5,249.5C227.4,248.5 228.3,247.6 229.3,246.7C230.3,245.8 231.8,244.6 232.4,244.1C232.9,243.6 232.1,244.3 232.6,243.9C233.2,243.5 234.5,242.4 235.5,241.7C236.6,241.0 237.7,240.2 238.8,239.5C240.0,238.8 241.6,237.8 242.2,237.4C242.9,237.0 242.3,237.4 242.8,237.1C243.4,236.8 244.7,236.1 245.8,235.5C246.9,235.0 248.2,234.3 249.4,233.8C250.6,233.2 252.3,232.5 253.1,232.2C253.8,231.8 253.4,232.0 254.0,231.8C254.6,231.5 255.7,231.1 256.8,230.7C257.9,230.3 259.3,229.8 260.6,229.3C261.9,228.9 263.6,228.4 264.4,228.1C265.3,227.8 265.1,227.9 265.7,227.7C266.4,227.5 267.2,227.3 268.3,227.0C269.3,226.7 270.9,226.3 272.1,225.9C273.4,225.6 275.1,225.2 276.0,225.0C277.0,224.8 275.4,225.1 277.7,224.6C280.0,224.1 285.8,222.9 289.8,222.2C293.9,221.5 297.9,221.0 302.0,220.4C306.1,219.9 310.2,219.4 314.3,218.9C318.4,218.4 322.5,217.9 326.5,217.5C330.6,217.1 334.7,216.6 338.8,216.2C342.9,215.8 347.0,215.4 351.1,215.1C355.2,214.7 359.3,214.4 363.4,214.1C367.5,213.8 371.6,213.5 375.7,213.2C379.8,213.0 383.9,212.7 388.0,212.5C392.1,212.3 396.2,212.1 400.3,212.0C404.4,211.8 408.5,211.6 412.6,211.5C416.8,211.4 420.9,211.3 425.0,211.2C429.1,211.1 433.2,211.0 437.3,211.0C441.4,210.9 445.6,210.9 449.7,210.9C453.8,210.9 457.9,210.9 462.0,210.9C466.1,210.9 470.3,210.9 474.4,210.9C478.5,211.0 482.6,211.0 486.7,211.1C490.8,211.1 495.0,211.2 499.1,211.3C503.2,211.4 507.3,211.5 511.4,211.6C515.5,211.6 519.7,211.8 523.8,211.9C527.9,212.0 532.0,212.1 536.1,212.2C540.2,212.4 544.3,212.5 548.4,212.6C552.6,212.8 556.7,212.9 560.8,213.1C564.9,213.2 569.0,213.4 573.1,213.5C577.2,213.6 581.3,213.8 585.4,214.0C589.5,214.1 593.6,214.3 597.7,214.4C601.8,214.6 606.0,214.7 610.1,214.9C614.2,215.0 618.3,215.2 622.4,215.3C626.5,215.4 630.6,215.6 634.7,215.7C638.8,215.9 643.0,216.0 647.1,216.1C651.2,216.2 655.3,216.3 659.4,216.3C663.5,216.3 667.6,216.2 671.7,216.1C675.8,215.9 679.9,215.5 684.0,215.2C688.1,214.9 692.2,214.5 696.3,214.2C700.4,214.0 704.5,213.8 708.5,213.8C712.6,213.8 716.7,214.1 720.7,214.4C724.8,214.8 728.8,215.3 732.9,215.8C736.9,216.3 741.0,217.0 745.0,217.7C749.1,218.4 753.1,219.2 757.1,220.0C761.2,220.8 765.2,221.6 769.3,222.5C773.3,223.3 777.3,224.2 781.4,225.1C785.4,226.0 789.5,226.9 793.5,227.7C797.6,228.6 801.6,229.4 805.7,230.2C809.7,230.9 813.8,231.7 817.8,232.4C821.9,233.1 826.0,233.7 830.0,234.3C834.1,235.0 838.2,235.5 842.2,236.1C846.3,236.7 850.4,237.2 854.4,237.7C858.5,238.3 862.6,238.8 866.7,239.3C870.7,239.8 874.8,240.3 878.9,240.8C883.0,241.3 887.0,241.8 891.1,242.3C895.2,242.8 899.3,243.4 903.3,243.9C907.4,244.4 911.5,245.0 915.6,245.6C919.6,246.2 923.7,246.8 927.8,247.4C931.9,248.1 938.0,249.2 940.0,249.5L945.0,520.0L780.0,520.0L245.0,300.0L215.0,262.0Z" fill="#b4b4fd"/>
<path d="M228.8,251.9C229.2,251.4 230.6,249.9 231.6,248.9C232.5,248.0 233.6,247.1 234.6,246.4C235.7,245.6 237.4,244.5 237.9,244.2C238.5,243.8 237.6,244.3 238.2,244.0C238.8,243.7 240.3,242.9 241.5,242.4C242.6,241.9 243.9,241.4 245.2,241.0C246.4,240.6 248.3,240.1 249.0,240.0C249.7,239.8 248.8,240.0 249.5,239.8C250.1,239.7 251.7,239.4 252.9,239.1C254.1,238.9 255.6,238.7 256.9,238.5C258.2,238.3 260.1,238.0 260.9,237.9C261.7,237.8 261.0,237.9 261.7,237.8C262.3,237.6 263.7,237.4 264.9,237.2C266.1,237.0 267.5,236.7 268.8,236.4C270.1,236.1 271.9,235.7 272.7,235.5C273.6,235.3 273.1,235.4 273.8,235.3C274.4,235.1 275.5,234.8 276.6,234.5C277.7,234.2 279.2,233.8 280.5,233.5C281.8,233.1 283.5,232.7 284.3,232.5C285.2,232.2 283.4,232.6 285.6,232.1C287.8,231.6 293.5,230.2 297.5,229.4C301.5,228.7 305.5,228.0 309.6,227.5C313.6,227.0 317.7,226.6 321.8,226.2C325.9,225.9 330.0,225.7 334.1,225.5C338.2,225.3 342.3,225.2 346.4,225.1C350.5,225.1 354.6,225.0 358.7,225.0C362.7,225.0 366.8,225.0 370.9,225.1C375.0,225.1 379.1,225.2 383.2,225.3C387.3,225.3 391.4,225.5 395.4,225.6C399.5,225.7 403.6,225.8 407.7,226.0C411.8,226.2 415.8,226.3 419.9,226.5C424.0,226.7 428.1,226.9 432.1,227.1C436.2,227.2 440.3,227.4 444.4,227.7C448.5,227.9 452.5,228.1 456.6,228.3C460.7,228.5 464.8,228.7 468.8,228.9C472.9,229.2 477.0,229.4 481.1,229.6C485.2,229.8 489.2,230.1 493.3,230.3C497.4,230.5 501.5,230.8 505.5,231.0C509.6,231.2 513.7,231.4 517.8,231.7C521.9,231.9 526.0,232.1 530.0,232.3C534.1,232.6 538.2,232.8 542.3,233.0C546.4,233.3 550.4,233.5 554.5,233.8C558.6,234.0 562.7,234.3 566.8,234.6C570.8,234.9 574.9,235.2 579.0,235.5C583.0,235.9 587.1,236.2 591.2,236.6C595.2,237.0 599.3,237.4 603.4,237.8C607.4,238.3 611.5,238.7 615.5,239.2C619.6,239.7 623.6,240.3 627.7,240.9C631.7,241.5 635.8,242.1 639.8,242.7C643.8,243.4 647.9,244.1 651.9,244.9C655.9,245.6 659.9,246.3 664.0,247.1C668.0,247.8 672.0,248.6 676.0,249.3C680.1,250.0 684.1,250.7 688.1,251.3C692.2,251.9 696.2,252.4 700.3,252.8C704.3,253.2 708.4,253.4 712.5,253.6C716.5,253.7 720.6,253.6 724.7,253.7C728.7,253.9 732.8,253.9 736.8,254.3C740.9,254.6 744.9,255.1 748.9,255.7C753.0,256.3 757.0,257.0 761.0,257.8C765.0,258.6 769.0,259.5 773.0,260.4C777.0,261.3 781.0,262.2 785.0,263.2C789.0,264.1 793.0,265.1 797.0,266.0C801.0,266.9 805.0,267.7 809.0,268.5C813.0,269.3 817.0,270.1 821.0,270.8C825.0,271.5 829.1,272.2 833.1,272.9C837.1,273.7 841.1,274.4 845.1,275.2C849.1,276.0 853.1,276.9 857.0,277.8C861.0,278.8 865.0,279.8 869.0,280.8C872.9,281.8 876.9,282.9 880.8,284.0C884.8,285.1 888.7,286.2 892.6,287.3C896.6,288.4 900.5,289.6 904.5,290.7C908.4,291.8 912.3,292.9 916.3,294.0C920.2,295.0 924.2,296.1 928.1,297.1C932.1,298.1 938.0,299.5 940.0,300.0L945.0,520.0L780.0,520.0L245.0,300.0L215.0,262.0Z" fill="#9595fd"/>
<path d="M370.0,291.2C369.6,290.2 368.8,286.9 367.5,285.0C366.2,283.1 365.0,281.4 362.5,280.0C360.0,278.6 356.2,277.5 352.5,276.9C348.8,276.3 344.2,276.8 340.0,276.2C335.8,275.7 331.7,274.8 327.5,273.8C323.3,272.7 319.2,271.2 315.0,270.0C310.8,268.8 307.5,268.1 302.5,266.2C297.5,264.4 288.5,260.7 285.0,258.8C281.5,256.8 280.9,255.6 281.2,254.4C281.6,253.2 284.5,252.3 287.0,251.5C289.5,250.7 291.6,250.0 296.2,249.4C300.9,248.8 306.0,248.0 315.0,248.0C324.0,248.0 339.6,248.7 350.0,249.5C360.4,250.3 369.2,251.7 377.5,253.0C385.8,254.3 387.9,255.1 400.0,257.5C412.1,259.9 433.3,263.3 450.0,267.5C466.7,271.7 484.5,277.6 500.0,282.5C515.5,287.4 530.5,293.0 543.0,297.0C555.5,301.0 565.5,303.1 575.0,306.5C584.5,309.9 587.5,312.8 600.0,317.5C612.5,322.2 635.4,329.2 650.0,335.0C664.6,340.8 678.9,347.4 687.5,352.0C696.1,356.6 695.2,359.5 701.5,362.5C707.8,365.5 718.0,367.9 725.0,370.0C732.0,372.1 735.0,372.4 743.2,375.0C751.4,377.6 764.0,381.1 774.4,385.4C784.8,389.7 797.0,396.5 805.7,401.0C814.4,405.5 819.6,407.1 826.5,412.5C833.4,417.9 840.3,426.4 847.3,433.3C854.2,440.2 863.0,447.9 868.2,454.2C873.4,460.4 875.1,465.2 878.6,470.8C882.1,476.4 886.7,482.6 889.0,487.5C891.3,492.4 892.1,496.6 892.6,500.0C893.1,503.4 892.6,505.3 892.3,508.0C892.0,510.7 891.2,514.7 891.0,516.0L780.0,520.0L500.0,400.0L390.0,310.0Z" fill="#b4b4fd"/>
<path d="M757.8,481.2C756.9,478.2 762.6,480.3 765.0,480.0C767.4,479.7 770.0,479.1 772.3,479.6C774.6,480.2 777.4,481.5 778.6,483.3C779.8,485.1 778.4,486.8 779.6,490.6C780.8,494.4 787.6,504.8 786.0,506.0C784.4,507.2 774.7,502.1 770.0,498.0C765.3,493.9 758.6,484.2 757.8,481.2Z" fill="#9595fd"/>
<path d="M204.0,256.5L206.0,253.6L239.5,253.6L243.5,257.4L245.0,258.6L269.3,258.6L275.8,263.0L280.1,263.9L290.7,263.9L297.2,268.3L300.3,269.2L308.1,269.2L314.6,273.6L317.4,274.5L324.5,274.5L331.0,278.9L333.7,279.8L340.3,279.8L346.8,284.2L349.3,285.1L355.4,285.1L361.8,289.4L364.1,290.4L369.6,290.4L375.6,294.6L378.2,295.7L383.3,295.7L388.8,299.7L391.9,301.0L396.6,301.0L401.7,304.9L405.1,306.3L409.5,306.3L414.3,310.0L417.9,311.6L422.1,311.6L426.5,315.2L430.5,316.9L434.5,316.9L438.6,320.3L443.0,322.2L446.9,322.2L450.9,325.6L455.2,327.5L459.0,327.5L463.0,330.9L467.3,332.8L470.9,332.8L474.9,336.2L479.1,338.1L482.6,338.1L486.6,341.5L490.7,343.4L494.1,343.4L498.1,346.8L502.1,348.7L505.4,348.7L509.4,352.1L513.4,354.0L516.6,354.0L520.6,357.4L524.6,359.3L527.6,359.3L531.6,362.7L535.6,364.6L538.5,364.6L542.5,368.0L546.4,369.9L549.3,369.9L553.3,373.3L557.2,375.2L560.0,375.2L564.0,378.6L567.8,380.5L570.6,380.5L574.6,383.9L578.4,385.8L581.1,385.8L585.1,389.2L588.8,391.1L591.5,391.1L595.5,394.5L599.2,396.4L601.8,396.4L605.8,399.8L609.5,401.7L612.0,401.7L616.0,405.1L619.7,407.0L622.2,407.0L626.2,410.4L629.8,412.3L632.2,412.3L636.2,415.7L639.8,417.6L642.2,417.6L646.2,421.0L649.8,422.9L652.2,422.9L656.2,426.3L659.7,428.2L662.1,428.2L666.1,431.6L669.9,433.5L672.4,433.5L676.5,437.1L680.0,438.8L682.8,438.8L686.9,442.6L690.1,444.1L693.1,444.1L697.3,448.1L700.1,449.4L703.4,449.4L707.6,453.6L710.1,454.7L713.5,454.7L717.9,459.0L719.9,460.0L723.7,460.0L728.1,464.5L729.8,465.3L733.7,465.3L738.2,470.0L739.6,470.6L743.7,470.6L748.3,475.5L749.2,475.9L753.5,475.9L758.1,480.9L758.8,481.2L763.2,481.2L767.7,486.3L768.4,486.5L772.7,486.5L777.3,491.6L777.9,491.8L782.2,491.8L786.8,496.9L787.3,497.1L791.7,497.1L796.3,502.3L796.7,502.4L801.1,502.4L805.7,507.6L806.0,507.7L810.5,507.7L815.0,512.9L815.3,513.0L819.8,513.0L824.5,518.3L829.0,518.3L830.0,530.0L300.0,320.0L220.0,270.0Z" fill="#fff"/>
<path d="M162.5,275.0L163.5,272.8L164.8,270.8L166.3,268.9L168.1,267.2L170.1,265.6L172.4,264.1L174.9,262.7L177.7,261.5L180.7,260.4L184.0,259.5L187.5,258.7L191.2,258.0L195.2,257.5L199.4,257.1L203.8,256.8L208.4,256.7L213.3,256.7L218.4,256.9L223.7,257.2L229.2,257.6L234.9,258.2L240.9,258.8L247.0,259.6L253.3,260.5L259.8,261.5L266.5,262.7L273.3,264.0L280.4,265.5L287.6,267.2L295.0,269.2L302.5,271.3L310.2,273.7L318.0,276.2L326.0,278.8L334.1,281.4L342.3,284.2L350.7,287.0L359.2,290.0L367.8,293.0L376.5,296.2L385.3,299.5L394.2,303.0L403.2,306.5L412.3,310.1L421.5,313.9L430.7,317.7L440.0,321.6L449.4,325.6L458.8,329.7L468.3,333.9L477.8,338.2L487.3,342.5L496.9,347.0L506.5,351.4L516.2,356.0L525.8,360.6L535.4,365.2L545.1,369.9L554.7,374.7L564.4,379.5L574.0,384.3L583.6,389.1L593.1,394.0L602.7,398.9L612.1,403.8L621.6,408.7L631.0,413.6L640.3,418.5L649.5,423.4L658.7,428.4L667.8,433.2L676.8,438.1L685.8,443.0L694.6,447.8L703.3,452.6L712.0,457.3L720.5,462.1L728.9,466.7L737.2,471.4L745.3,475.9L753.3,480.5L761.2,484.9L768.9,489.3L776.5,493.6L783.9,497.9L791.1,502.1L798.2,506.2L805.2,510.2L811.9,514.1L818.5,518.0L824.9,521.7L831.1,525.4L837.1,528.9L842.9,532.4L848.5,535.7L853.9,538.9L859.1,542.1L864.2,545.1L868.9,547.9L873.5,550.7L877.9,553.4L882.0,555.9L885.9,558.2L889.6,560.5L893.1,562.6L896.3,564.6L899.3,566.4L902.1,568.1L904.6,569.7L906.9,571.1L909.0,572.4L910.8,573.5L912.4,574.5L913.7,575.3L914.8,576.0L915.7,576.5L916.3,576.9L916.7,577.1L916.8,577.2L915.7,579.5L915.3,579.4L914.6,579.3L913.6,579.1L912.3,578.8L910.8,578.5L909.0,578.1L906.9,577.6L904.5,577.1L901.8,576.5L898.9,575.9L895.8,575.2L892.3,574.4L888.6,573.6L884.6,572.8L880.4,571.8L875.9,570.8L871.2,569.8L866.2,568.6L861.0,567.4L855.5,566.2L849.8,564.9L843.9,563.5L837.8,562.1L831.4,560.6L824.8,559.1L818.0,557.4L811.0,555.8L803.8,554.0L796.4,552.2L788.8,550.4L781.0,548.5L773.0,546.5L764.9,544.5L756.6,542.4L748.1,540.3L739.5,538.1L730.7,535.9L721.8,533.6L712.8,531.2L703.6,528.8L694.3,526.3L684.9,523.8L675.4,521.3L665.7,518.7L656.0,516.0L646.2,513.3L636.3,510.6L626.4,507.8L616.3,505.0L606.3,502.1L596.1,499.2L585.9,496.2L575.7,493.2L565.5,490.1L555.2,487.1L544.9,483.9L534.7,480.8L524.4,477.6L514.1,474.3L503.9,471.1L493.6,467.8L483.5,464.4L473.3,461.1L463.2,457.6L453.2,454.2L443.2,450.7L433.3,447.2L423.5,443.7L413.7,440.2L404.1,436.6L394.5,433.0L385.1,429.5L375.8,425.9L366.6,422.3L357.5,418.7L348.6,415.1L339.8,411.4L331.2,407.8L322.7,404.1L314.4,400.4L306.2,396.7L298.3,393.0L290.5,389.2L282.8,385.5L275.4,381.8L268.2,378.1L261.2,374.3L254.4,370.6L247.7,366.8L241.4,363.0L235.2,359.3L229.2,355.6L223.5,351.9L218.0,348.2L212.8,344.6L207.7,340.9L203.0,337.4L198.4,333.8L194.2,330.3L190.1,326.8L186.3,323.4L182.8,320.1L179.6,316.8L176.6,313.5L173.8,310.3L171.3,307.2L169.1,304.1L167.2,301.1L165.5,298.1L164.1,295.3L162.9,292.5L162.0,289.7L161.4,287.1L161.1,284.5L161.0,282.0L161.3,279.6L161.7,277.3L162.5,275.0Z" fill="#cccccc" stroke="#000" stroke-width="1.4"/>
<path d="M187.90,97.3V258.6" stroke="#000" stroke-width="1.5" stroke-dasharray="4.6 1.8 1.3 1.8" fill="none"/>
<path d="M350.70,97.3V287.0" stroke="#000" stroke-width="1.5" stroke-dasharray="4.6 1.8 1.3 1.8" fill="none"/>
<path d="M513.50,97.3V354.7" stroke="#000" stroke-width="1.5" stroke-dasharray="4.6 1.8 1.3 1.8" fill="none"/>
<path d="M676.30,97.3V437.8" stroke="#000" stroke-width="1.5" stroke-dasharray="4.6 1.8 1.3 1.8" fill="none"/>
<path d="M839.10,97.3V513.0" stroke="#000" stroke-width="1.5" stroke-dasharray="4.6 1.8 1.3 1.8" fill="none"/>
<path d="M187.9,123.0L237.1,109.0M219.3,108.3L237.1,109.0L222.4,119.0M187.9,154.2L237.1,139.0M219.2,138.7L237.1,139.0L222.5,149.4M187.9,185.5L237.1,166.4M218.8,167.3L237.1,166.4L222.9,178.1M187.9,216.8L238.1,193.3M219.0,195.6L238.1,193.3L224.1,206.5M187.9,248.0L239.4,219.5M219.3,223.3L239.4,219.5L225.5,234.5M350.7,123.0L406.2,115.0M387.0,111.6L406.2,115.0L388.8,123.7M350.7,154.2L408.0,145.0M388.1,141.8L408.0,145.0L390.1,154.3M350.7,185.5L401.2,179.2M383.9,175.8L401.2,179.2L385.2,186.8M350.7,216.8L361.0,214.5M357.4,214.1L361.0,214.5L357.8,216.4M350.7,248.0L341.9,245.0M344.5,246.9L341.9,245.0L345.1,245.0M350.7,279.2L343.0,278.0M345.4,279.3L343.0,278.0L345.7,277.6M513.5,123.0L570.0,120.0M551.0,114.8L570.0,120.0L551.7,127.1M513.5,154.2L563.8,153.0M547.0,147.9L563.8,153.0L547.3,158.9M513.5,185.5L548.8,185.5M537.1,181.7L548.8,185.5L537.1,189.3M513.5,216.8L530.0,217.0M524.6,215.1L530.0,217.0L524.5,218.7M513.5,248.0L514.5,247.5M514.1,247.6L514.5,247.5L514.2,247.8M513.5,279.2L506.2,277.5M508.5,278.9L506.2,277.5L508.8,277.3M513.5,310.5L500.8,305.5M504.4,308.5L500.8,305.5L505.5,305.8M513.5,341.8L498.8,336.2M503.0,339.7L498.8,336.2L504.2,336.5M676.3,123.0L727.5,124.5M710.8,118.4L727.5,124.5L710.4,129.6M676.3,154.2L715.5,156.2M702.8,151.3L715.5,156.2L702.3,159.9M676.3,185.5L706.2,188.0M696.6,183.9L706.2,188.0L696.1,190.4M676.3,216.8L691.2,217.0M686.3,215.3L691.2,217.0L686.3,218.5M676.3,248.0L685.0,249.5M682.3,248.1L685.0,249.5L682.0,250.0M676.3,279.2L677.5,280.0M677.2,279.6L677.5,280.0L677.0,279.9M676.3,310.5L673.8,308.8M674.4,309.6L673.8,308.8L674.8,309.0M676.3,341.8L667.0,339.5M669.8,341.3L667.0,339.5L670.3,339.2M676.3,373.0L664.5,369.2M668.0,371.8L664.5,369.2L668.8,369.2M676.3,404.2L662.5,398.8M666.5,402.1L662.5,398.8L667.7,399.1M676.3,435.5L663.8,430.5M667.3,433.5L663.8,430.5L668.4,430.8M839.1,123.0L887.0,127.5M871.7,120.8L887.0,127.5L870.7,131.2M839.1,154.2L879.6,158.8M866.7,152.9L879.6,158.8L865.7,161.7M839.1,185.5L870.7,190.0M860.8,185.1L870.7,190.0L859.8,192.0M839.1,216.8L862.0,221.2M854.9,217.3L862.0,221.2L854.0,222.3M839.1,248.0L854.6,250.8M849.8,248.2L854.6,250.8L849.2,251.6M839.1,279.2L847.3,281.5M844.8,279.9L847.3,281.5L844.3,281.7M839.1,310.5L842.0,311.5M841.2,310.9L842.0,311.5L840.9,311.5M839.1,341.8L838.9,342.0M839.0,341.9L838.9,342.0L838.9,341.9M839.1,373.0L834.8,371.9M836.1,372.7L834.8,371.9L836.3,371.8M839.1,404.2L831.9,402.0M834.0,403.5L831.9,402.0L834.5,402.0M839.1,435.5L830.3,433.0M832.9,434.8L830.3,433.0L833.5,432.9M839.1,466.8L828.8,463.5M831.8,465.7L828.8,463.5L832.6,463.5M839.1,498.0L828.4,493.8M831.5,496.3L828.4,493.8L832.4,494.0" stroke="#000" stroke-width="1.4" fill="none" stroke-linejoin="miter"/>
<path d="M237.1,88.0C237.1,88.7 237.1,90.7 237.1,92.0C237.1,93.3 237.1,94.9 237.1,95.5C237.1,96.2 237.1,95.3 237.1,96.0C237.1,96.7 237.1,98.8 237.1,100.0C237.1,101.2 237.1,102.4 237.1,103.1C237.1,103.7 237.1,103.2 237.1,104.0C237.1,104.8 237.1,106.9 237.1,108.0C237.1,109.1 237.1,109.9 237.1,110.6C237.1,111.2 237.1,111.1 237.1,112.0C237.1,112.9 237.1,115.0 237.1,116.0C237.1,117.0 237.1,117.4 237.1,118.1C237.1,118.8 237.1,119.0 237.1,120.0C237.1,121.0 237.1,123.1 237.1,124.0C237.1,124.9 237.1,125.0 237.1,125.6C237.1,126.3 237.1,126.9 237.1,128.0C237.1,129.1 237.1,131.1 237.0,132.0C237.0,132.9 237.0,132.5 237.0,133.2C237.0,133.8 237.0,134.9 237.0,136.0C237.0,137.1 237.0,139.2 237.0,140.0C237.0,140.8 237.0,140.0 237.0,140.7C237.0,141.4 237.0,142.8 237.0,144.0C237.0,145.2 237.0,147.3 237.0,148.0C237.0,148.7 237.0,146.9 237.0,148.2C237.0,149.5 237.1,153.2 237.1,155.7C237.1,158.3 237.1,160.8 237.1,163.3C237.2,165.8 237.2,168.3 237.2,170.8C237.3,173.3 237.3,175.8 237.4,178.3C237.4,180.8 237.5,183.3 237.6,185.8C237.6,188.3 237.7,190.9 237.8,193.4C237.9,195.9 238.0,198.4 238.1,200.9C238.2,203.4 238.4,205.9 238.5,208.4C238.6,210.9 238.7,213.4 238.9,215.9C239.0,218.4 239.1,220.9 239.3,223.4C239.4,225.9 239.5,228.4 239.6,230.9C239.8,233.5 239.9,236.0 240.0,238.5C240.1,241.0 240.2,243.5 240.3,246.0C240.4,248.5 240.5,252.2 240.5,253.5" stroke="#ff0000" stroke-width="1.4" fill="none"/>
<path d="M406.3,88.0C406.2,88.7 406.1,90.8 406.1,92.1C406.0,93.3 406.0,94.9 406.0,95.5C406.0,96.2 406.0,95.3 406.0,96.1C406.0,96.9 405.9,99.0 405.9,100.1C405.9,101.3 405.9,102.3 405.9,103.0C405.9,103.6 405.9,103.2 405.9,104.1C406.0,104.9 406.0,107.0 406.0,108.1C406.0,109.1 406.1,109.7 406.1,110.3C406.1,111.0 406.1,111.1 406.1,112.0C406.2,113.0 406.2,115.1 406.3,116.0C406.3,116.9 406.3,117.0 406.4,117.7C406.4,118.4 406.4,118.9 406.5,120.0C406.5,121.0 406.6,123.1 406.7,123.9C406.7,124.8 406.7,124.4 406.8,125.1C406.8,125.7 406.9,126.7 406.9,127.9C407.0,129.0 407.1,131.1 407.2,131.8C407.2,132.6 407.2,131.8 407.2,132.4C407.3,133.1 407.4,134.6 407.5,135.8C407.5,137.1 407.7,139.2 407.7,139.8C407.8,140.5 407.7,139.2 407.7,139.9C407.8,140.5 407.9,142.6 408.0,143.9C408.1,145.1 408.2,146.7 408.2,147.4C408.2,148.1 408.2,146.7 408.2,147.9C408.3,149.2 408.5,152.5 408.4,154.9C408.4,157.3 408.3,159.9 408.0,162.3C407.6,164.7 407.1,167.0 406.4,169.3C405.6,171.5 404.6,173.7 403.5,175.8C402.3,177.9 401.0,180.0 399.6,182.0C398.1,184.0 396.5,186.0 394.9,187.9C393.2,189.8 391.4,191.7 389.6,193.5C387.8,195.4 385.9,197.1 384.1,198.9C382.2,200.7 380.3,202.4 378.4,204.2C376.5,205.9 374.7,207.6 372.9,209.3C371.1,211.1 369.3,212.7 367.6,214.5C365.9,216.2 364.2,217.9 362.6,219.7C361.0,221.4 359.4,223.2 357.8,225.1C356.3,226.9 354.7,228.8 353.2,230.7C351.7,232.7 350.2,234.7 348.8,236.7C347.4,238.8 346.0,241.0 344.7,243.2C343.5,245.4 342.3,247.7 341.3,250.0C340.4,252.3 339.6,254.7 339.2,257.1C338.7,259.5 338.5,261.9 338.6,264.3C338.7,266.8 339.2,269.3 339.9,271.6C340.6,274.0 341.7,276.3 342.9,278.4C344.2,280.6 346.7,283.4 347.5,284.4" stroke="#ff0000" stroke-width="1.4" fill="none"/>
<path d="M570.5,94.5C570.6,95.2 570.7,97.3 570.8,98.5C570.9,99.7 570.9,101.1 570.9,101.7C571.0,102.4 570.9,101.7 570.9,102.5C570.9,103.3 570.9,105.5 570.9,106.5C570.9,107.6 570.8,108.2 570.8,108.9C570.8,109.6 570.8,109.6 570.7,110.5C570.7,111.4 570.5,113.6 570.5,114.5C570.4,115.4 570.4,115.4 570.3,116.0C570.3,116.7 570.2,117.4 570.1,118.5C570.0,119.5 569.8,121.6 569.7,122.4C569.6,123.2 569.7,122.5 569.6,123.2C569.5,123.9 569.4,125.2 569.2,126.4C569.1,127.6 568.8,129.7 568.7,130.4C568.6,131.0 568.8,129.7 568.7,130.4C568.6,131.1 568.3,133.2 568.1,134.4C567.9,135.5 567.7,136.8 567.6,137.5C567.5,138.1 567.6,137.5 567.4,138.3C567.3,139.1 566.8,141.2 566.6,142.2C566.4,143.3 566.2,143.9 566.1,144.5C565.9,145.2 565.9,145.2 565.7,146.1C565.5,147.0 564.9,149.1 564.6,150.0C564.4,150.9 564.4,150.8 564.2,151.4C564.0,152.1 563.8,152.6 563.4,153.8C563.0,154.9 562.5,156.4 561.8,158.2C561.0,160.0 559.9,162.6 558.9,164.8C557.9,167.0 556.8,169.1 555.7,171.3C554.6,173.4 553.4,175.5 552.3,177.6C551.1,179.7 549.9,181.8 548.7,183.9C547.5,186.0 546.3,188.1 545.1,190.2C543.9,192.2 542.8,194.3 541.6,196.4C540.4,198.5 539.2,200.5 538.1,202.6C536.9,204.7 535.7,206.8 534.6,208.9C533.5,211.0 532.3,213.1 531.2,215.3C530.1,217.4 529.0,219.5 527.9,221.7C526.9,223.8 525.8,225.9 524.7,228.1C523.7,230.3 522.7,232.4 521.7,234.6C520.7,236.8 519.7,239.0 518.8,241.1C517.8,243.3 516.9,245.5 516.0,247.8C515.1,250.0 514.2,252.2 513.4,254.4C512.6,256.7 511.7,258.9 511.0,261.2C510.2,263.5 509.5,265.7 508.7,268.0C508.0,270.3 507.4,272.6 506.7,274.9C506.1,277.2 505.5,279.6 505.0,281.9C504.4,284.3 503.9,286.6 503.4,289.0C502.9,291.3 502.5,293.7 502.1,296.1C501.7,298.5 501.3,300.8 501.0,303.2C500.7,305.6 500.4,308.0 500.2,310.4C499.9,312.8 499.7,315.2 499.6,317.6C499.4,320.0 499.3,322.4 499.2,324.8C499.1,327.2 499.1,329.6 499.1,332.0C499.1,334.4 499.1,336.8 499.2,339.1C499.2,341.5 499.4,345.1 499.5,346.2" stroke="#ff0000" stroke-width="1.4" fill="none"/>
<path d="M730.7,98.0C730.7,98.7 730.6,100.8 730.6,102.0C730.5,103.2 730.4,104.6 730.4,105.3C730.3,105.9 730.4,105.2 730.3,106.0C730.3,106.8 730.1,108.9 730.0,110.0C729.9,111.1 729.8,111.8 729.7,112.5C729.6,113.2 729.6,113.1 729.5,114.0C729.3,114.9 729.0,117.0 728.9,117.9C728.7,118.9 728.7,119.0 728.5,119.7C728.4,120.3 728.3,120.8 728.1,121.8C727.9,122.8 727.4,124.9 727.2,125.7C727.0,126.5 727.1,126.1 726.9,126.8C726.7,127.4 726.4,128.5 726.1,129.6C725.7,130.7 725.1,132.7 724.8,133.4C724.6,134.1 725.0,133.1 724.7,133.7C724.5,134.3 723.9,136.0 723.5,137.1C723.0,138.3 722.4,139.9 722.2,140.5C721.9,141.1 722.3,140.2 722.0,140.9C721.7,141.5 720.9,143.5 720.5,144.6C720.0,145.6 719.6,146.6 719.3,147.2C719.1,147.8 719.2,147.5 718.9,148.2C718.6,149.0 717.7,151.0 717.3,151.9C716.9,152.9 716.8,153.3 716.5,153.9C716.3,154.5 716.2,154.5 715.8,155.6C715.4,156.7 714.6,158.7 713.9,160.6C713.2,162.6 712.3,165.2 711.5,167.5C710.8,169.8 710.1,172.1 709.4,174.4C708.6,176.7 707.9,179.0 707.2,181.4C706.5,183.7 705.8,186.0 705.1,188.3C704.3,190.6 703.5,192.9 702.8,195.2C702.0,197.5 701.2,199.8 700.4,202.1C699.6,204.4 698.8,206.6 698.0,208.9C697.3,211.2 696.5,213.5 695.7,215.8C694.9,218.1 694.1,220.4 693.4,222.7C692.6,225.0 691.9,227.3 691.1,229.6C690.4,231.9 689.7,234.3 689.0,236.6C688.3,238.9 687.6,241.2 686.9,243.5C686.3,245.9 685.6,248.2 685.0,250.5C684.3,252.9 683.7,255.2 683.1,257.5C682.5,259.9 681.9,262.2 681.3,264.6C680.7,266.9 680.1,269.3 679.6,271.6C679.0,274.0 678.5,276.3 678.0,278.7C677.5,281.1 677.0,283.4 676.5,285.8C676.0,288.2 675.5,290.5 675.0,292.9C674.5,295.3 674.1,297.7 673.7,300.1C673.2,302.4 672.8,304.8 672.4,307.2C671.9,309.6 671.5,312.0 671.1,314.4C670.7,316.8 670.4,319.1 670.0,321.5C669.6,323.9 669.3,326.3 668.9,328.7C668.6,331.1 668.2,333.5 667.9,335.9C667.6,338.3 667.3,340.7 666.9,343.1C666.6,345.5 666.3,347.9 666.0,350.4C665.8,352.8 665.5,355.2 665.2,357.6C664.9,360.0 664.7,362.4 664.4,364.8C664.2,367.2 663.9,369.6 663.7,372.0C663.4,374.5 663.2,376.9 663.0,379.3C662.8,381.7 662.6,384.1 662.4,386.5C662.2,388.9 662.1,391.4 662.0,393.8C661.8,396.2 661.7,398.6 661.7,401.0C661.6,403.4 661.6,405.8 661.6,408.3C661.6,410.7 661.7,413.1 661.8,415.5C661.9,417.9 662.0,420.3 662.2,422.8C662.4,425.2 662.9,428.8 663.0,430.0" stroke="#ff0000" stroke-width="1.4" fill="none"/>
<path d="M890.0,100.8C890.0,101.5 889.8,103.6 889.8,104.8C889.7,106.0 889.6,107.4 889.5,108.0C889.4,108.7 889.5,108.0 889.4,108.8C889.3,109.6 889.1,111.7 889.0,112.8C888.9,113.9 888.8,114.6 888.7,115.2C888.6,115.9 888.7,115.9 888.5,116.8C888.4,117.7 888.1,119.8 888.0,120.7C887.8,121.7 887.8,121.7 887.7,122.4C887.6,123.1 887.5,123.6 887.3,124.7C887.2,125.7 886.8,127.8 886.7,128.6C886.5,129.4 886.6,128.9 886.5,129.5C886.4,130.2 886.1,131.4 885.9,132.5C885.7,133.7 885.2,135.8 885.1,136.4C885.0,137.1 885.2,135.9 885.1,136.6C884.9,137.2 884.5,139.2 884.3,140.3C884.0,141.5 883.6,143.0 883.5,143.6C883.3,144.3 883.5,143.5 883.4,144.2C883.2,145.0 882.7,147.0 882.4,148.1C882.2,149.2 882.0,150.0 881.8,150.7C881.6,151.3 881.7,151.1 881.5,152.0C881.2,152.9 880.7,154.9 880.5,155.9C880.2,156.8 880.2,157.0 880.0,157.7C879.8,158.3 879.7,158.6 879.4,159.7C879.1,160.9 878.6,162.7 878.1,164.7C877.5,166.7 876.8,169.3 876.1,171.6C875.5,174.0 874.8,176.3 874.1,178.6C873.5,180.9 872.8,183.2 872.1,185.6C871.4,187.9 870.7,190.2 870.1,192.5C869.4,194.8 868.7,197.2 868.0,199.5C867.3,201.8 866.7,204.1 866.0,206.4C865.3,208.8 864.6,211.1 864.0,213.4C863.3,215.7 862.7,218.0 862.0,220.4C861.4,222.7 860.7,225.0 860.1,227.4C859.5,229.7 858.9,232.0 858.3,234.3C857.7,236.7 857.1,239.0 856.5,241.4C855.9,243.7 855.3,246.0 854.7,248.4C854.2,250.7 853.6,253.1 853.1,255.4C852.5,257.8 852.0,260.1 851.5,262.5C850.9,264.8 850.4,267.2 849.9,269.5C849.4,271.9 848.9,274.2 848.4,276.6C848.0,278.9 847.5,281.3 847.0,283.7C846.6,286.0 846.1,288.4 845.7,290.7C845.2,293.1 844.8,295.5 844.4,297.8C843.9,300.2 843.5,302.6 843.1,305.0C842.7,307.3 842.3,309.7 842.0,312.1C841.6,314.5 841.2,316.8 840.9,319.2C840.5,321.6 840.1,324.0 839.8,326.4C839.5,328.8 839.1,331.1 838.8,333.5C838.5,335.9 838.2,338.3 837.9,340.7C837.6,343.1 837.3,345.5 837.0,347.9C836.7,350.3 836.4,352.7 836.2,355.1C835.9,357.5 835.7,359.9 835.4,362.3C835.2,364.7 834.9,367.1 834.7,369.5C834.5,371.9 834.2,374.3 834.0,376.7C833.8,379.1 833.6,381.5 833.4,383.9C833.2,386.3 833.0,388.7 832.8,391.1C832.6,393.5 832.4,395.9 832.3,398.3C832.1,400.7 831.9,403.1 831.8,405.6C831.6,408.0 831.5,410.4 831.3,412.8C831.2,415.2 831.1,417.6 830.9,420.0C830.8,422.4 830.7,424.8 830.5,427.3C830.4,429.7 830.3,432.1 830.2,434.5C830.1,436.9 830.0,439.3 829.9,441.7C829.8,444.1 829.7,446.6 829.6,449.0C829.5,451.4 829.5,453.8 829.4,456.2C829.3,458.6 829.3,461.0 829.2,463.4C829.1,465.8 829.1,468.3 829.0,470.7C828.9,473.1 828.9,475.5 828.8,477.9C828.8,480.3 828.8,482.7 828.7,485.1C828.7,487.5 828.6,489.9 828.6,492.4C828.6,494.8 828.5,497.2 828.5,499.6C828.5,502.0 828.5,504.4 828.4,506.8C828.4,509.2 828.4,512.8 828.4,514.0" stroke="#ff0000" stroke-width="1.4" fill="none"/>
<path d="M238.0,252.5C238.3,251.9 239.3,250.1 240.1,249.0C240.9,248.0 241.8,247.0 242.7,246.1C243.7,245.1 245.2,244.0 245.8,243.5C246.3,243.1 245.5,243.7 246.1,243.3C246.6,242.9 248.0,242.0 249.1,241.3C250.2,240.7 251.5,240.0 252.7,239.4C253.8,238.8 255.6,238.0 256.3,237.7C257.0,237.3 256.4,237.6 257.0,237.4C257.6,237.1 258.8,236.6 260.0,236.1C261.1,235.7 262.4,235.2 263.7,234.7C264.9,234.3 266.7,233.7 267.5,233.4C268.3,233.1 267.9,233.3 268.6,233.1C269.2,232.9 270.2,232.6 271.3,232.2C272.4,231.9 273.9,231.5 275.2,231.2C276.4,230.8 278.1,230.4 279.0,230.2C279.9,230.0 279.9,230.0 280.5,229.8C281.2,229.7 281.9,229.5 282.9,229.3C284.0,229.0 285.5,228.7 286.9,228.4C288.2,228.1 289.8,227.7 290.8,227.5C291.7,227.3 290.3,227.6 292.6,227.1C295.0,226.6 300.7,225.4 304.7,224.6C308.8,223.8 312.8,223.0 316.9,222.2C320.9,221.5 325.0,220.8 329.1,220.1C333.1,219.4 337.2,218.8 341.3,218.1C345.3,217.5 349.4,217.0 353.5,216.4C357.6,215.9 361.7,215.4 365.8,214.9C369.9,214.4 374.0,214.0 378.1,213.5C382.2,213.1 386.3,212.7 390.4,212.4C394.5,212.0 398.6,211.7 402.7,211.3C406.9,211.0 411.0,210.7 415.1,210.5C419.2,210.2 423.3,210.0 427.5,209.8C431.6,209.5 435.7,209.4 439.8,209.2C444.0,209.0 448.1,208.9 452.2,208.7C456.4,208.6 460.5,208.5 464.6,208.4C468.7,208.3 472.9,208.2 477.0,208.1C481.1,208.1 485.3,208.0 489.4,208.0C493.5,208.0 497.6,208.0 501.8,208.0C505.9,208.0 510.0,208.0 514.2,208.0C518.3,208.1 522.4,208.1 526.5,208.2C530.7,208.3 534.8,208.3 538.9,208.4C543.0,208.6 547.2,208.7 551.3,208.8C555.4,208.9 559.5,209.1 563.7,209.3C567.8,209.4 571.9,209.6 576.0,209.8C580.1,210.0 584.3,210.2 588.4,210.5C592.5,210.7 596.6,211.0 600.7,211.2C604.8,211.5 609.0,211.8 613.1,212.1C617.2,212.4 621.3,212.7 625.4,213.0C629.5,213.4 633.6,213.7 637.7,214.1C641.8,214.5 645.9,214.9 650.0,215.3C654.1,215.7 658.3,216.1 662.4,216.5C666.5,216.9 670.6,217.4 674.7,217.9C678.8,218.3 682.8,218.8 686.9,219.3C691.0,219.8 695.1,220.3 699.2,220.9C703.3,221.4 707.4,222.0 711.5,222.5C715.6,223.1 719.7,223.7 723.7,224.3C727.8,224.9 731.9,225.5 736.0,226.2C740.1,226.8 744.1,227.5 748.2,228.1C752.3,228.8 756.4,229.5 760.4,230.2C764.5,230.9 768.6,231.6 772.6,232.4C776.7,233.1 780.7,233.9 784.8,234.7C788.8,235.5 792.9,236.3 796.9,237.1C801.0,237.9 805.0,238.8 809.1,239.6C813.1,240.5 817.1,241.4 821.1,242.3C825.2,243.2 829.2,244.1 833.2,245.1C837.2,246.1 841.2,247.0 845.2,248.0C849.2,249.0 853.2,250.0 857.2,251.1C861.2,252.1 865.2,253.2 869.2,254.3C873.2,255.4 877.1,256.5 881.1,257.6C885.1,258.7 889.0,259.9 893.0,261.1C896.9,262.3 900.9,263.5 904.8,264.7C908.7,265.9 912.7,267.2 916.6,268.5C920.5,269.8 924.4,271.1 928.3,272.4C932.2,273.7 938.1,275.8 940.0,276.5" stroke="#000" stroke-width="3.8" fill="none"/>
<path d="M238.0,252.5C238.5,252.1 240.0,250.7 241.1,250.0C242.2,249.2 243.4,248.6 244.5,248.0C245.7,247.3 247.5,246.5 248.1,246.2C248.8,245.9 247.8,246.3 248.4,246.0C249.0,245.8 250.6,245.0 251.8,244.5C253.0,244.0 254.3,243.5 255.5,243.1C256.8,242.6 258.6,242.0 259.3,241.8C260.0,241.5 259.2,241.8 259.9,241.6C260.5,241.4 261.9,241.0 263.1,240.7C264.3,240.4 265.7,240.0 267.0,239.8C268.3,239.5 270.1,239.1 270.9,239.0C271.8,238.8 271.2,238.9 271.9,238.8C272.5,238.7 273.7,238.5 274.9,238.4C276.1,238.2 277.6,238.0 278.9,237.8C280.2,237.7 282.0,237.5 282.9,237.4C283.7,237.3 283.4,237.3 284.1,237.2C284.8,237.2 285.7,237.1 286.9,237.0C288.0,236.9 289.5,236.7 290.8,236.6C292.2,236.5 293.9,236.4 294.8,236.3C295.8,236.2 294.1,236.3 296.4,236.2C298.7,236.1 304.6,235.7 308.7,235.6C312.8,235.4 316.9,235.3 321.0,235.3C325.1,235.2 329.2,235.2 333.3,235.3C337.4,235.3 341.5,235.4 345.6,235.5C349.7,235.6 353.8,235.7 357.9,235.9C362.0,236.0 366.1,236.2 370.2,236.4C374.3,236.6 378.4,236.8 382.5,237.1C386.5,237.4 390.6,237.6 394.7,237.9C398.8,238.2 402.9,238.6 407.0,238.9C411.1,239.3 415.2,239.7 419.2,240.0C423.3,240.4 427.4,240.9 431.5,241.3C435.6,241.7 439.6,242.2 443.7,242.7C447.8,243.1 451.9,243.6 455.9,244.2C460.0,244.7 464.1,245.2 468.1,245.8C472.2,246.3 476.3,246.9 480.3,247.5C484.4,248.1 488.4,248.7 492.5,249.3C496.6,250.0 500.6,250.6 504.7,251.3C508.7,251.9 512.8,252.6 516.8,253.3C520.9,254.0 524.9,254.7 528.9,255.4C533.0,256.1 537.0,256.9 541.0,257.6C545.1,258.4 549.1,259.1 553.1,259.9C557.2,260.7 561.2,261.5 565.2,262.3C569.2,263.1 573.3,263.9 577.3,264.8C581.3,265.6 585.3,266.4 589.3,267.3C593.3,268.1 597.3,269.0 601.3,269.9C605.3,270.8 609.3,271.6 613.3,272.6C617.3,273.5 621.3,274.4 625.3,275.3C629.3,276.3 633.3,277.2 637.2,278.2C641.2,279.2 645.2,280.2 649.2,281.3C653.1,282.3 657.1,283.3 661.1,284.4C665.0,285.5 669.0,286.6 673.0,287.6C676.9,288.7 680.9,289.8 684.9,290.8C688.8,291.9 692.8,292.9 696.8,293.8C700.8,294.8 704.8,295.7 708.8,296.6C712.8,297.5 716.8,298.4 720.8,299.3C724.8,300.2 728.8,301.0 732.8,301.9C736.8,302.8 740.8,303.7 744.8,304.6C748.8,305.5 752.8,306.5 756.8,307.5C760.7,308.5 764.7,309.5 768.7,310.6C772.6,311.7 776.5,312.9 780.5,314.1C784.4,315.3 788.3,316.5 792.3,317.7C796.2,318.9 800.1,320.1 804.1,321.2C808.0,322.4 811.9,323.5 815.9,324.7C819.8,325.8 823.8,326.9 827.7,328.0C831.7,329.1 835.6,330.3 839.5,331.4C843.5,332.6 847.4,333.8 851.3,335.0C855.2,336.3 859.1,337.5 863.0,338.9C866.8,340.2 870.7,341.6 874.5,343.1C878.3,344.6 882.1,346.2 885.9,347.8C889.7,349.4 893.5,351.1 897.3,352.6C901.1,354.0 905.0,355.5 908.9,356.6C912.9,357.6 919.0,358.6 921.0,359.0" stroke="#000" stroke-width="5.3" stroke-dasharray="18.9 18.9" fill="none"/>
<path d="M229.3,247.8C229.6,247.2 230.4,245.3 231.1,244.2C231.8,243.0 232.6,241.9 233.5,240.9C234.4,239.9 235.8,238.6 236.3,238.1C236.8,237.6 236.0,238.3 236.6,237.9C237.1,237.5 238.4,236.4 239.5,235.7C240.6,235.1 241.8,234.4 243.0,233.8C244.2,233.2 245.9,232.5 246.6,232.2C247.3,231.9 246.6,232.2 247.3,232.0C247.9,231.7 249.2,231.2 250.4,230.8C251.6,230.4 253.0,229.9 254.2,229.5C255.5,229.1 257.3,228.6 258.1,228.3C258.8,228.0 258.4,228.2 259.0,228.0C259.6,227.8 260.8,227.5 261.9,227.1C263.0,226.8 264.4,226.4 265.7,226.0C267.0,225.6 268.7,225.1 269.6,224.9C270.4,224.6 270.2,224.7 270.8,224.5C271.5,224.3 272.4,224.1 273.4,223.8C274.5,223.5 276.0,223.1 277.3,222.8C278.6,222.4 280.3,222.0 281.2,221.8C282.1,221.5 280.5,221.9 282.8,221.4C285.0,220.8 290.7,219.4 294.7,218.5C298.7,217.5 302.7,216.6 306.7,215.7C310.7,214.9 314.8,214.0 318.8,213.2C322.8,212.3 326.8,211.5 330.9,210.7C334.9,209.9 338.9,209.2 343.0,208.4C347.0,207.7 351.0,207.0 355.1,206.2C359.1,205.5 363.2,204.9 367.2,204.2C371.3,203.5 375.4,202.9 379.4,202.2C383.5,201.6 387.6,201.0 391.6,200.4C395.7,199.8 399.8,199.2 403.8,198.6C407.9,198.1 412.0,197.5 416.1,197.0C420.1,196.4 424.2,195.9 428.3,195.4C432.4,194.9 436.5,194.4 440.5,193.9C444.6,193.4 448.7,192.9 452.8,192.4C456.9,192.0 460.9,191.5 465.0,191.1C469.1,190.6 473.2,190.2 477.3,189.7C481.4,189.3 485.5,188.9 489.6,188.5C493.6,188.1 497.7,187.7 501.8,187.3C505.9,186.9 510.0,186.6 514.1,186.2C518.2,185.8 522.3,185.5 526.4,185.1C530.5,184.8 534.6,184.4 538.7,184.1C542.8,183.8 546.9,183.5 551.0,183.2C555.1,182.9 559.2,182.6 563.3,182.3C567.4,182.0 571.5,181.7 575.6,181.5C579.7,181.2 583.8,180.9 587.9,180.7C592.0,180.4 596.1,180.2 600.2,180.0C604.3,179.7 608.4,179.5 612.5,179.3C616.6,179.1 620.7,178.9 624.8,178.7C628.9,178.5 633.0,178.3 637.1,178.1C641.2,177.9 645.3,177.7 649.4,177.6C653.5,177.4 657.7,177.3 661.8,177.1C665.9,177.0 670.0,176.8 674.1,176.7C678.2,176.5 682.3,176.4 686.4,176.3C690.5,176.2 694.6,176.1 698.7,176.0C702.8,175.8 707.0,175.7 711.1,175.7C715.2,175.6 719.3,175.5 723.4,175.4C727.5,175.3 731.6,175.2 735.7,175.2C739.8,175.1 744.0,175.0 748.1,175.0C752.2,174.9 756.3,174.9 760.4,174.9C764.5,174.8 768.6,174.8 772.7,174.7C776.8,174.7 781.0,174.7 785.1,174.7C789.2,174.6 793.3,174.6 797.4,174.6C801.5,174.6 805.6,174.6 809.7,174.6C813.8,174.6 818.0,174.6 822.1,174.6C826.2,174.7 830.3,174.7 834.4,174.7C838.5,174.7 842.6,174.7 846.7,174.8C850.8,174.8 854.9,174.8 859.1,174.9C863.2,174.9 867.3,175.0 871.4,175.0C875.5,175.1 879.6,175.1 883.7,175.2C887.8,175.2 891.9,175.3 896.0,175.3C900.1,175.4 904.3,175.5 908.4,175.5C912.5,175.6 916.6,175.7 920.7,175.8C924.8,175.8 930.9,176.0 933.0,176.0" stroke="#ff0000" stroke-width="1.25" stroke-dasharray="5 3.7" fill="none"/>
<path d="M239.2,315.5V270" stroke="#000" stroke-width="1.5" fill="none"/>
<path d="M239.2,258L249,283.8L239.2,276.2L229.4,283.8Z" fill="#000"/>
<circle cx="350.8" cy="351.1" r="7.35" fill="none" stroke="#000" stroke-width="1.55"/>
</g>
<path d="M162.30,512.80v-7.8M162.30,90.70v7.8M325.10,512.80v-7.8M325.10,90.70v7.8M487.90,512.80v-7.8M487.90,90.70v7.8M650.70,512.80v-7.8M650.70,90.70v7.8M813.50,512.80v-7.8M813.50,90.70v7.8M123.15,112.25h7.8M937.00,112.25h-7.8M123.15,193.38h7.8M937.00,193.38h-7.8M123.15,274.50h7.8M937.00,274.50h-7.8M123.15,355.62h7.8M937.00,355.62h-7.8M123.15,436.75h7.8M937.00,436.75h-7.8" stroke="#111" stroke-width="1.1" fill="none"/>
<rect x="123.15" y="90.7" width="813.85" height="422.1" fill="none" stroke="#262626" stroke-width="1.7"/>
<text class="lab"><tspan x="139.2" y="468" style="font-weight:bold;font-size:38.6px">(d)</tspan><tspan x="187.4" y="470.5" style="font-style:italic;font-size:39.5px"> F</tspan><tspan x="225.8" y="461.7" style="font-size:21px;font-weight:bold">*</tspan><tspan x="238.6" y="476.8" style="font-size:50px"> =</tspan><tspan x="279.9" y="470.5" style="font-size:39.5px;letter-spacing:-0.5px"> 2</tspan></text>
</g>
<text x="109.6" y="126.2" class="tk" text-anchor="end">0.2</text>
<text x="109.6" y="207.3" class="tk" text-anchor="end">0.1</text>
<text x="109.6" y="288.4" class="tk" text-anchor="end">0</text>
<text x="109.6" y="369.5" class="tk" text-anchor="end">-0.1</text>
<text x="109.6" y="450.6" class="tk" text-anchor="end">-0.2</text>
<text transform="translate(30.2,301.8) rotate(-90)" class="axl"><tspan x="-25" y="0">y</tspan><tspan x="-6.5" y="8" class="sl" style="font-style:normal">/</tspan><tspan x="11.5" y="0">c</tspan></text>
<text x="109.6" y="568.6" class="tk" text-anchor="end">0.2</text>
<text x="109.6" y="649.8" class="tk" text-anchor="end">0.1</text>
<text x="109.6" y="731.1" class="tk" text-anchor="end">0</text>
<text x="109.6" y="812.3" class="tk" text-anchor="end">-0.1</text>
<text x="109.6" y="893.6" class="tk" text-anchor="end">-0.2</text>
<text transform="translate(30.2,744.1) rotate(-90)" class="axl"><tspan x="-25" y="0">y</tspan><tspan x="-6.5" y="8" class="sl" style="font-style:normal">/</tspan><tspan x="11.5" y="0">c</tspan></text>
<text x="162.5" y="1002.8" class="tk" text-anchor="middle">0.0</text>
<text x="320.4" y="1002.8" class="tk" text-anchor="middle">0.2</text>
<text x="482.5" y="1002.8" class="tk" text-anchor="middle">0.4</text>
<text x="645.5" y="1002.8" class="tk" text-anchor="middle">0.6</text>
<text x="807.8" y="1002.8" class="tk" text-anchor="middle">0.8</text>
<text transform="translate(530.1,1045)" class="axl"><tspan x="-26.5" y="0">x</tspan><tspan x="-5" y="8" class="sl" style="font-style:normal">/</tspan><tspan x="13.5" y="0">c</tspan></text>
<text x="995.4" y="1002.8" class="tk" text-anchor="middle">0.0</text>
<text x="1153.1" y="1002.8" class="tk" text-anchor="middle">0.2</text>
<text x="1315.0" y="1002.8" class="tk" text-anchor="middle">0.4</text>
<text x="1477.8" y="1002.8" class="tk" text-anchor="middle">0.6</text>
<text x="1639.9" y="1002.8" class="tk" text-anchor="middle">0.8</text>
<text transform="translate(1363.0,1045)" class="axl"><tspan x="-26.5" y="0">x</tspan><tspan x="-5" y="8" class="sl" style="font-style:normal">/</tspan><tspan x="13.5" y="0">c</tspan></text>
</svg></body></html>
